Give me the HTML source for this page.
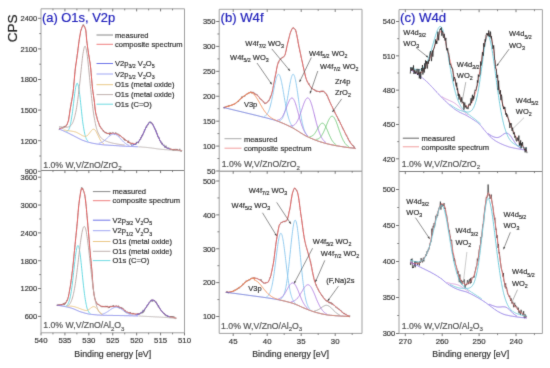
<!DOCTYPE html>
<html><head><meta charset="utf-8"><style>html,body{margin:0;padding:0;background:#fff;overflow:hidden}svg{display:block;}</style></head><body>
<svg width="550" height="368" viewBox="0 0 550 368" font-family='"Liberation Sans", sans-serif'>
<defs><filter id="bl" x="0" y="0" width="550" height="368" filterUnits="userSpaceOnUse"><feConvolveMatrix order="3" kernelMatrix="0.0113 0.0838 0.0113 0.0838 0.6193 0.0838 0.0113 0.0838 0.0113" edgeMode="duplicate"/></filter></defs>
<rect width="550" height="368" fill="#fff"/>
<g filter="url(#bl)">
<line x1="41.00" y1="8.80" x2="41.00" y2="170.50" stroke="#a0a0a0" stroke-width="1"/>
<line x1="184.50" y1="8.80" x2="184.50" y2="170.50" stroke="#a0a0a0" stroke-width="1"/>
<line x1="41.00" y1="8.80" x2="184.50" y2="8.80" stroke="#a0a0a0" stroke-width="1"/>
<line x1="41.00" y1="170.50" x2="184.50" y2="170.50" stroke="#808080" stroke-width="1"/>
<line x1="38.00" y1="18.30" x2="41.00" y2="18.30" stroke="#555" stroke-width="0.8"/>
<text x="37.20" y="21.10" font-size="7.5" fill="#3a3a3a" stroke="#3a3a3a" stroke-width="0.2" text-anchor="end" >2400</text>
<line x1="38.00" y1="48.90" x2="41.00" y2="48.90" stroke="#555" stroke-width="0.8"/>
<text x="37.20" y="51.70" font-size="7.5" fill="#3a3a3a" stroke="#3a3a3a" stroke-width="0.2" text-anchor="end" >2100</text>
<line x1="38.00" y1="79.50" x2="41.00" y2="79.50" stroke="#555" stroke-width="0.8"/>
<text x="37.20" y="82.30" font-size="7.5" fill="#3a3a3a" stroke="#3a3a3a" stroke-width="0.2" text-anchor="end" >1800</text>
<line x1="38.00" y1="110.10" x2="41.00" y2="110.10" stroke="#555" stroke-width="0.8"/>
<text x="37.20" y="112.90" font-size="7.5" fill="#3a3a3a" stroke="#3a3a3a" stroke-width="0.2" text-anchor="end" >1500</text>
<line x1="38.00" y1="140.70" x2="41.00" y2="140.70" stroke="#555" stroke-width="0.8"/>
<text x="37.20" y="143.50" font-size="7.5" fill="#3a3a3a" stroke="#3a3a3a" stroke-width="0.2" text-anchor="end" >1200</text>
<line x1="38.00" y1="171.30" x2="41.00" y2="171.30" stroke="#555" stroke-width="0.8"/>
<text x="37.20" y="174.10" font-size="7.5" fill="#3a3a3a" stroke="#3a3a3a" stroke-width="0.2" text-anchor="end" >900</text>
<line x1="39.20" y1="33.60" x2="41.00" y2="33.60" stroke="#555" stroke-width="0.7"/>
<line x1="39.20" y1="64.20" x2="41.00" y2="64.20" stroke="#555" stroke-width="0.7"/>
<line x1="39.20" y1="94.80" x2="41.00" y2="94.80" stroke="#555" stroke-width="0.7"/>
<line x1="39.20" y1="125.40" x2="41.00" y2="125.40" stroke="#555" stroke-width="0.7"/>
<line x1="39.20" y1="156.00" x2="41.00" y2="156.00" stroke="#555" stroke-width="0.7"/>
<line x1="64.92" y1="8.80" x2="64.92" y2="11.40" stroke="#555" stroke-width="0.8"/>
<line x1="88.83" y1="8.80" x2="88.83" y2="11.40" stroke="#555" stroke-width="0.8"/>
<line x1="112.75" y1="8.80" x2="112.75" y2="11.40" stroke="#555" stroke-width="0.8"/>
<line x1="136.67" y1="8.80" x2="136.67" y2="11.40" stroke="#555" stroke-width="0.8"/>
<line x1="160.58" y1="8.80" x2="160.58" y2="11.40" stroke="#555" stroke-width="0.8"/>
<line x1="52.96" y1="8.80" x2="52.96" y2="10.40" stroke="#555" stroke-width="0.7"/>
<line x1="76.88" y1="8.80" x2="76.88" y2="10.40" stroke="#555" stroke-width="0.7"/>
<line x1="100.79" y1="8.80" x2="100.79" y2="10.40" stroke="#555" stroke-width="0.7"/>
<line x1="124.71" y1="8.80" x2="124.71" y2="10.40" stroke="#555" stroke-width="0.7"/>
<line x1="148.62" y1="8.80" x2="148.62" y2="10.40" stroke="#555" stroke-width="0.7"/>
<line x1="172.54" y1="8.80" x2="172.54" y2="10.40" stroke="#555" stroke-width="0.7"/>
<path d="M59.0,130.1 59.3,129.2 59.6,128.9 59.9,127.6 60.2,128.4 60.5,128.3 60.8,128.3 61.2,127.9 61.5,128.1 61.8,127.7 62.1,127.1 62.4,128.3 62.7,128.2 63.0,128.5 63.3,127.4 63.6,127.0 63.9,126.8 64.2,126.0 64.5,127.4 64.9,126.0 65.2,125.8 65.5,126.2 65.8,127.0 66.1,126.0 66.4,125.0 66.7,124.8 67.0,125.0 67.3,123.8 67.6,122.6 67.9,122.0 68.2,121.6 68.6,120.9 68.9,117.3 69.2,115.8 69.5,113.7 69.8,110.7 70.1,109.6 70.4,107.5 70.7,107.0 71.0,104.6 71.3,102.0 71.6,101.8 71.9,99.5 72.3,96.9 72.6,95.7 72.9,93.6 73.2,91.0 73.5,88.7 73.8,84.0 74.1,81.7 74.4,78.8 74.7,75.2 75.0,72.1 75.3,69.2 75.6,67.0 76.0,63.3 76.3,62.4 76.6,58.8 76.9,57.5 77.2,54.5 77.5,53.8 77.8,51.5 78.1,48.1 78.4,47.0 78.7,43.3 79.0,41.6 79.3,39.4 79.7,36.5 80.0,35.4 80.3,34.4 80.6,31.0 80.9,30.9 81.2,29.3 81.5,29.6 81.8,28.0 82.1,27.3 82.4,26.7 82.7,25.9 83.0,24.6 83.4,26.2 83.7,24.7 84.0,25.9 84.3,26.6 84.6,26.2 84.9,27.5 85.2,28.9 85.5,29.0 85.8,30.2 86.1,31.8 86.4,36.4 86.7,40.2 87.1,43.2 87.4,45.3 87.7,48.3 88.0,49.8 88.3,52.1 88.6,54.5 88.9,55.5 89.2,57.6 89.5,60.7 89.8,61.7 90.1,62.5 90.4,65.8 90.8,69.4 91.1,73.3 91.4,76.3 91.7,79.5 92.0,83.0 92.3,87.0 92.6,89.5 92.9,91.4 93.2,93.7 93.5,95.5 93.8,98.3 94.1,99.6 94.5,102.9 94.8,106.5 95.1,109.3 95.4,110.5 95.7,113.5 96.0,113.7 96.3,115.7 96.6,116.1 96.9,116.7 97.2,118.9 97.5,120.0 97.8,120.8 98.2,121.9 98.5,122.3 98.8,123.0 99.1,124.1 99.4,126.1 99.7,126.1 100.0,125.9 100.3,127.1 100.6,127.0 100.9,127.5 101.2,128.8 101.5,128.5 101.8,128.2 102.2,129.1 102.5,130.0 102.8,130.4 103.1,131.3 103.4,130.4 103.7,131.6 104.0,131.6 104.3,131.6 104.6,132.4 104.9,132.4 105.2,131.9 105.5,133.2 105.9,132.0 106.2,133.0 106.5,133.1 106.8,133.5 107.1,132.9 107.4,133.4 107.7,133.4 108.0,134.1 108.3,133.0 108.6,133.5 108.9,133.3 109.2,132.7 109.6,135.1 109.9,133.4 110.2,132.5 110.5,134.3 110.8,132.8 111.1,133.6 111.4,133.9 111.7,133.0 112.0,133.1 112.3,133.0 112.6,133.2 112.9,132.3 113.3,132.6 113.6,133.2 113.9,133.9 114.2,133.7 114.5,134.4 114.8,133.8 115.1,133.2 115.4,133.5 115.7,132.4 116.0,133.2 116.3,133.2 116.6,134.1 117.0,134.5 117.3,133.9 117.6,134.0 117.9,133.6 118.2,134.6 118.5,134.9 118.8,135.2 119.1,134.6 119.4,136.4 119.7,136.1 120.0,135.5 120.3,135.5 120.7,135.8 121.0,136.3 121.3,136.5 121.6,137.0 121.9,137.4 122.2,138.0 122.5,138.2 122.8,137.7 123.1,138.2 123.4,138.0 123.7,138.2 124.0,139.9 124.4,138.7 124.7,140.5 125.0,139.3 125.3,139.9 125.6,140.6 125.9,140.2 126.2,140.6 126.5,140.5 126.8,140.6 127.1,141.0 127.4,140.9 127.7,142.5 128.1,141.7 128.4,143.0 128.7,140.6 129.0,142.4 129.3,142.8 129.6,142.5 129.9,143.4 130.2,143.3 130.5,142.8 130.8,143.3 131.1,144.9 131.4,143.4 131.8,143.5 132.1,143.2 132.4,143.6 132.7,142.8 133.0,143.5 133.3,145.1 133.6,144.3 133.9,144.1 134.2,144.4 134.5,144.9 134.8,144.1 135.1,144.9 135.5,144.3 135.8,143.6 136.1,144.5 136.4,141.9 136.7,142.8 137.0,143.1 137.3,142.2 137.6,142.4 137.9,141.9 138.2,141.6 138.5,143.2 138.8,141.6 139.2,140.8 139.5,141.1 139.8,139.7 140.1,139.9 140.4,139.1 140.7,139.4 141.0,137.0 141.3,137.8 141.6,136.8 141.9,135.5 142.2,136.2 142.5,134.4 142.8,135.3 143.2,134.0 143.5,133.4 143.8,132.4 144.1,132.2 144.4,129.9 144.7,130.3 145.0,129.3 145.3,129.1 145.6,128.3 145.9,128.0 146.2,126.5 146.5,127.5 146.9,127.3 147.2,125.2 147.5,124.8 147.8,124.5 148.1,124.7 148.4,124.7 148.7,122.5 149.0,122.6 149.3,122.1 149.6,121.9 149.9,121.5 150.2,122.7 150.6,121.8 150.9,123.5 151.2,123.3 151.5,122.4 151.8,122.6 152.1,123.2 152.4,124.9 152.7,124.0 153.0,124.1 153.3,125.5 153.6,126.4 153.9,126.4 154.3,128.4 154.6,128.2 154.9,129.1 155.2,129.0 155.5,130.2 155.8,130.9 156.1,130.4 156.4,132.7 156.7,132.2 157.0,134.0 157.3,133.8 157.6,136.7 158.0,136.4 158.3,137.4 158.6,138.1 158.9,137.4 159.2,137.5 159.5,139.3 159.8,140.6 160.1,140.7 160.4,141.7 160.7,142.3 161.0,141.4 161.3,142.9 161.7,144.4 162.0,143.3 162.3,142.8 162.6,144.3 162.9,144.5 163.2,145.4 163.5,145.0 163.8,145.8 164.1,144.7 164.4,146.9 164.7,147.5 165.0,147.6 165.4,146.1 165.7,147.4 166.0,145.6 166.3,147.8 166.6,147.7 166.9,147.3 167.2,148.3 167.5,148.3 167.8,148.9 168.1,148.5 168.4,148.7 168.7,147.5 169.1,148.0 169.4,148.5 169.7,149.1 170.0,149.0 170.3,149.9 170.6,148.6 170.9,149.0 171.2,149.4 171.5,149.2 171.8,149.7 172.1,149.1 172.4,150.3 172.8,149.3 173.1,150.2 173.4,149.6 173.7,150.6 174.0,148.9 174.3,150.1 174.6,149.5 174.9,150.0 175.2,150.6 175.5,149.2 175.8,149.2 176.1,149.4 176.5,150.2 176.8,148.9 177.1,150.2 177.4,149.4 177.7,149.5 178.0,150.0 178.3,150.5 178.6,149.9 178.9,150.0 179.2,150.3 179.5,150.2 179.8,148.8 180.2,150.2 180.5,150.5 180.8,151.2 181.1,151.8 181.4,151.0 181.7,150.7 182.0,150.1" fill="none" stroke="#666" stroke-width="0.6" stroke-opacity="1.0" stroke-linejoin="round" />
<path d="M59.0,129.0 59.3,128.9 59.6,128.8 59.9,128.7 60.2,128.6 60.5,128.5 60.8,128.4 61.2,128.3 61.5,128.2 61.8,128.0 62.1,127.9 62.4,127.8 62.7,127.6 63.0,127.5 63.3,127.4 63.6,127.2 63.9,127.1 64.2,127.0 64.5,126.8 64.9,126.7 65.2,126.5 65.5,126.3 65.8,126.1 66.1,125.9 66.4,125.6 66.7,125.2 67.0,124.6 67.3,123.9 67.6,123.1 67.9,122.2 68.2,121.1 68.6,119.7 68.9,118.0 69.2,116.2 69.5,114.2 69.8,112.1 70.1,110.1 70.4,108.2 70.7,106.3 71.0,104.6 71.3,103.0 71.6,101.4 71.9,99.7 72.3,97.9 72.6,96.0 72.9,93.9 73.2,91.5 73.5,88.6 73.8,85.3 74.1,81.8 74.4,78.2 74.7,74.7 75.0,71.4 75.3,68.5 75.6,66.1 76.0,63.9 76.3,61.9 76.6,59.9 76.9,57.9 77.2,55.6 77.5,53.2 77.8,50.7 78.1,48.3 78.4,45.9 78.7,43.7 79.0,41.5 79.3,39.3 79.7,37.2 80.0,35.1 80.3,33.3 80.6,31.6 80.9,30.4 81.2,29.4 81.5,28.5 81.8,27.7 82.1,26.9 82.4,26.3 82.7,25.8 83.0,25.5 83.4,25.4 83.7,25.5 84.0,25.8 84.3,26.2 84.6,26.8 84.9,27.4 85.2,28.2 85.5,29.0 85.8,30.7 86.1,33.6 86.4,37.0 86.7,40.5 87.1,43.5 87.4,45.9 87.7,48.1 88.0,50.2 88.3,52.2 88.6,54.1 88.9,56.0 89.2,57.8 89.5,59.4 89.8,61.2 90.1,63.3 90.4,65.9 90.8,69.0 91.1,72.5 91.4,76.2 91.7,79.9 92.0,83.4 92.3,86.6 92.6,89.3 92.9,91.7 93.2,93.8 93.5,95.8 93.8,97.8 94.1,100.0 94.5,102.6 94.8,106.0 95.1,109.0 95.4,111.0 95.7,112.7 96.0,114.1 96.3,115.4 96.6,116.6 96.9,117.7 97.2,118.8 97.5,119.8 97.8,120.8 98.2,121.8 98.5,122.6 98.8,123.5 99.1,124.2 99.4,124.9 99.7,125.6 100.0,126.2 100.3,126.8 100.6,127.3 100.9,127.8 101.2,128.3 101.5,128.8 101.8,129.2 102.2,129.6 102.5,130.0 102.8,130.3 103.1,130.6 103.4,130.8 103.7,131.1 104.0,131.4 104.3,131.6 104.6,131.9 104.9,132.1 105.2,132.4 105.5,132.6 105.9,132.8 106.2,133.0 106.5,133.1 106.8,133.3 107.1,133.4 107.4,133.4 107.7,133.5 108.0,133.5 108.3,133.5 108.6,133.5 108.9,133.5 109.2,133.5 109.6,133.5 109.9,133.4 110.2,133.4 110.5,133.4 110.8,133.4 111.1,133.4 111.4,133.4 111.7,133.4 112.0,133.3 112.3,133.3 112.6,133.3 112.9,133.3 113.3,133.3 113.6,133.3 113.9,133.3 114.2,133.3 114.5,133.4 114.8,133.4 115.1,133.5 115.4,133.6 115.7,133.6 116.0,133.7 116.3,133.9 116.6,134.0 117.0,134.1 117.3,134.2 117.6,134.4 117.9,134.5 118.2,134.6 118.5,134.8 118.8,134.9 119.1,135.1 119.4,135.2 119.7,135.4 120.0,135.6 120.3,135.8 120.7,136.0 121.0,136.2 121.3,136.5 121.6,136.7 121.9,137.0 122.2,137.2 122.5,137.5 122.8,137.7 123.1,138.0 123.4,138.3 123.7,138.5 124.0,138.8 124.4,139.0 124.7,139.3 125.0,139.5 125.3,139.7 125.6,139.9 125.9,140.2 126.2,140.4 126.5,140.6 126.8,140.9 127.1,141.1 127.4,141.3 127.7,141.6 128.1,141.8 128.4,142.0 128.7,142.2 129.0,142.3 129.3,142.5 129.6,142.6 129.9,142.8 130.2,142.9 130.5,143.0 130.8,143.1 131.1,143.2 131.4,143.3 131.8,143.3 132.1,143.4 132.4,143.5 132.7,143.6 133.0,143.6 133.3,143.7 133.6,143.7 133.9,143.7 134.2,143.7 134.5,143.7 134.8,143.7 135.1,143.7 135.5,143.6 135.8,143.5 136.1,143.4 136.4,143.3 136.7,143.1 137.0,143.0 137.3,142.8 137.6,142.5 137.9,142.3 138.2,142.0 138.5,141.6 138.8,141.2 139.2,140.8 139.5,140.3 139.8,139.9 140.1,139.4 140.4,138.9 140.7,138.4 141.0,137.9 141.3,137.3 141.6,136.7 141.9,136.2 142.2,135.6 142.5,134.9 142.8,134.3 143.2,133.6 143.5,133.0 143.8,132.3 144.1,131.7 144.4,131.0 144.7,130.3 145.0,129.6 145.3,129.0 145.6,128.3 145.9,127.7 146.2,127.0 146.5,126.4 146.9,125.9 147.2,125.3 147.5,124.8 147.8,124.3 148.1,123.9 148.4,123.5 148.7,123.2 149.0,122.9 149.3,122.7 149.6,122.6 149.9,122.5 150.2,122.4 150.6,122.5 150.9,122.6 151.2,122.7 151.5,123.0 151.8,123.3 152.1,123.6 152.4,124.0 152.7,124.5 153.0,125.0 153.3,125.5 153.6,126.1 153.9,126.8 154.3,127.4 154.6,128.1 154.9,128.8 155.2,129.5 155.5,130.2 155.8,131.0 156.1,131.7 156.4,132.5 156.7,133.2 157.0,134.0 157.3,134.7 157.6,135.4 158.0,136.2 158.3,136.9 158.6,137.5 158.9,138.2 159.2,138.9 159.5,139.5 159.8,140.1 160.1,140.7 160.4,141.2 160.7,141.7 161.0,142.3 161.3,142.7 161.7,143.2 162.0,143.6 162.3,144.1 162.6,144.4 162.9,144.8 163.2,145.2 163.5,145.5 163.8,145.8 164.1,146.1 164.4,146.3 164.7,146.6 165.0,146.8 165.4,147.0 165.7,147.2 166.0,147.4 166.3,147.6 166.6,147.8 166.9,147.9 167.2,148.1 167.5,148.2 167.8,148.3 168.1,148.4 168.4,148.5 168.7,148.6 169.1,148.7 169.4,148.8 169.7,148.9 170.0,149.0 170.3,149.0 170.6,149.1 170.9,149.2 171.2,149.2 171.5,149.3 171.8,149.4 172.1,149.4 172.4,149.5 172.8,149.5 173.1,149.6 173.4,149.6 173.7,149.7 174.0,149.7 174.3,149.7 174.6,149.8 174.9,149.8 175.2,149.9 175.5,149.9 175.8,150.0 176.1,150.0 176.5,150.0 176.8,150.1 177.1,150.1 177.4,150.1 177.7,150.2 178.0,150.2 178.3,150.2 178.6,150.3 178.9,150.3 179.2,150.4 179.5,150.4 179.8,150.4 180.2,150.5 180.5,150.5 180.8,150.5 181.1,150.6 181.4,150.6 181.7,150.6 182.0,150.7" fill="none" stroke="#e86262" stroke-width="1.0" stroke-opacity="1" stroke-linejoin="round" />
<path d="M59.0,129.0 59.3,129.1 59.6,129.2 59.9,129.4 60.2,129.5 60.5,129.6 60.8,129.7 61.2,129.9 61.5,130.0 61.8,130.1 62.1,130.3 62.4,130.4 62.7,130.5 63.0,130.7 63.3,130.8 63.6,130.9 63.9,131.1 64.2,131.2 64.5,131.3 64.9,131.5 65.2,131.6 65.5,131.8 65.8,131.9 66.1,132.0 66.4,132.2 66.7,132.3 67.0,132.5 67.3,132.6 67.6,132.8 67.9,132.9 68.2,133.1 68.6,133.2 68.9,133.4 69.2,133.5 69.5,133.7 69.8,133.9 70.1,134.0 70.4,134.2 70.7,134.3 71.0,134.5 71.3,134.7 71.6,134.8 71.9,135.0 72.3,135.1 72.6,135.3 72.9,135.4 73.2,135.6 73.5,135.7 73.8,135.9 74.1,136.1 74.4,136.2 74.7,136.4 75.0,136.5 75.3,136.7 75.6,136.8 76.0,137.0 76.3,137.2 76.6,137.3 76.9,137.5 77.2,137.6 77.5,137.8 77.8,138.0 78.1,138.1 78.4,138.3 78.7,138.4 79.0,138.6 79.3,138.8 79.7,138.9 80.0,139.1 80.3,139.2 80.6,139.4 80.9,139.5 81.2,139.7 81.5,139.8 81.8,139.9 82.1,140.1 82.4,140.2 82.7,140.3 83.0,140.4 83.4,140.5 83.7,140.7 84.0,140.8 84.3,140.9 84.6,141.0 84.9,141.1 85.2,141.2 85.5,141.3 85.8,141.4 86.1,141.5 86.4,141.6 86.7,141.7 87.1,141.8 87.4,141.9 87.7,142.0 88.0,142.1 88.3,142.2 88.6,142.2 88.9,142.3 89.2,142.4 89.5,142.5 89.8,142.6 90.1,142.7 90.4,142.7 90.8,142.8 91.1,142.9 91.4,143.0 91.7,143.0 92.0,143.1 92.3,143.2 92.6,143.2 92.9,143.3 93.2,143.3 93.5,143.4 93.8,143.5 94.1,143.5 94.5,143.6 94.8,143.6 95.1,143.7 95.4,143.7 95.7,143.8 96.0,143.8 96.3,143.9 96.6,143.9 96.9,144.0 97.2,144.0 97.5,144.1 97.8,144.1 98.2,144.2 98.5,144.2 98.8,144.2 99.1,144.3 99.4,144.3 99.7,144.4 100.0,144.4 100.3,144.4 100.6,144.5 100.9,144.5 101.2,144.6 101.5,144.6 101.8,144.6 102.2,144.7 102.5,144.7 102.8,144.7 103.1,144.7 103.4,144.8 103.7,144.8 104.0,144.8 104.3,144.9 104.6,144.9 104.9,144.9 105.2,144.9 105.5,145.0 105.9,145.0 106.2,145.0 106.5,145.0 106.8,145.1 107.1,145.1 107.4,145.1 107.7,145.1 108.0,145.1 108.3,145.2 108.6,145.2 108.9,145.2 109.2,145.2 109.6,145.3 109.9,145.3 110.2,145.3 110.5,145.3 110.8,145.3 111.1,145.4 111.4,145.4 111.7,145.4 112.0,145.4 112.3,145.4 112.6,145.4 112.9,145.5 113.3,145.5 113.6,145.5 113.9,145.5 114.2,145.5 114.5,145.6 114.8,145.6 115.1,145.6 115.4,145.6 115.7,145.6 116.0,145.7 116.3,145.7 116.6,145.7 117.0,145.7 117.3,145.7 117.6,145.8 117.9,145.8 118.2,145.8 118.5,145.8 118.8,145.8 119.1,145.9 119.4,145.9 119.7,145.9 120.0,145.9 120.3,145.9 120.7,146.0 121.0,146.0 121.3,146.0 121.6,146.0 121.9,146.0 122.2,146.0 122.5,146.1 122.8,146.1 123.1,146.1 123.4,146.1 123.7,146.1 124.0,146.1 124.4,146.2 124.7,146.2 125.0,146.2 125.3,146.2 125.6,146.2 125.9,146.2 126.2,146.3 126.5,146.3 126.8,146.3 127.1,146.3 127.4,146.3 127.7,146.3 128.1,146.3 128.4,146.4 128.7,146.4 129.0,146.4 129.3,146.4 129.6,146.4 129.9,146.4 130.2,146.4 130.5,146.5 130.8,146.5 131.1,146.5 131.4,146.5 131.8,146.5 132.1,146.5 132.4,146.5 132.7,146.5 133.0,146.6 133.3,146.6 133.6,146.6 133.9,146.6 134.2,146.6 134.5,146.6 134.8,146.6 135.1,146.6 135.5,146.7 135.8,146.7 136.1,146.7 136.4,146.7 136.7,146.7 137.0,146.7 137.3,146.7 137.6,146.8 137.9,146.8" fill="none" stroke="#6f74e6" stroke-width="0.85" stroke-opacity="1.0" stroke-linejoin="round" />
<path d="M138.2,146.8 138.5,146.8 138.8,146.8 139.2,146.8 139.5,146.9 139.8,146.9 140.1,146.9 140.4,146.9 140.7,146.9 141.0,147.0 141.3,147.0 141.6,147.0 141.9,147.0 142.2,147.1 142.5,147.1 142.8,147.1 143.2,147.1 143.5,147.2 143.8,147.2 144.1,147.2 144.4,147.2 144.7,147.3 145.0,147.3 145.3,147.3 145.6,147.3 145.9,147.4 146.2,147.4 146.5,147.4 146.9,147.5 147.2,147.5 147.5,147.5 147.8,147.6 148.1,147.6 148.4,147.6 148.7,147.7 149.0,147.7 149.3,147.7 149.6,147.8 149.9,147.8 150.2,147.8 150.6,147.9 150.9,147.9 151.2,147.9 151.5,148.0 151.8,148.0 152.1,148.1 152.4,148.1 152.7,148.2 153.0,148.2 153.3,148.2 153.6,148.3 153.9,148.3 154.3,148.4 154.6,148.4 154.9,148.5 155.2,148.5 155.5,148.6 155.8,148.6 156.1,148.7 156.4,148.7 156.7,148.8 157.0,148.8 157.3,148.9 157.6,148.9 158.0,149.0 158.3,149.0 158.6,149.0 158.9,149.1 159.2,149.1 159.5,149.1 159.8,149.2 160.1,149.2 160.4,149.2 160.7,149.3 161.0,149.3 161.3,149.3 161.7,149.4 162.0,149.4 162.3,149.4 162.6,149.4 162.9,149.5 163.2,149.5 163.5,149.5 163.8,149.5 164.1,149.6 164.4,149.6 164.7,149.6 165.0,149.6 165.4,149.7 165.7,149.7 166.0,149.7 166.3,149.7 166.6,149.7 166.9,149.8 167.2,149.8 167.5,149.8 167.8,149.8 168.1,149.9 168.4,149.9 168.7,149.9 169.1,149.9 169.4,149.9 169.7,150.0 170.0,150.0 170.3,150.0 170.6,150.0 170.9,150.1 171.2,150.1 171.5,150.1 171.8,150.1 172.1,150.2 172.4,150.2 172.8,150.2 173.1,150.3 173.4,150.3 173.7,150.3 174.0,150.3 174.3,150.4 174.6,150.4 174.9,150.4 175.2,150.4 175.5,150.5 175.8,150.5 176.1,150.5 176.5,150.5 176.8,150.6 177.1,150.6 177.4,150.6 177.7,150.6 178.0,150.7 178.3,150.7 178.6,150.7 178.9,150.7 179.2,150.8 179.5,150.8 179.8,150.8 180.2,150.8 180.5,150.9 180.8,150.9 181.1,150.9 181.4,150.9 181.7,151.0 182.0,151.0" fill="none" stroke="#b4aaa8" stroke-width="0.85" stroke-opacity="1.0" stroke-linejoin="round" />
<path d="M66.4,131.5 66.7,131.4 67.0,131.3 67.3,131.2 67.6,131.0 67.9,130.7 68.2,130.3 68.6,129.9 68.9,129.3 69.2,128.7 69.5,127.9 69.8,126.9 70.1,125.8 70.4,124.6 70.7,123.2 71.0,121.6 71.3,119.8 71.6,117.9 71.9,115.8 72.3,113.6 72.6,111.3 72.9,108.8 73.2,106.3 73.5,103.7 73.8,101.1 74.1,98.5 74.4,96.0 74.7,93.6 75.0,91.4 75.3,89.3 75.6,87.5 76.0,86.0 76.3,84.8 76.6,83.9 76.9,83.3 77.2,83.2 77.5,83.4 77.8,84.0 78.1,84.9 78.4,86.2 78.7,87.9 79.0,89.8 79.3,92.0 79.7,94.4 80.0,97.0 80.3,99.7 80.6,102.6 80.9,105.4 81.2,108.3 81.5,111.2 81.8,114.0 82.1,116.7 82.4,119.3 82.7,121.8 83.0,124.1 83.4,126.3 83.7,128.2 84.0,130.0 84.3,131.7 84.6,133.1 84.9,134.5 85.2,135.6 85.5,136.7 85.8,137.5 86.1,138.3 86.4,139.0 86.7,139.6 87.1,140.1 87.4,140.5 87.7,140.9 88.0,141.2 88.3,141.5" fill="none" stroke="#5fd7e0" stroke-width="0.95" stroke-opacity="1.0" stroke-linejoin="round" />
<path d="M59.0,126.4 59.3,126.5 59.6,126.6 59.9,126.6 60.2,126.7 60.5,126.7 60.8,126.8 61.2,126.8 61.5,126.9 61.8,126.9 62.1,127.0 62.4,127.0 62.7,127.1 63.0,127.1 63.3,127.2 63.6,127.2 63.9,127.2 64.2,127.3 64.5,127.3 64.9,127.3 65.2,127.3 65.5,127.3 65.8,127.3 66.1,127.3 66.4,127.3 66.7,127.3 67.0,127.3 67.3,127.2 67.6,127.2 67.9,127.1 68.2,127.0 68.6,126.9 68.9,126.8 69.2,126.7 69.5,126.5 69.8,126.3 70.1,126.1 70.4,125.9 70.7,125.6 71.0,125.3 71.3,124.9 71.6,124.5 71.9,124.0 72.3,123.5 72.6,122.9 72.9,122.3 73.2,121.5 73.5,120.7 73.8,119.9 74.1,118.9 74.4,117.8 74.7,116.7 75.0,115.5 75.3,114.1 75.6,112.7 76.0,111.1 76.3,109.4 76.6,107.7 76.9,105.8 77.2,103.8 77.5,101.6 77.8,99.4 78.1,97.0 78.4,94.6 78.7,92.0 79.0,89.4 79.3,86.7 79.7,83.9 80.0,81.0 80.3,78.1 80.6,75.1 80.9,72.2 81.2,69.2 81.5,66.3 81.8,63.5 82.1,60.8 82.4,58.2 82.7,55.7 83.0,53.5 83.4,51.5 83.7,49.8 84.0,48.3 84.3,47.2 84.6,46.5 84.9,46.2 85.2,46.2 85.5,46.6 85.8,47.5 86.1,48.6 86.4,50.2 86.7,52.0 87.1,54.1 87.4,56.5 87.7,59.1 88.0,61.9 88.3,64.8 88.6,67.8 88.9,70.9 89.2,74.1 89.5,77.2 89.8,80.4 90.1,83.6 90.4,86.7 90.8,89.7 91.1,92.7 91.4,95.6 91.7,98.4 92.0,101.2 92.3,103.8 92.6,106.3 92.9,108.6 93.2,110.9 93.5,113.1 93.8,115.1 94.1,117.0 94.5,118.8 94.8,120.5 95.1,122.1 95.4,123.6 95.7,125.0 96.0,126.3 96.3,127.5 96.6,128.6 96.9,129.6 97.2,130.6 97.5,131.4 97.8,132.2 98.2,133.0 98.5,133.7 98.8,134.3 99.1,134.9 99.4,135.4 99.7,135.9 100.0,136.4 100.3,136.8 100.6,137.2 100.9,137.6 101.2,137.9 101.5,138.2 101.8,138.5 102.2,138.8 102.5,139.0 102.8,139.3 103.1,139.5 103.4,139.7 103.7,139.9 104.0,140.1 104.3,140.2 104.6,140.4 104.9,140.6 105.2,140.7 105.5,140.9 105.9,141.0 106.2,141.1 106.5,141.3 106.8,141.4 107.1,141.5 107.4,141.6 107.7,141.7 108.0,141.9 108.3,142.0 108.6,142.1 108.9,142.2 109.2,142.2 109.6,142.3 109.9,142.4 110.2,142.5 110.5,142.6 110.8,142.7 111.1,142.8 111.4,142.8 111.7,142.9 112.0,143.0 112.3,143.1 112.6,143.1 112.9,143.2 113.3,143.3 113.6,143.3 113.9,143.4 114.2,143.4 114.5,143.5 114.8,143.6 115.1,143.6 115.4,143.7 115.7,143.7 116.0,143.8 116.3,143.9 116.6,143.9 117.0,144.0 117.3,144.0 117.6,144.1 117.9,144.1 118.2,144.2 118.5,144.2 118.8,144.3 119.1,144.3 119.4,144.4 119.7,144.4 120.0,144.4 120.3,144.5 120.7,144.5 121.0,144.6 121.3,144.6 121.6,144.7 121.9,144.7 122.2,144.7 122.5,144.8 122.8,144.8 123.1,144.8 123.4,144.9 123.7,144.9 124.0,145.0 124.4,145.0 124.7,145.0" fill="none" stroke="#b9a9a6" stroke-width="0.95" stroke-opacity="1.0" stroke-linejoin="round" />
<path d="M63.6,129.9 63.9,130.0 64.2,130.1 64.5,130.1 64.9,130.2 65.2,130.2 65.5,130.3 65.8,130.3 66.1,130.4 66.4,130.4 66.7,130.5 67.0,130.5 67.3,130.6 67.6,130.6 67.9,130.7 68.2,130.7 68.6,130.7 68.9,130.8 69.2,130.8 69.5,130.9 69.8,130.9 70.1,130.9 70.4,131.0 70.7,131.0 71.0,131.1 71.3,131.1 71.6,131.2 71.9,131.2 72.3,131.3 72.6,131.3 72.9,131.4 73.2,131.4 73.5,131.5 73.8,131.5 74.1,131.6 74.4,131.7 74.7,131.8 75.0,131.9 75.3,131.9 75.6,132.0 76.0,132.2 76.3,132.3 76.6,132.4 76.9,132.5 77.2,132.7 77.5,132.8 77.8,133.0 78.1,133.1 78.4,133.3 78.7,133.5 79.0,133.6 79.3,133.8 79.7,134.0 80.0,134.2 80.3,134.4 80.6,134.5 80.9,134.7 81.2,134.9 81.5,135.1 81.8,135.3 82.1,135.4 82.4,135.6 82.7,135.7 83.0,135.9 83.4,136.0 83.7,136.1 84.0,136.2 84.3,136.3 84.6,136.3 84.9,136.4 85.2,136.4 85.5,136.3 85.8,136.3 86.1,136.2 86.4,136.1 86.7,135.9 87.1,135.7 87.4,135.5 87.7,135.2 88.0,134.9 88.3,134.6 88.6,134.3 88.9,133.9 89.2,133.5 89.5,133.1 89.8,132.7 90.1,132.2 90.4,131.8 90.8,131.4 91.1,131.0 91.4,130.6 91.7,130.3 92.0,130.0 92.3,129.7 92.6,129.5 92.9,129.3 93.2,129.3 93.5,129.2 93.8,129.3 94.1,129.4 94.5,129.5 94.8,129.8 95.1,130.1 95.4,130.5 95.7,130.9 96.0,131.4 96.3,131.9 96.6,132.5 96.9,133.1 97.2,133.7 97.5,134.3 97.8,135.0 98.2,135.7 98.5,136.3 98.8,137.0 99.1,137.6 99.4,138.3 99.7,138.9 100.0,139.4 100.3,140.0 100.6,140.5 100.9,141.0 101.2,141.4 101.5,141.8 101.8,142.2 102.2,142.6 102.5,142.9 102.8,143.2 103.1,143.4 103.4,143.6 103.7,143.8 104.0,144.0" fill="none" stroke="#e8c27a" stroke-width="0.95" stroke-opacity="1.0" stroke-linejoin="round" />
<path d="M98.8,143.3 99.1,143.3 99.4,143.2 99.7,143.1 100.0,143.0 100.3,142.9 100.6,142.8 100.9,142.7 101.2,142.6 101.5,142.4 101.8,142.3 102.2,142.1 102.5,142.0 102.8,141.8 103.1,141.6 103.4,141.4 103.7,141.2 104.0,140.9 104.3,140.7 104.6,140.4 104.9,140.2 105.2,139.9 105.5,139.6 105.9,139.4 106.2,139.1 106.5,138.8 106.8,138.5 107.1,138.2 107.4,137.9 107.7,137.6 108.0,137.3 108.3,137.1 108.6,136.8 108.9,136.5 109.2,136.2 109.6,136.0 109.9,135.7 110.2,135.5 110.5,135.3 110.8,135.0 111.1,134.9 111.4,134.7 111.7,134.5 112.0,134.4 112.3,134.3 112.6,134.2 112.9,134.1 113.3,134.1 113.6,134.0 113.9,134.0 114.2,134.1 114.5,134.1 114.8,134.2 115.1,134.3 115.4,134.4 115.7,134.5 116.0,134.7 116.3,134.8 116.6,135.0 117.0,135.3 117.3,135.5 117.6,135.7 117.9,136.0 118.2,136.3 118.5,136.6 118.8,136.9 119.1,137.2 119.4,137.5 119.7,137.8 120.0,138.2 120.3,138.5 120.7,138.8 121.0,139.2 121.3,139.5 121.6,139.8 121.9,140.2 122.2,140.5 122.5,140.8 122.8,141.1 123.1,141.4 123.4,141.7 123.7,142.0 124.0,142.3 124.4,142.6 124.7,142.8 125.0,143.1 125.3,143.3 125.6,143.5 125.9,143.8 126.2,144.0 126.5,144.2 126.8,144.3 127.1,144.5 127.4,144.7 127.7,144.8 128.1,145.0 128.4,145.1 128.7,145.3 129.0,145.4 129.3,145.5" fill="none" stroke="#959df2" stroke-width="0.95" stroke-opacity="1.0" stroke-linejoin="round" />
<path d="M131.1,145.4 131.4,145.4 131.8,145.3 132.1,145.2 132.4,145.2 132.7,145.1 133.0,145.0 133.3,144.9 133.6,144.9 133.9,144.7 134.2,144.6 134.5,144.5 134.8,144.4 135.1,144.2 135.5,144.1 135.8,143.9 136.1,143.7 136.4,143.5 136.7,143.2 137.0,143.0 137.3,142.7 137.6,142.4 137.9,142.1 138.2,141.8 138.5,141.4 138.8,141.1 139.2,140.7 139.5,140.3 139.8,139.8 140.1,139.4 140.4,138.9 140.7,138.4 141.0,137.9 141.3,137.3 141.6,136.7 141.9,136.2 142.2,135.6 142.5,134.9 142.8,134.3 143.2,133.7 143.5,133.0 143.8,132.3 144.1,131.7 144.4,131.0 144.7,130.3 145.0,129.6 145.3,129.0 145.6,128.3 145.9,127.7 146.2,127.0 146.5,126.4 146.9,125.9 147.2,125.3 147.5,124.8 147.8,124.3 148.1,123.9 148.4,123.5 148.7,123.2 149.0,122.9 149.3,122.7 149.6,122.6 149.9,122.5 150.2,122.4 150.6,122.5 150.9,122.6 151.2,122.7 151.5,123.0 151.8,123.3 152.1,123.6 152.4,124.0 152.7,124.5 153.0,125.0 153.3,125.5 153.6,126.1 153.9,126.8 154.3,127.4 154.6,128.1 154.9,128.8 155.2,129.5 155.5,130.2 155.8,131.0 156.1,131.7 156.4,132.5 156.7,133.2 157.0,134.0 157.3,134.7 157.6,135.4 158.0,136.2 158.3,136.9 158.6,137.5 158.9,138.2 159.2,138.9 159.5,139.5 159.8,140.1 160.1,140.7 160.4,141.2 160.7,141.7 161.0,142.3 161.3,142.7 161.7,143.2 162.0,143.6 162.3,144.1 162.6,144.4 162.9,144.8 163.2,145.2 163.5,145.5 163.8,145.8 164.1,146.1 164.4,146.3 164.7,146.6 165.0,146.8 165.4,147.0 165.7,147.2 166.0,147.4 166.3,147.6 166.6,147.8 166.9,147.9 167.2,148.1 167.5,148.2 167.8,148.3 168.1,148.4 168.4,148.5 168.7,148.6 169.1,148.7 169.4,148.8 169.7,148.9" fill="none" stroke="#5d66e6" stroke-width="0.95" stroke-opacity="1.0" stroke-linejoin="round" />
<line x1="41.00" y1="170.50" x2="41.00" y2="332.80" stroke="#a0a0a0" stroke-width="1"/>
<line x1="184.50" y1="170.50" x2="184.50" y2="332.80" stroke="#a0a0a0" stroke-width="1"/>
<line x1="41.00" y1="332.80" x2="184.50" y2="332.80" stroke="#a0a0a0" stroke-width="1"/>
<line x1="38.00" y1="177.20" x2="41.00" y2="177.20" stroke="#555" stroke-width="0.8"/>
<text x="37.20" y="180.00" font-size="7.5" fill="#3a3a3a" stroke="#3a3a3a" stroke-width="0.2" text-anchor="end" >3600</text>
<line x1="38.00" y1="205.04" x2="41.00" y2="205.04" stroke="#555" stroke-width="0.8"/>
<text x="37.20" y="207.84" font-size="7.5" fill="#3a3a3a" stroke="#3a3a3a" stroke-width="0.2" text-anchor="end" >3000</text>
<line x1="38.00" y1="232.88" x2="41.00" y2="232.88" stroke="#555" stroke-width="0.8"/>
<text x="37.20" y="235.68" font-size="7.5" fill="#3a3a3a" stroke="#3a3a3a" stroke-width="0.2" text-anchor="end" >2400</text>
<line x1="38.00" y1="260.72" x2="41.00" y2="260.72" stroke="#555" stroke-width="0.8"/>
<text x="37.20" y="263.52" font-size="7.5" fill="#3a3a3a" stroke="#3a3a3a" stroke-width="0.2" text-anchor="end" >1800</text>
<line x1="38.00" y1="288.56" x2="41.00" y2="288.56" stroke="#555" stroke-width="0.8"/>
<text x="37.20" y="291.36" font-size="7.5" fill="#3a3a3a" stroke="#3a3a3a" stroke-width="0.2" text-anchor="end" >1200</text>
<line x1="38.00" y1="316.40" x2="41.00" y2="316.40" stroke="#555" stroke-width="0.8"/>
<text x="37.20" y="319.20" font-size="7.5" fill="#3a3a3a" stroke="#3a3a3a" stroke-width="0.2" text-anchor="end" >600</text>
<line x1="39.20" y1="191.12" x2="41.00" y2="191.12" stroke="#555" stroke-width="0.7"/>
<line x1="39.20" y1="218.96" x2="41.00" y2="218.96" stroke="#555" stroke-width="0.7"/>
<line x1="39.20" y1="246.80" x2="41.00" y2="246.80" stroke="#555" stroke-width="0.7"/>
<line x1="39.20" y1="274.64" x2="41.00" y2="274.64" stroke="#555" stroke-width="0.7"/>
<line x1="39.20" y1="302.48" x2="41.00" y2="302.48" stroke="#555" stroke-width="0.7"/>
<line x1="64.92" y1="170.50" x2="64.92" y2="173.10" stroke="#555" stroke-width="0.8"/>
<line x1="88.83" y1="170.50" x2="88.83" y2="173.10" stroke="#555" stroke-width="0.8"/>
<line x1="112.75" y1="170.50" x2="112.75" y2="173.10" stroke="#555" stroke-width="0.8"/>
<line x1="136.67" y1="170.50" x2="136.67" y2="173.10" stroke="#555" stroke-width="0.8"/>
<line x1="160.58" y1="170.50" x2="160.58" y2="173.10" stroke="#555" stroke-width="0.8"/>
<line x1="52.96" y1="170.50" x2="52.96" y2="172.10" stroke="#555" stroke-width="0.7"/>
<line x1="76.88" y1="170.50" x2="76.88" y2="172.10" stroke="#555" stroke-width="0.7"/>
<line x1="100.79" y1="170.50" x2="100.79" y2="172.10" stroke="#555" stroke-width="0.7"/>
<line x1="124.71" y1="170.50" x2="124.71" y2="172.10" stroke="#555" stroke-width="0.7"/>
<line x1="148.62" y1="170.50" x2="148.62" y2="172.10" stroke="#555" stroke-width="0.7"/>
<line x1="172.54" y1="170.50" x2="172.54" y2="172.10" stroke="#555" stroke-width="0.7"/>
<line x1="41.00" y1="332.80" x2="41.00" y2="335.40" stroke="#555" stroke-width="0.8"/>
<text x="41.00" y="343.00" font-size="7.8" fill="#3a3a3a" stroke="#3a3a3a" stroke-width="0.2" text-anchor="middle" >540</text>
<line x1="64.92" y1="332.80" x2="64.92" y2="335.40" stroke="#555" stroke-width="0.8"/>
<text x="64.92" y="343.00" font-size="7.8" fill="#3a3a3a" stroke="#3a3a3a" stroke-width="0.2" text-anchor="middle" >535</text>
<line x1="88.83" y1="332.80" x2="88.83" y2="335.40" stroke="#555" stroke-width="0.8"/>
<text x="88.83" y="343.00" font-size="7.8" fill="#3a3a3a" stroke="#3a3a3a" stroke-width="0.2" text-anchor="middle" >530</text>
<line x1="112.75" y1="332.80" x2="112.75" y2="335.40" stroke="#555" stroke-width="0.8"/>
<text x="112.75" y="343.00" font-size="7.8" fill="#3a3a3a" stroke="#3a3a3a" stroke-width="0.2" text-anchor="middle" >525</text>
<line x1="136.67" y1="332.80" x2="136.67" y2="335.40" stroke="#555" stroke-width="0.8"/>
<text x="136.67" y="343.00" font-size="7.8" fill="#3a3a3a" stroke="#3a3a3a" stroke-width="0.2" text-anchor="middle" >520</text>
<line x1="160.58" y1="332.80" x2="160.58" y2="335.40" stroke="#555" stroke-width="0.8"/>
<text x="160.58" y="343.00" font-size="7.8" fill="#3a3a3a" stroke="#3a3a3a" stroke-width="0.2" text-anchor="middle" >515</text>
<line x1="184.50" y1="332.80" x2="184.50" y2="335.40" stroke="#555" stroke-width="0.8"/>
<text x="184.50" y="343.00" font-size="7.8" fill="#3a3a3a" stroke="#3a3a3a" stroke-width="0.2" text-anchor="middle" >510</text>
<line x1="52.96" y1="332.80" x2="52.96" y2="334.40" stroke="#555" stroke-width="0.7"/>
<line x1="76.88" y1="332.80" x2="76.88" y2="334.40" stroke="#555" stroke-width="0.7"/>
<line x1="100.79" y1="332.80" x2="100.79" y2="334.40" stroke="#555" stroke-width="0.7"/>
<line x1="124.71" y1="332.80" x2="124.71" y2="334.40" stroke="#555" stroke-width="0.7"/>
<line x1="148.62" y1="332.80" x2="148.62" y2="334.40" stroke="#555" stroke-width="0.7"/>
<line x1="172.54" y1="332.80" x2="172.54" y2="334.40" stroke="#555" stroke-width="0.7"/>
<path d="M56.8,305.3 57.1,305.6 57.4,304.7 57.7,305.7 58.0,305.0 58.3,304.3 58.6,304.8 58.9,305.5 59.2,305.3 59.5,304.4 59.8,305.4 60.1,304.9 60.4,305.1 60.7,305.0 61.0,304.0 61.3,304.9 61.6,304.2 61.9,305.5 62.2,304.9 62.5,304.4 62.8,303.7 63.1,304.2 63.4,304.2 63.7,303.2 64.0,305.2 64.3,303.9 64.6,304.5 64.9,302.7 65.2,304.1 65.5,302.1 65.8,302.3 66.1,302.7 66.4,302.1 66.7,300.1 67.0,300.2 67.3,300.6 67.6,300.5 67.9,298.9 68.2,297.2 68.5,296.7 68.8,294.1 69.1,293.6 69.4,290.8 69.7,289.9 70.0,288.1 70.3,286.8 70.6,284.2 70.9,283.1 71.2,280.2 71.5,278.6 71.8,276.3 72.1,272.4 72.4,271.1 72.7,268.5 73.0,265.3 73.3,263.0 73.6,259.0 73.9,257.1 74.2,253.9 74.5,250.6 74.8,248.8 75.1,244.5 75.4,241.4 75.7,237.9 76.0,235.6 76.3,231.9 76.6,230.2 76.9,226.0 77.2,223.3 77.5,220.9 77.8,216.7 78.1,212.5 78.4,209.8 78.7,205.8 79.0,203.7 79.3,201.1 79.6,198.4 79.9,197.1 80.2,195.4 80.5,192.7 80.8,190.7 81.1,189.7 81.4,187.5 81.7,188.0 82.0,187.6 82.3,189.6 82.6,188.3 82.9,188.3 83.2,190.4 83.5,190.5 83.8,191.5 84.1,192.6 84.4,193.6 84.7,194.4 85.0,196.9 85.3,198.8 85.6,200.7 85.9,203.7 86.2,206.1 86.5,209.7 86.7,212.8 87.0,215.9 87.3,219.1 87.6,222.1 87.9,226.5 88.2,229.0 88.5,232.6 88.8,235.9 89.1,239.8 89.4,243.4 89.7,248.4 90.0,251.1 90.3,253.3 90.6,257.2 90.9,259.6 91.2,263.8 91.5,267.2 91.8,269.6 92.1,274.2 92.4,277.8 92.7,282.2 93.0,286.8 93.3,288.8 93.6,290.8 93.9,293.9 94.2,295.6 94.5,297.3 94.8,298.9 95.1,299.1 95.4,299.3 95.7,301.9 96.0,301.6 96.3,301.7 96.6,302.2 96.9,304.0 97.2,303.8 97.5,304.2 97.8,304.8 98.1,304.1 98.4,304.1 98.7,304.4 99.0,304.5 99.3,305.1 99.6,304.9 99.9,305.6 100.2,305.5 100.5,305.8 100.8,306.4 101.1,306.9 101.4,307.1 101.7,306.3 102.0,306.4 102.3,306.0 102.6,307.0 102.9,307.3 103.2,306.1 103.5,307.0 103.8,306.3 104.1,306.5 104.4,306.7 104.7,306.4 105.0,307.2 105.3,305.8 105.6,306.3 105.9,306.7 106.2,306.1 106.5,307.0 106.8,305.9 107.1,306.8 107.4,305.9 107.7,306.7 108.0,307.1 108.3,308.1 108.6,307.4 108.9,307.7 109.2,306.8 109.5,308.0 109.8,306.6 110.1,306.5 110.4,305.9 110.7,306.7 111.0,307.2 111.3,306.2 111.6,306.3 111.9,306.2 112.2,306.3 112.5,306.1 112.8,305.6 113.1,307.2 113.4,305.2 113.7,305.8 114.0,306.5 114.3,306.9 114.6,306.2 114.9,306.1 115.2,306.3 115.5,306.1 115.8,306.7 116.1,305.9 116.4,305.6 116.7,305.9 117.0,306.3 117.3,307.0 117.6,307.3 117.9,306.2 118.2,305.7 118.5,305.8 118.8,308.1 119.1,306.7 119.4,307.3 119.7,308.4 120.0,307.0 120.3,307.4 120.6,307.4 120.9,307.2 121.2,308.5 121.5,308.9 121.8,307.3 122.1,309.1 122.4,308.6 122.7,309.0 123.0,309.2 123.3,308.5 123.6,309.4 123.9,309.2 124.2,311.2 124.5,311.6 124.8,310.5 125.1,310.0 125.4,311.6 125.7,311.1 126.0,312.5 126.3,312.8 126.6,312.8 126.9,311.8 127.2,311.6 127.5,311.9 127.8,312.4 128.1,312.0 128.4,313.3 128.7,313.1 129.0,312.8 129.3,312.6 129.6,313.4 129.9,313.9 130.2,312.0 130.5,313.3 130.8,313.1 131.1,312.9 131.4,313.2 131.7,313.5 132.0,314.6 132.3,313.6 132.6,313.4 132.9,312.9 133.2,314.2 133.5,313.3 133.8,313.8 134.1,314.3 134.4,314.0 134.7,313.7 135.0,313.9 135.3,314.5 135.6,314.0 135.9,314.2 136.2,314.3 136.5,313.8 136.8,314.2 137.1,313.9 137.4,314.7 137.7,314.3 138.0,313.0 138.3,313.9 138.6,314.7 138.9,313.9 139.2,313.6 139.5,314.4 139.8,313.0 140.1,313.5 140.4,313.7 140.7,313.6 141.0,312.3 141.3,312.0 141.6,313.4 141.9,311.8 142.2,311.9 142.5,313.2 142.8,311.1 143.1,309.8 143.4,312.5 143.7,311.1 144.0,310.3 144.3,311.4 144.6,309.3 144.9,309.8 145.2,308.6 145.5,308.0 145.8,308.1 146.1,307.8 146.4,307.6 146.6,307.1 146.9,305.7 147.2,305.5 147.5,306.2 147.8,305.0 148.1,304.2 148.4,304.5 148.7,304.1 149.0,303.7 149.3,302.2 149.6,301.9 149.9,302.2 150.2,302.1 150.5,300.4 150.8,300.6 151.1,300.5 151.4,301.0 151.7,299.6 152.0,301.8 152.3,300.1 152.6,300.4 152.9,301.4 153.2,300.5 153.5,300.7 153.8,300.2 154.1,300.8 154.4,300.1 154.7,301.0 155.0,301.3 155.3,301.1 155.6,302.6 155.9,302.7 156.2,301.7 156.5,303.7 156.8,303.1 157.1,304.5 157.4,304.1 157.7,304.9 158.0,305.8 158.3,307.2 158.6,305.6 158.9,306.8 159.2,307.3 159.5,308.6 159.8,308.3 160.1,309.1 160.4,310.1 160.7,310.2 161.0,309.9 161.3,310.3 161.6,310.8 161.9,311.5 162.2,311.2 162.5,312.1 162.8,312.8 163.1,312.5 163.4,312.8 163.7,313.5 164.0,314.1 164.3,313.1 164.6,313.6 164.9,315.2 165.2,314.6 165.5,314.2 165.8,315.1 166.1,316.2 166.4,315.0 166.7,315.0 167.0,315.6 167.3,316.8 167.6,315.6 167.9,316.4 168.2,316.8 168.5,316.7 168.8,316.3 169.1,317.0 169.4,316.8 169.7,317.2 170.0,317.1 170.3,317.0 170.6,316.0 170.9,317.5 171.2,317.1 171.5,316.0 171.8,317.2 172.1,317.5 172.4,317.3 172.7,316.0 173.0,317.1 173.3,317.0 173.6,317.4 173.9,316.3 174.2,317.9 174.5,318.1 174.8,318.2 175.1,317.8 175.4,317.9 175.7,318.6 176.0,318.3 176.3,317.8" fill="none" stroke="#666" stroke-width="0.6" stroke-opacity="1.0" stroke-linejoin="round" />
<path d="M56.8,305.3 57.1,305.3 57.4,305.3 57.7,305.3 58.0,305.2 58.3,305.2 58.6,305.2 58.9,305.1 59.2,305.1 59.5,305.0 59.8,305.0 60.1,304.9 60.4,304.9 60.7,304.8 61.0,304.7 61.3,304.7 61.6,304.6 61.9,304.5 62.2,304.5 62.5,304.4 62.8,304.3 63.1,304.2 63.4,304.1 63.7,304.0 64.0,303.8 64.3,303.7 64.6,303.5 64.9,303.3 65.2,303.1 65.5,302.9 65.8,302.7 66.1,302.4 66.4,302.0 66.7,301.5 67.0,300.8 67.3,300.1 67.6,299.3 67.9,298.4 68.2,297.4 68.5,296.2 68.8,294.8 69.1,293.3 69.4,291.6 69.7,289.9 70.0,288.1 70.3,286.3 70.6,284.4 70.9,282.4 71.2,280.3 71.5,278.1 71.8,275.8 72.1,273.5 72.4,271.0 72.7,268.5 73.0,265.8 73.3,262.9 73.6,259.9 73.9,256.7 74.2,253.6 74.5,250.4 74.8,247.3 75.1,244.3 75.4,241.3 75.7,238.4 76.0,235.4 76.3,232.5 76.6,229.5 76.9,226.4 77.2,223.2 77.5,219.7 77.8,216.0 78.1,212.4 78.4,208.9 78.7,205.8 79.0,203.3 79.3,201.1 79.6,198.9 79.9,196.8 80.2,194.8 80.5,193.0 80.8,191.3 81.1,190.0 81.4,189.0 81.7,188.4 82.0,188.2 82.3,188.3 82.6,188.7 82.9,189.2 83.2,189.8 83.5,190.6 83.8,191.5 84.1,192.5 84.4,193.5 84.7,194.6 85.0,196.3 85.3,198.5 85.6,201.0 85.9,203.8 86.2,206.7 86.5,209.5 86.7,212.4 87.0,215.5 87.3,218.8 87.6,222.1 87.9,225.6 88.2,229.1 88.5,232.5 88.8,236.1 89.1,239.8 89.4,243.5 89.7,247.2 90.0,250.8 90.3,254.3 90.6,257.5 90.9,260.4 91.2,263.3 91.5,266.4 91.8,269.9 92.1,273.8 92.4,277.9 92.7,282.0 93.0,285.7 93.3,289.0 93.6,291.6 93.9,293.5 94.2,295.3 94.5,296.8 94.8,298.3 95.1,299.5 95.4,300.5 95.7,301.3 96.0,301.9 96.3,302.4 96.6,302.9 96.9,303.3 97.2,303.7 97.5,304.0 97.8,304.3 98.1,304.5 98.4,304.8 98.7,304.9 99.0,305.1 99.3,305.3 99.6,305.5 99.9,305.6 100.2,305.8 100.5,305.9 100.8,306.0 101.1,306.1 101.4,306.2 101.7,306.3 102.0,306.3 102.3,306.3 102.6,306.4 102.9,306.4 103.2,306.5 103.5,306.5 103.8,306.5 104.1,306.6 104.4,306.6 104.7,306.6 105.0,306.7 105.3,306.7 105.6,306.7 105.9,306.7 106.2,306.7 106.5,306.8 106.8,306.8 107.1,306.8 107.4,306.8 107.7,306.8 108.0,306.8 108.3,306.8 108.6,306.8 108.9,306.8 109.2,306.8 109.5,306.7 109.8,306.7 110.1,306.7 110.4,306.6 110.7,306.6 111.0,306.6 111.3,306.6 111.6,306.5 111.9,306.5 112.2,306.5 112.5,306.5 112.8,306.4 113.1,306.4 113.4,306.4 113.7,306.4 114.0,306.3 114.3,306.3 114.6,306.3 114.9,306.3 115.2,306.2 115.5,306.2 115.8,306.2 116.1,306.2 116.4,306.2 116.7,306.2 117.0,306.2 117.3,306.3 117.6,306.3 117.9,306.4 118.2,306.5 118.5,306.7 118.8,306.8 119.1,306.9 119.4,307.1 119.7,307.2 120.0,307.4 120.3,307.6 120.6,307.7 120.9,307.9 121.2,308.1 121.5,308.2 121.8,308.4 122.1,308.5 122.4,308.7 122.7,308.9 123.0,309.1 123.3,309.3 123.6,309.5 123.9,309.8 124.2,310.0 124.5,310.2 124.8,310.5 125.1,310.7 125.4,311.0 125.7,311.2 126.0,311.4 126.3,311.6 126.6,311.8 126.9,312.0 127.2,312.2 127.5,312.3 127.8,312.4 128.1,312.5 128.4,312.6 128.7,312.7 129.0,312.8 129.3,312.9 129.6,313.0 129.9,313.1 130.2,313.1 130.5,313.2 130.8,313.3 131.1,313.3 131.4,313.4 131.7,313.5 132.0,313.5 132.3,313.6 132.6,313.6 132.9,313.6 133.2,313.7 133.5,313.8 133.8,313.8 134.1,313.9 134.4,313.9 134.7,314.0 135.0,314.0 135.3,314.0 135.6,314.0 135.9,314.0 136.2,314.0 136.5,314.0 136.8,314.0 137.1,314.0 137.4,314.0 137.7,314.0 138.0,314.0 138.3,314.0 138.6,314.0 138.9,314.0 139.2,313.9 139.5,313.8 139.8,313.6 140.1,313.5 140.4,313.3 140.7,313.1 141.0,312.9 141.3,312.7 141.6,312.5 141.9,312.2 142.2,312.0 142.5,311.7 142.8,311.4 143.1,311.1 143.4,310.8 143.7,310.5 144.0,310.1 144.3,309.7 144.6,309.4 144.9,309.0 145.2,308.6 145.5,308.2 145.8,307.7 146.1,307.3 146.4,306.9 146.6,306.4 146.9,306.0 147.2,305.5 147.5,305.1 147.8,304.6 148.1,304.2 148.4,303.7 148.7,303.3 149.0,302.9 149.3,302.5 149.6,302.1 149.9,301.8 150.2,301.4 150.5,301.1 150.8,300.9 151.1,300.6 151.4,300.4 151.7,300.3 152.0,300.1 152.3,300.1 152.6,300.0 152.9,300.0 153.2,300.1 153.5,300.2 153.8,300.4 154.1,300.5 154.4,300.8 154.7,301.0 155.0,301.3 155.3,301.7 155.6,302.0 155.9,302.4 156.2,302.8 156.5,303.2 156.8,303.7 157.1,304.1 157.4,304.6 157.7,305.1 158.0,305.5 158.3,306.0 158.6,306.5 158.9,307.0 159.2,307.5 159.5,307.9 159.8,308.4 160.1,308.9 160.4,309.3 160.7,309.7 161.0,310.2 161.3,310.6 161.6,311.0 161.9,311.4 162.2,311.7 162.5,312.1 162.8,312.4 163.1,312.8 163.4,313.1 163.7,313.4 164.0,313.6 164.3,313.9 164.6,314.2 164.9,314.4 165.2,314.6 165.5,314.8 165.8,315.0 166.1,315.2 166.4,315.4 166.7,315.6 167.0,315.7 167.3,315.9 167.6,316.0 167.9,316.1 168.2,316.2 168.5,316.4 168.8,316.5 169.1,316.6 169.4,316.7 169.7,316.7 170.0,316.8 170.3,316.9 170.6,317.0 170.9,317.1 171.2,317.1 171.5,317.2 171.8,317.3 172.1,317.3 172.4,317.4 172.7,317.4 173.0,317.5 173.3,317.6 173.6,317.6 173.9,317.7 174.2,317.7 174.5,317.8 174.8,317.8 175.1,317.9 175.4,317.9 175.7,318.0 176.0,318.0 176.3,318.1" fill="none" stroke="#e86262" stroke-width="1.0" stroke-opacity="1" stroke-linejoin="round" />
<path d="M56.8,305.2 57.1,305.2 57.4,305.3 57.7,305.3 58.0,305.4 58.3,305.4 58.6,305.5 58.9,305.5 59.2,305.5 59.5,305.6 59.8,305.6 60.1,305.7 60.4,305.7 60.7,305.8 61.0,305.8 61.3,305.9 61.6,305.9 61.9,306.0 62.2,306.1 62.5,306.1 62.8,306.2 63.1,306.2 63.4,306.3 63.7,306.3 64.0,306.4 64.3,306.4 64.6,306.5 64.9,306.6 65.2,306.6 65.5,306.7 65.8,306.7 66.1,306.8 66.4,306.9 66.7,306.9 67.0,307.0 67.3,307.1 67.6,307.1 67.9,307.2 68.2,307.3 68.5,307.3 68.8,307.4 69.1,307.5 69.4,307.6 69.7,307.6 70.0,307.7 70.3,307.8 70.6,307.9 70.9,308.0 71.2,308.1 71.5,308.1 71.8,308.2 72.1,308.3 72.4,308.5 72.7,308.6 73.0,308.7 73.3,308.8 73.6,308.9 73.9,309.0 74.2,309.2 74.5,309.3 74.8,309.4 75.1,309.6 75.4,309.7 75.7,309.8 76.0,310.0 76.3,310.1 76.6,310.2 76.9,310.4 77.2,310.5 77.5,310.6 77.8,310.8 78.1,310.9 78.4,311.0 78.7,311.1 79.0,311.3 79.3,311.4 79.6,311.5 79.9,311.6 80.2,311.7 80.5,311.8 80.8,311.9 81.1,312.0 81.4,312.1 81.7,312.2 82.0,312.3 82.3,312.3 82.6,312.4 82.9,312.5 83.2,312.6 83.5,312.7 83.8,312.8 84.1,312.9 84.4,313.0 84.7,313.0 85.0,313.1 85.3,313.2 85.6,313.3 85.9,313.4 86.2,313.4 86.5,313.5 86.7,313.6 87.0,313.7 87.3,313.7 87.6,313.8 87.9,313.9 88.2,313.9 88.5,314.0 88.8,314.0 89.1,314.1 89.4,314.1 89.7,314.2 90.0,314.2 90.3,314.2 90.6,314.3 90.9,314.3 91.2,314.4 91.5,314.4 91.8,314.4 92.1,314.5 92.4,314.5 92.7,314.5 93.0,314.6 93.3,314.6 93.6,314.6 93.9,314.7 94.2,314.7 94.5,314.7 94.8,314.8 95.1,314.8 95.4,314.8 95.7,314.8 96.0,314.9 96.3,314.9 96.6,314.9 96.9,314.9 97.2,315.0 97.5,315.0 97.8,315.0 98.1,315.0 98.4,315.0 98.7,315.1 99.0,315.1 99.3,315.1 99.6,315.1 99.9,315.1 100.2,315.1 100.5,315.2 100.8,315.2 101.1,315.2 101.4,315.2 101.7,315.2 102.0,315.2 102.3,315.2 102.6,315.2 102.9,315.2 103.2,315.3 103.5,315.3 103.8,315.3 104.1,315.3 104.4,315.3 104.7,315.3 105.0,315.3 105.3,315.3 105.6,315.3 105.9,315.3 106.2,315.3 106.5,315.3 106.8,315.3 107.1,315.4 107.4,315.4 107.7,315.4 108.0,315.4 108.3,315.4 108.6,315.4 108.9,315.4 109.2,315.4 109.5,315.4 109.8,315.4 110.1,315.4 110.4,315.4 110.7,315.4 111.0,315.4 111.3,315.4 111.6,315.4 111.9,315.4 112.2,315.4 112.5,315.4 112.8,315.4 113.1,315.5 113.4,315.5 113.7,315.5 114.0,315.5 114.3,315.5 114.6,315.5 114.9,315.5 115.2,315.5 115.5,315.5 115.8,315.5 116.1,315.5 116.4,315.5 116.7,315.5 117.0,315.5 117.3,315.5 117.6,315.5 117.9,315.5 118.2,315.5 118.5,315.5 118.8,315.5 119.1,315.5 119.4,315.5 119.7,315.6 120.0,315.6 120.3,315.6 120.6,315.6 120.9,315.6 121.2,315.6 121.5,315.6 121.8,315.6 122.1,315.6 122.4,315.6 122.7,315.6 123.0,315.6 123.3,315.6 123.6,315.6 123.9,315.6 124.2,315.6 124.5,315.7 124.8,315.7 125.1,315.7 125.4,315.7 125.7,315.7 126.0,315.7 126.3,315.7 126.6,315.7 126.9,315.7 127.2,315.7 127.5,315.7 127.8,315.7 128.1,315.7 128.4,315.7 128.7,315.7 129.0,315.7 129.3,315.8 129.6,315.8 129.9,315.8 130.2,315.8 130.5,315.8 130.8,315.8 131.1,315.8 131.4,315.8 131.7,315.8 132.0,315.8 132.3,315.8 132.6,315.8 132.9,315.8 133.2,315.8 133.5,315.9 133.8,315.9 134.1,315.9 134.4,315.9 134.7,315.9 135.0,315.9 135.3,315.9 135.6,315.9 135.9,315.9 136.2,315.9 136.5,315.9 136.8,316.0 137.1,316.0 137.4,316.0 137.7,316.0 138.0,316.0" fill="none" stroke="#6f74e6" stroke-width="0.85" stroke-opacity="1.0" stroke-linejoin="round" />
<path d="M138.3,316.0 138.6,316.0 138.9,316.0 139.2,316.1 139.5,316.1 139.8,316.1 140.1,316.1 140.4,316.1 140.7,316.1 141.0,316.1 141.3,316.2 141.6,316.2 141.9,316.2 142.2,316.2 142.5,316.2 142.8,316.2 143.1,316.2 143.4,316.3 143.7,316.3 144.0,316.3 144.3,316.3 144.6,316.3 144.9,316.3 145.2,316.3 145.5,316.4 145.8,316.4 146.1,316.4 146.4,316.4 146.6,316.4 146.9,316.4 147.2,316.5 147.5,316.5 147.8,316.5 148.1,316.5 148.4,316.5 148.7,316.5 149.0,316.6 149.3,316.6 149.6,316.6 149.9,316.6 150.2,316.6 150.5,316.6 150.8,316.6 151.1,316.7 151.4,316.7 151.7,316.7 152.0,316.7 152.3,316.7 152.6,316.7 152.9,316.7 153.2,316.8 153.5,316.8 153.8,316.8 154.1,316.8 154.4,316.8 154.7,316.8 155.0,316.8 155.3,316.9 155.6,316.9 155.9,316.9 156.2,316.9 156.5,316.9 156.8,316.9 157.1,316.9 157.4,317.0 157.7,317.0 158.0,317.0 158.3,317.0 158.6,317.0 158.9,317.0 159.2,317.1 159.5,317.1 159.8,317.1 160.1,317.1 160.4,317.1 160.7,317.1 161.0,317.1 161.3,317.2 161.6,317.2 161.9,317.2 162.2,317.2 162.5,317.2 162.8,317.3 163.1,317.3 163.4,317.3 163.7,317.3 164.0,317.3 164.3,317.4 164.6,317.4 164.9,317.4 165.2,317.4 165.5,317.4 165.8,317.5 166.1,317.5 166.4,317.5 166.7,317.5 167.0,317.6 167.3,317.6 167.6,317.6 167.9,317.6 168.2,317.7 168.5,317.7 168.8,317.7 169.1,317.7 169.4,317.8 169.7,317.8 170.0,317.8 170.3,317.9 170.6,317.9 170.9,317.9 171.2,317.9 171.5,318.0 171.8,318.0 172.1,318.0 172.4,318.1 172.7,318.1 173.0,318.1 173.3,318.2 173.6,318.2 173.9,318.2 174.2,318.3 174.5,318.3 174.8,318.3 175.1,318.4 175.4,318.4 175.7,318.4 176.0,318.5 176.3,318.5" fill="none" stroke="#b4aaa8" stroke-width="0.85" stroke-opacity="1.0" stroke-linejoin="round" />
<path d="M65.8,306.0 66.1,305.8 66.4,305.7 66.7,305.5 67.0,305.2 67.3,304.9 67.6,304.5 67.9,304.1 68.2,303.6 68.5,302.9 68.8,302.2 69.1,301.4 69.4,300.4 69.7,299.3 70.0,298.1 70.3,296.7 70.6,295.2 70.9,293.5 71.2,291.7 71.5,289.7 71.8,287.6 72.1,285.4 72.4,283.0 72.7,280.5 73.0,277.9 73.3,275.2 73.6,272.5 73.9,269.7 74.2,267.0 74.5,264.2 74.8,261.6 75.1,259.0 75.4,256.6 75.7,254.3 76.0,252.2 76.3,250.4 76.6,248.8 76.9,247.5 77.2,246.5 77.5,245.9 77.8,245.6 78.1,245.6 78.4,246.0 78.7,246.7 79.0,247.7 79.3,249.1 79.6,250.8 79.9,252.7 80.2,254.9 80.5,257.2 80.8,259.8 81.1,262.5 81.4,265.4 81.7,268.3 82.0,271.3 82.3,274.3 82.6,277.2 82.9,280.1 83.2,283.0 83.5,285.8 83.8,288.4 84.1,290.9 84.4,293.3 84.7,295.5 85.0,297.6 85.3,299.6 85.6,301.3 85.9,302.9 86.2,304.4 86.5,305.7 86.7,306.9 87.0,307.9 87.3,308.9 87.6,309.7 87.9,310.4 88.2,311.0 88.5,311.6 88.8,312.1 89.1,312.5 89.4,312.8 89.7,313.1 90.0,313.3 90.3,313.5" fill="none" stroke="#5fd7e0" stroke-width="0.95" stroke-opacity="1.0" stroke-linejoin="round" />
<path d="M66.7,306.1 67.0,306.0 67.3,305.9 67.6,305.8 67.9,305.6 68.2,305.5 68.5,305.2 68.8,305.0 69.1,304.7 69.4,304.4 69.7,304.0 70.0,303.6 70.3,303.1 70.6,302.6 70.9,302.0 71.2,301.4 71.5,300.6 71.8,299.8 72.1,299.0 72.4,298.0 72.7,297.0 73.0,295.8 73.3,294.6 73.6,293.3 73.9,291.9 74.2,290.3 74.5,288.7 74.8,287.0 75.1,285.2 75.4,283.3 75.7,281.3 76.0,279.1 76.3,277.0 76.6,274.7 76.9,272.3 77.2,269.9 77.5,267.4 77.8,264.9 78.1,262.4 78.4,259.8 78.7,257.2 79.0,254.6 79.3,252.1 79.6,249.5 79.9,247.0 80.2,244.6 80.5,242.3 80.8,240.1 81.1,238.0 81.4,236.0 81.7,234.2 82.0,232.5 82.3,231.0 82.6,229.8 82.9,228.7 83.2,227.8 83.5,227.1 83.8,226.7 84.1,226.5 84.4,226.5 84.7,226.7 85.0,227.2 85.3,227.9 85.6,228.8 85.9,229.9 86.2,231.2 86.5,232.8 86.7,234.5 87.0,236.4 87.3,238.4 87.6,240.6 87.9,242.9 88.2,245.3 88.5,247.8 88.8,250.4 89.1,253.1 89.4,255.8 89.7,258.5 90.0,261.2 90.3,264.0 90.6,266.7 90.9,269.4 91.2,272.1 91.5,274.7 91.8,277.3 92.1,279.8 92.4,282.2 92.7,284.5 93.0,286.8 93.3,288.9 93.6,291.0 93.9,292.9 94.2,294.8 94.5,296.5 94.8,298.1 95.1,299.7 95.4,301.1 95.7,302.5 96.0,303.7 96.3,304.8 96.6,305.9 96.9,306.9 97.2,307.8 97.5,308.6 97.8,309.3 98.1,310.0 98.4,310.6 98.7,311.1 99.0,311.6 99.3,312.1 99.6,312.5 99.9,312.8 100.2,313.2 100.5,313.4 100.8,313.7 101.1,313.9 101.4,314.1 101.7,314.3 102.0,314.4" fill="none" stroke="#b9a9a6" stroke-width="0.95" stroke-opacity="1.0" stroke-linejoin="round" />
<path d="M67.3,306.0 67.6,306.0 67.9,306.1 68.2,306.1 68.5,306.1 68.8,306.1 69.1,306.1 69.4,306.1 69.7,306.1 70.0,306.1 70.3,306.1 70.6,306.2 70.9,306.2 71.2,306.2 71.5,306.2 71.8,306.2 72.1,306.3 72.4,306.3 72.7,306.4 73.0,306.4 73.3,306.5 73.6,306.5 73.9,306.6 74.2,306.7 74.5,306.7 74.8,306.8 75.1,306.9 75.4,307.0 75.7,307.1 76.0,307.2 76.3,307.3 76.6,307.4 76.9,307.5 77.2,307.6 77.5,307.7 77.8,307.8 78.1,307.9 78.4,308.0 78.7,308.1 79.0,308.3 79.3,308.4 79.6,308.5 79.9,308.6 80.2,308.7 80.5,308.8 80.8,308.9 81.1,309.0 81.4,309.2 81.7,309.3 82.0,309.4 82.3,309.5 82.6,309.6 82.9,309.7 83.2,309.8 83.5,309.9 83.8,310.0 84.1,310.1 84.4,310.2 84.7,310.3 85.0,310.3 85.3,310.4 85.6,310.4 85.9,310.4 86.2,310.4 86.5,310.4 86.7,310.4 87.0,310.3 87.3,310.3 87.6,310.2 87.9,310.0 88.2,309.9 88.5,309.7 88.8,309.6 89.1,309.4 89.4,309.1 89.7,308.9 90.0,308.7 90.3,308.4 90.6,308.2 90.9,308.0 91.2,307.7 91.5,307.5 91.8,307.3 92.1,307.1 92.4,307.0 92.7,306.8 93.0,306.7 93.3,306.7 93.6,306.6 93.9,306.7 94.2,306.7 94.5,306.8 94.8,306.9 95.1,307.1 95.4,307.3 95.7,307.5 96.0,307.8 96.3,308.1 96.6,308.4 96.9,308.8 97.2,309.1 97.5,309.5 97.8,309.9 98.1,310.2 98.4,310.6 98.7,311.0 99.0,311.3 99.3,311.7 99.6,312.0 99.9,312.3 100.2,312.6 100.5,312.9 100.8,313.2 101.1,313.4 101.4,313.7 101.7,313.9 102.0,314.1 102.3,314.2 102.6,314.4" fill="none" stroke="#e8c27a" stroke-width="0.95" stroke-opacity="1.0" stroke-linejoin="round" />
<path d="M102.0,314.2 102.3,314.2 102.6,314.1 102.9,314.0 103.2,313.9 103.5,313.8 103.8,313.7 104.1,313.5 104.4,313.4 104.7,313.3 105.0,313.1 105.3,313.0 105.6,312.8 105.9,312.7 106.2,312.5 106.5,312.3 106.8,312.2 107.1,312.0 107.4,311.8 107.7,311.6 108.0,311.4 108.3,311.2 108.6,311.0 108.9,310.8 109.2,310.6 109.5,310.4 109.8,310.1 110.1,309.9 110.4,309.7 110.7,309.5 111.0,309.3 111.3,309.1 111.6,308.9 111.9,308.7 112.2,308.6 112.5,308.4 112.8,308.2 113.1,308.1 113.4,307.9 113.7,307.8 114.0,307.7 114.3,307.6 114.6,307.5 114.9,307.4 115.2,307.3 115.5,307.3 115.8,307.2 116.1,307.2 116.4,307.2 116.7,307.2 117.0,307.2 117.3,307.3 117.6,307.3 117.9,307.4 118.2,307.5 118.5,307.6 118.8,307.7 119.1,307.8 119.4,307.9 119.7,308.1 120.0,308.2 120.3,308.4 120.6,308.6 120.9,308.8 121.2,309.0 121.5,309.2 121.8,309.4 122.1,309.6 122.4,309.8 122.7,310.0 123.0,310.2 123.3,310.4 123.6,310.7 123.9,310.9 124.2,311.1 124.5,311.3 124.8,311.5 125.1,311.8 125.4,312.0 125.7,312.2 126.0,312.4 126.3,312.6 126.6,312.8 126.9,312.9 127.2,313.1 127.5,313.3 127.8,313.5 128.1,313.6 128.4,313.8 128.7,313.9 129.0,314.1 129.3,314.2 129.6,314.3 129.9,314.4 130.2,314.5 130.5,314.6 130.8,314.7 131.1,314.8" fill="none" stroke="#959df2" stroke-width="0.95" stroke-opacity="1.0" stroke-linejoin="round" />
<path d="M135.9,314.9 136.2,314.8 136.5,314.8 136.8,314.7 137.1,314.6 137.4,314.6 137.7,314.5 138.0,314.4 138.3,314.3 138.6,314.2 138.9,314.1 139.2,313.9 139.5,313.8 139.8,313.7 140.1,313.5 140.4,313.3 140.7,313.1 141.0,312.9 141.3,312.7 141.6,312.5 141.9,312.2 142.2,312.0 142.5,311.7 142.8,311.4 143.1,311.1 143.4,310.8 143.7,310.5 144.0,310.1 144.3,309.7 144.6,309.4 144.9,309.0 145.2,308.6 145.5,308.2 145.8,307.7 146.1,307.3 146.4,306.9 146.6,306.4 146.9,306.0 147.2,305.5 147.5,305.1 147.8,304.6 148.1,304.2 148.4,303.7 148.7,303.3 149.0,302.9 149.3,302.5 149.6,302.1 149.9,301.8 150.2,301.4 150.5,301.1 150.8,300.9 151.1,300.6 151.4,300.4 151.7,300.3 152.0,300.1 152.3,300.1 152.6,300.0 152.9,300.0 153.2,300.1 153.5,300.2 153.8,300.4 154.1,300.5 154.4,300.8 154.7,301.0 155.0,301.3 155.3,301.7 155.6,302.0 155.9,302.4 156.2,302.8 156.5,303.2 156.8,303.7 157.1,304.1 157.4,304.6 157.7,305.1 158.0,305.5 158.3,306.0 158.6,306.5 158.9,307.0 159.2,307.5 159.5,307.9 159.8,308.4 160.1,308.9 160.4,309.3 160.7,309.7 161.0,310.2 161.3,310.6 161.6,311.0 161.9,311.4 162.2,311.7 162.5,312.1 162.8,312.4 163.1,312.8 163.4,313.1 163.7,313.4 164.0,313.6 164.3,313.9 164.6,314.2 164.9,314.4 165.2,314.6 165.5,314.8 165.8,315.0 166.1,315.2 166.4,315.4 166.7,315.6 167.0,315.7 167.3,315.9 167.6,316.0 167.9,316.1 168.2,316.2 168.5,316.4 168.8,316.5 169.1,316.6 169.4,316.7 169.7,316.7" fill="none" stroke="#5d66e6" stroke-width="0.95" stroke-opacity="1.0" stroke-linejoin="round" />
<line x1="96.50" y1="35.00" x2="113.00" y2="35.00" stroke="#7c7c7c" stroke-width="0.9"/>
<text x="115.00" y="37.70" font-size="7.55" fill="#333" stroke="#333" stroke-width="0.2" text-anchor="start"><tspan>measured</tspan></text>
<line x1="96.50" y1="44.30" x2="113.00" y2="44.30" stroke="#ee7070" stroke-width="0.9"/>
<text x="115.00" y="47.00" font-size="7.55" fill="#333" stroke="#333" stroke-width="0.2" text-anchor="start"><tspan>composite spectrum</tspan></text>
<line x1="96.50" y1="63.50" x2="113.00" y2="63.50" stroke="#5d66e6" stroke-width="0.9"/>
<text x="115.00" y="66.20" font-size="7.55" fill="#333" stroke="#333" stroke-width="0.2" text-anchor="start"><tspan>V2p</tspan><tspan font-size="5.28" dy="2.2">3/2</tspan><tspan dy="-2.2"> V</tspan><tspan font-size="5.28" dy="2.2">2</tspan><tspan dy="-2.2">O</tspan><tspan font-size="5.28" dy="2.2">5</tspan></text>
<line x1="96.50" y1="74.00" x2="113.00" y2="74.00" stroke="#959df2" stroke-width="0.9"/>
<text x="115.00" y="76.70" font-size="7.55" fill="#333" stroke="#333" stroke-width="0.2" text-anchor="start"><tspan>V2p</tspan><tspan font-size="5.28" dy="2.2">1/2</tspan><tspan dy="-2.2"> V</tspan><tspan font-size="5.28" dy="2.2">2</tspan><tspan dy="-2.2">O</tspan><tspan font-size="5.28" dy="2.2">3</tspan></text>
<line x1="96.50" y1="84.70" x2="113.00" y2="84.70" stroke="#e8c27a" stroke-width="0.9"/>
<text x="115.00" y="87.40" font-size="7.55" fill="#333" stroke="#333" stroke-width="0.2" text-anchor="start"><tspan>O1s (metal oxide)</tspan></text>
<line x1="96.50" y1="94.60" x2="113.00" y2="94.60" stroke="#b9a9a6" stroke-width="0.9"/>
<text x="115.00" y="97.30" font-size="7.55" fill="#333" stroke="#333" stroke-width="0.2" text-anchor="start"><tspan>O1s (metal oxide)</tspan></text>
<line x1="96.50" y1="104.20" x2="113.00" y2="104.20" stroke="#5fd7e0" stroke-width="0.9"/>
<text x="115.00" y="106.90" font-size="7.55" fill="#333" stroke="#333" stroke-width="0.2" text-anchor="start"><tspan>O1s (C=O)</tspan></text>
<line x1="92.90" y1="191.60" x2="110.40" y2="191.60" stroke="#7c7c7c" stroke-width="0.9"/>
<text x="112.50" y="194.30" font-size="7.55" fill="#333" stroke="#333" stroke-width="0.2" text-anchor="start"><tspan>measured</tspan></text>
<line x1="92.90" y1="200.70" x2="110.40" y2="200.70" stroke="#ee7070" stroke-width="0.9"/>
<text x="112.50" y="203.40" font-size="7.55" fill="#333" stroke="#333" stroke-width="0.2" text-anchor="start"><tspan>composite spectrum</tspan></text>
<line x1="92.90" y1="220.20" x2="110.40" y2="220.20" stroke="#5d66e6" stroke-width="0.9"/>
<text x="112.50" y="222.90" font-size="7.55" fill="#333" stroke="#333" stroke-width="0.2" text-anchor="start"><tspan>V2p</tspan><tspan font-size="5.28" dy="2.2">3/2</tspan><tspan dy="-2.2"> V</tspan><tspan font-size="5.28" dy="2.2">2</tspan><tspan dy="-2.2">O</tspan><tspan font-size="5.28" dy="2.2">5</tspan></text>
<line x1="92.90" y1="230.70" x2="110.40" y2="230.70" stroke="#959df2" stroke-width="0.9"/>
<text x="112.50" y="233.40" font-size="7.55" fill="#333" stroke="#333" stroke-width="0.2" text-anchor="start"><tspan>V2p</tspan><tspan font-size="5.28" dy="2.2">1/2</tspan><tspan dy="-2.2"> V</tspan><tspan font-size="5.28" dy="2.2">2</tspan><tspan dy="-2.2">O</tspan><tspan font-size="5.28" dy="2.2">3</tspan></text>
<line x1="92.90" y1="241.50" x2="110.40" y2="241.50" stroke="#e8c27a" stroke-width="0.9"/>
<text x="112.50" y="244.20" font-size="7.55" fill="#333" stroke="#333" stroke-width="0.2" text-anchor="start"><tspan>O1s (metal oxide)</tspan></text>
<line x1="92.90" y1="251.30" x2="110.40" y2="251.30" stroke="#b9a9a6" stroke-width="0.9"/>
<text x="112.50" y="254.00" font-size="7.55" fill="#333" stroke="#333" stroke-width="0.2" text-anchor="start"><tspan>O1s (metal oxide)</tspan></text>
<line x1="92.90" y1="260.60" x2="110.40" y2="260.60" stroke="#5fd7e0" stroke-width="0.9"/>
<text x="112.50" y="263.30" font-size="7.55" fill="#333" stroke="#333" stroke-width="0.2" text-anchor="start"><tspan>O1s (C=O)</tspan></text>
<text x="43.30" y="168.20" font-size="8.7" fill="#555" stroke="#555" stroke-width="0.2" text-anchor="start"><tspan>1.0% W,V/ZnO/ZrO</tspan><tspan font-size="6.09" dy="2.2">2</tspan></text>
<text x="43.30" y="328.30" font-size="8.7" fill="#555" stroke="#555" stroke-width="0.2" text-anchor="start"><tspan>1.0% W,V/ZnO/Al</tspan><tspan font-size="6.09" dy="2.2">2</tspan><tspan dy="-2.2">O</tspan><tspan font-size="6.09" dy="2.2">3</tspan></text>
<line x1="219.20" y1="9.30" x2="219.20" y2="171.20" stroke="#a0a0a0" stroke-width="1"/>
<line x1="362.00" y1="9.30" x2="362.00" y2="171.20" stroke="#a0a0a0" stroke-width="1"/>
<line x1="219.20" y1="9.30" x2="362.00" y2="9.30" stroke="#a0a0a0" stroke-width="1"/>
<line x1="219.20" y1="171.20" x2="362.00" y2="171.20" stroke="#808080" stroke-width="1"/>
<line x1="219.20" y1="171.20" x2="219.20" y2="333.40" stroke="#a0a0a0" stroke-width="1"/>
<line x1="362.00" y1="171.20" x2="362.00" y2="333.40" stroke="#a0a0a0" stroke-width="1"/>
<line x1="219.20" y1="333.40" x2="362.00" y2="333.40" stroke="#a0a0a0" stroke-width="1"/>
<line x1="216.20" y1="21.50" x2="219.20" y2="21.50" stroke="#555" stroke-width="0.8"/>
<text x="215.40" y="24.30" font-size="7.5" fill="#3a3a3a" stroke="#3a3a3a" stroke-width="0.2" text-anchor="end" >350</text>
<line x1="216.20" y1="46.42" x2="219.20" y2="46.42" stroke="#555" stroke-width="0.8"/>
<text x="215.40" y="49.22" font-size="7.5" fill="#3a3a3a" stroke="#3a3a3a" stroke-width="0.2" text-anchor="end" >300</text>
<line x1="216.20" y1="71.33" x2="219.20" y2="71.33" stroke="#555" stroke-width="0.8"/>
<text x="215.40" y="74.13" font-size="7.5" fill="#3a3a3a" stroke="#3a3a3a" stroke-width="0.2" text-anchor="end" >250</text>
<line x1="216.20" y1="96.25" x2="219.20" y2="96.25" stroke="#555" stroke-width="0.8"/>
<text x="215.40" y="99.05" font-size="7.5" fill="#3a3a3a" stroke="#3a3a3a" stroke-width="0.2" text-anchor="end" >200</text>
<line x1="216.20" y1="121.17" x2="219.20" y2="121.17" stroke="#555" stroke-width="0.8"/>
<text x="215.40" y="123.97" font-size="7.5" fill="#3a3a3a" stroke="#3a3a3a" stroke-width="0.2" text-anchor="end" >150</text>
<line x1="216.20" y1="146.08" x2="219.20" y2="146.08" stroke="#555" stroke-width="0.8"/>
<text x="215.40" y="148.88" font-size="7.5" fill="#3a3a3a" stroke="#3a3a3a" stroke-width="0.2" text-anchor="end" >100</text>
<line x1="216.20" y1="171.00" x2="219.20" y2="171.00" stroke="#555" stroke-width="0.8"/>
<text x="215.40" y="173.80" font-size="7.5" fill="#3a3a3a" stroke="#3a3a3a" stroke-width="0.2" text-anchor="end" >50</text>
<line x1="217.40" y1="33.96" x2="219.20" y2="33.96" stroke="#555" stroke-width="0.7"/>
<line x1="217.40" y1="58.88" x2="219.20" y2="58.88" stroke="#555" stroke-width="0.7"/>
<line x1="217.40" y1="83.79" x2="219.20" y2="83.79" stroke="#555" stroke-width="0.7"/>
<line x1="217.40" y1="108.71" x2="219.20" y2="108.71" stroke="#555" stroke-width="0.7"/>
<line x1="217.40" y1="133.62" x2="219.20" y2="133.62" stroke="#555" stroke-width="0.7"/>
<line x1="217.40" y1="158.54" x2="219.20" y2="158.54" stroke="#555" stroke-width="0.7"/>
<line x1="216.20" y1="181.00" x2="219.20" y2="181.00" stroke="#555" stroke-width="0.8"/>
<text x="215.40" y="183.80" font-size="7.5" fill="#3a3a3a" stroke="#3a3a3a" stroke-width="0.2" text-anchor="end" >500</text>
<line x1="216.20" y1="214.88" x2="219.20" y2="214.88" stroke="#555" stroke-width="0.8"/>
<text x="215.40" y="217.68" font-size="7.5" fill="#3a3a3a" stroke="#3a3a3a" stroke-width="0.2" text-anchor="end" >400</text>
<line x1="216.20" y1="248.75" x2="219.20" y2="248.75" stroke="#555" stroke-width="0.8"/>
<text x="215.40" y="251.55" font-size="7.5" fill="#3a3a3a" stroke="#3a3a3a" stroke-width="0.2" text-anchor="end" >300</text>
<line x1="216.20" y1="282.62" x2="219.20" y2="282.62" stroke="#555" stroke-width="0.8"/>
<text x="215.40" y="285.43" font-size="7.5" fill="#3a3a3a" stroke="#3a3a3a" stroke-width="0.2" text-anchor="end" >200</text>
<line x1="216.20" y1="316.50" x2="219.20" y2="316.50" stroke="#555" stroke-width="0.8"/>
<text x="215.40" y="319.30" font-size="7.5" fill="#3a3a3a" stroke="#3a3a3a" stroke-width="0.2" text-anchor="end" >100</text>
<line x1="217.40" y1="197.94" x2="219.20" y2="197.94" stroke="#555" stroke-width="0.7"/>
<line x1="217.40" y1="231.81" x2="219.20" y2="231.81" stroke="#555" stroke-width="0.7"/>
<line x1="217.40" y1="265.69" x2="219.20" y2="265.69" stroke="#555" stroke-width="0.7"/>
<line x1="217.40" y1="299.56" x2="219.20" y2="299.56" stroke="#555" stroke-width="0.7"/>
<line x1="233.20" y1="9.30" x2="233.20" y2="11.90" stroke="#555" stroke-width="0.8"/>
<line x1="267.20" y1="9.30" x2="267.20" y2="11.90" stroke="#555" stroke-width="0.8"/>
<line x1="301.20" y1="9.30" x2="301.20" y2="11.90" stroke="#555" stroke-width="0.8"/>
<line x1="335.20" y1="9.30" x2="335.20" y2="11.90" stroke="#555" stroke-width="0.8"/>
<line x1="250.20" y1="9.30" x2="250.20" y2="10.90" stroke="#555" stroke-width="0.7"/>
<line x1="284.20" y1="9.30" x2="284.20" y2="10.90" stroke="#555" stroke-width="0.7"/>
<line x1="318.20" y1="9.30" x2="318.20" y2="10.90" stroke="#555" stroke-width="0.7"/>
<line x1="352.20" y1="9.30" x2="352.20" y2="10.90" stroke="#555" stroke-width="0.7"/>
<line x1="233.20" y1="171.20" x2="233.20" y2="173.80" stroke="#555" stroke-width="0.8"/>
<line x1="267.20" y1="171.20" x2="267.20" y2="173.80" stroke="#555" stroke-width="0.8"/>
<line x1="301.20" y1="171.20" x2="301.20" y2="173.80" stroke="#555" stroke-width="0.8"/>
<line x1="335.20" y1="171.20" x2="335.20" y2="173.80" stroke="#555" stroke-width="0.8"/>
<line x1="250.20" y1="171.20" x2="250.20" y2="172.80" stroke="#555" stroke-width="0.7"/>
<line x1="284.20" y1="171.20" x2="284.20" y2="172.80" stroke="#555" stroke-width="0.7"/>
<line x1="318.20" y1="171.20" x2="318.20" y2="172.80" stroke="#555" stroke-width="0.7"/>
<line x1="352.20" y1="171.20" x2="352.20" y2="172.80" stroke="#555" stroke-width="0.7"/>
<line x1="233.20" y1="333.40" x2="233.20" y2="336.00" stroke="#555" stroke-width="0.8"/>
<text x="233.20" y="343.60" font-size="7.8" fill="#3a3a3a" stroke="#3a3a3a" stroke-width="0.2" text-anchor="middle" >45</text>
<line x1="267.20" y1="333.40" x2="267.20" y2="336.00" stroke="#555" stroke-width="0.8"/>
<text x="267.20" y="343.60" font-size="7.8" fill="#3a3a3a" stroke="#3a3a3a" stroke-width="0.2" text-anchor="middle" >40</text>
<line x1="301.20" y1="333.40" x2="301.20" y2="336.00" stroke="#555" stroke-width="0.8"/>
<text x="301.20" y="343.60" font-size="7.8" fill="#3a3a3a" stroke="#3a3a3a" stroke-width="0.2" text-anchor="middle" >35</text>
<line x1="335.20" y1="333.40" x2="335.20" y2="336.00" stroke="#555" stroke-width="0.8"/>
<text x="335.20" y="343.60" font-size="7.8" fill="#3a3a3a" stroke="#3a3a3a" stroke-width="0.2" text-anchor="middle" >30</text>
<line x1="250.20" y1="333.40" x2="250.20" y2="335.00" stroke="#555" stroke-width="0.7"/>
<line x1="284.20" y1="333.40" x2="284.20" y2="335.00" stroke="#555" stroke-width="0.7"/>
<line x1="318.20" y1="333.40" x2="318.20" y2="335.00" stroke="#555" stroke-width="0.7"/>
<line x1="352.20" y1="333.40" x2="352.20" y2="335.00" stroke="#555" stroke-width="0.7"/>
<path d="M223.6,107.7 223.9,107.3 224.1,108.5 224.4,107.2 224.7,107.3 224.9,107.9 225.2,106.7 225.4,106.8 225.7,107.1 226.0,106.8 226.2,106.3 226.5,106.7 226.8,106.5 227.0,106.9 227.3,105.8 227.6,106.1 227.8,106.9 228.1,107.1 228.4,105.5 228.6,106.4 228.9,105.6 229.1,105.6 229.4,105.5 229.7,105.6 229.9,106.1 230.2,105.9 230.5,105.6 230.7,105.3 231.0,105.3 231.3,105.2 231.5,105.5 231.8,104.8 232.0,105.0 232.3,104.8 232.6,104.7 232.8,104.8 233.1,104.6 233.4,105.0 233.6,104.3 233.9,104.9 234.2,103.9 234.4,103.7 234.7,103.8 234.9,103.8 235.2,103.6 235.5,103.9 235.7,103.7 236.0,103.2 236.3,102.6 236.5,102.5 236.8,103.0 237.1,102.2 237.3,101.3 237.6,101.3 237.9,101.1 238.1,101.7 238.4,100.9 238.6,101.7 238.9,100.7 239.2,100.2 239.4,99.7 239.7,100.1 240.0,99.3 240.2,98.8 240.5,99.1 240.8,98.7 241.0,98.9 241.3,98.1 241.5,96.7 241.8,98.1 242.1,96.7 242.3,98.0 242.6,97.9 242.9,96.7 243.1,96.2 243.4,95.9 243.7,96.8 243.9,96.1 244.2,95.7 244.5,95.7 244.7,96.6 245.0,95.6 245.2,95.6 245.5,95.4 245.8,95.3 246.0,95.1 246.3,94.2 246.6,94.2 246.8,93.8 247.1,93.6 247.4,94.3 247.6,93.4 247.9,93.4 248.1,93.0 248.4,92.9 248.7,93.4 248.9,92.7 249.2,92.6 249.5,92.9 249.7,92.8 250.0,92.8 250.3,92.5 250.5,91.6 250.8,92.6 251.0,92.5 251.3,92.8 251.6,91.9 251.8,93.5 252.1,91.8 252.4,92.8 252.6,92.6 252.9,92.4 253.2,93.1 253.4,92.7 253.7,91.9 254.0,92.6 254.2,93.5 254.5,94.5 254.7,93.0 255.0,93.8 255.3,94.6 255.5,94.5 255.8,94.2 256.1,93.9 256.3,94.0 256.6,94.6 256.9,95.0 257.1,94.4 257.4,94.8 257.6,95.9 257.9,95.8 258.2,95.9 258.4,96.2 258.7,96.3 259.0,97.4 259.2,98.0 259.5,98.5 259.8,98.1 260.0,98.5 260.3,99.1 260.5,99.5 260.8,99.7 261.1,99.9 261.3,99.3 261.6,99.2 261.9,100.6 262.1,100.4 262.4,100.7 262.7,100.6 262.9,100.7 263.2,102.2 263.5,102.1 263.7,101.7 264.0,102.6 264.2,102.8 264.5,103.1 264.8,104.1 265.0,103.2 265.3,102.7 265.6,103.3 265.8,103.0 266.1,103.4 266.4,103.1 266.6,103.0 266.9,102.4 267.1,102.6 267.4,101.9 267.7,102.1 267.9,101.4 268.2,100.8 268.5,101.2 268.7,100.3 269.0,100.8 269.3,99.9 269.5,99.4 269.8,98.8 270.1,98.1 270.3,96.5 270.6,97.5 270.8,95.9 271.1,96.0 271.4,94.6 271.6,94.0 271.9,93.1 272.2,91.7 272.4,91.0 272.7,90.0 273.0,88.3 273.2,86.5 273.5,85.4 273.7,84.3 274.0,83.2 274.3,81.6 274.5,80.0 274.8,78.0 275.1,77.5 275.3,75.9 275.6,74.5 275.9,73.7 276.1,72.2 276.4,70.8 276.6,68.7 276.9,67.6 277.2,65.8 277.4,65.5 277.7,64.3 278.0,63.8 278.2,62.7 278.5,61.8 278.8,62.5 279.0,60.6 279.3,60.1 279.6,60.0 279.8,60.2 280.1,59.5 280.3,59.2 280.6,58.6 280.9,59.5 281.1,58.3 281.4,57.9 281.7,58.1 281.9,57.5 282.2,57.6 282.5,58.1 282.7,57.1 283.0,57.2 283.2,56.9 283.5,56.8 283.8,57.1 284.0,56.7 284.3,56.0 284.6,55.4 284.8,55.1 285.1,54.8 285.4,53.6 285.6,52.5 285.9,50.7 286.2,50.7 286.4,48.4 286.7,47.3 286.9,46.4 287.2,45.4 287.5,44.2 287.7,42.7 288.0,41.9 288.3,40.7 288.5,39.1 288.8,38.7 289.1,37.4 289.3,36.8 289.6,35.5 289.8,34.9 290.1,33.8 290.4,33.1 290.6,32.4 290.9,31.5 291.2,30.6 291.4,30.7 291.7,29.2 292.0,29.1 292.2,29.0 292.5,28.1 292.7,28.3 293.0,27.5 293.3,27.6 293.5,28.1 293.8,28.3 294.1,28.8 294.3,28.5 294.6,28.9 294.9,29.4 295.1,29.8 295.4,29.4 295.7,30.3 295.9,32.0 296.2,31.7 296.4,33.7 296.7,34.4 297.0,36.4 297.2,37.0 297.5,38.9 297.8,39.4 298.0,41.8 298.3,43.8 298.6,44.0 298.8,46.6 299.1,47.0 299.3,48.5 299.6,48.5 299.9,51.5 300.1,51.8 300.4,53.2 300.7,54.1 300.9,55.5 301.2,57.7 301.5,58.2 301.7,60.0 302.0,60.7 302.3,62.2 302.5,63.0 302.8,64.5 303.0,66.7 303.3,67.0 303.6,68.2 303.8,69.0 304.1,70.9 304.4,72.2 304.6,72.0 304.9,73.3 305.2,76.0 305.4,76.3 305.7,77.1 305.9,78.2 306.2,79.2 306.5,79.8 306.7,80.0 307.0,81.7 307.3,81.4 307.5,81.6 307.8,82.3 308.1,83.0 308.3,83.4 308.6,83.9 308.8,84.6 309.1,83.3 309.4,84.8 309.6,86.0 309.9,86.1 310.2,85.9 310.4,86.3 310.7,87.4 311.0,87.1 311.2,87.2 311.5,88.6 311.8,87.9 312.0,88.6 312.3,88.5 312.5,88.8 312.8,88.6 313.1,88.9 313.3,90.0 313.6,89.1 313.9,89.9 314.1,89.4 314.4,90.0 314.7,90.2 314.9,89.6 315.2,91.0 315.4,90.5 315.7,91.2 316.0,90.4 316.2,91.3 316.5,92.0 316.8,91.2 317.0,90.9 317.3,91.5 317.6,91.4 317.8,91.3 318.1,91.4 318.4,91.2 318.6,91.7 318.9,91.3 319.1,91.1 319.4,91.9 319.7,91.4 319.9,92.7 320.2,91.3 320.5,91.1 320.7,91.2 321.0,91.6 321.3,91.1 321.5,90.8 321.8,92.1 322.0,90.8 322.3,92.0 322.6,91.4 322.8,90.8 323.1,92.1 323.4,91.2 323.6,90.9 323.9,91.5 324.2,92.2 324.4,92.2 324.7,92.5 324.9,93.2 325.2,92.9 325.5,93.3 325.7,93.4 326.0,93.2 326.3,94.2 326.5,95.4 326.8,94.3 327.1,96.1 327.3,96.1 327.6,96.1 327.9,97.1 328.1,98.5 328.4,98.0 328.6,99.3 328.9,100.1 329.2,99.8 329.4,101.1 329.7,101.8 330.0,101.9 330.2,103.1 330.5,103.2 330.8,103.7 331.0,104.0 331.3,105.3 331.5,105.5 331.8,105.9 332.1,106.2 332.3,106.7 332.6,107.5 332.9,108.7 333.1,108.5 333.4,110.0 333.7,110.1 333.9,110.5 334.2,110.4 334.4,112.4 334.7,111.4 335.0,112.8 335.2,113.8 335.5,113.5 335.8,113.8 336.0,114.7 336.3,115.6 336.6,116.3 336.8,116.5 337.1,116.3 337.4,117.0 337.6,117.9 337.9,117.7 338.1,118.7 338.4,120.4 338.7,119.4 338.9,120.9 339.2,120.5 339.5,121.3 339.7,121.9 340.0,121.8 340.3,123.0 340.5,124.1 340.8,124.4 341.0,124.9 341.3,124.8 341.6,125.6 341.8,126.3 342.1,127.1 342.4,127.9 342.6,127.4 342.9,129.2 343.2,128.8 343.4,129.4 343.7,129.5 344.0,130.6 344.2,131.0 344.5,131.1 344.7,132.1 345.0,132.8 345.3,133.1 345.5,134.2 345.8,133.9 346.1,135.2 346.3,135.3 346.6,136.0 346.9,135.5 347.1,136.9 347.4,137.3 347.6,138.2 347.9,137.8 348.2,139.4 348.4,138.8 348.7,140.4 349.0,140.5 349.2,140.4 349.5,142.1 349.8,141.1 350.0,142.0 350.3,142.6 350.5,143.1 350.8,143.3 351.1,144.0 351.3,144.2 351.6,144.3 351.9,144.2 352.1,144.8 352.4,145.7 352.7,145.1 352.9,146.0 353.2,145.3 353.5,146.2 353.7,146.1 354.0,147.7 354.2,146.5 354.5,147.5 354.8,148.2 355.0,148.4 355.3,148.6" fill="none" stroke="#777" stroke-width="0.6" stroke-opacity="1.0" stroke-linejoin="round" />
<path d="M223.6,107.5 223.9,107.4 224.1,107.4 224.4,107.3 224.7,107.2 224.9,107.2 225.2,107.1 225.4,107.0 225.7,107.0 226.0,106.9 226.2,106.8 226.5,106.8 226.8,106.7 227.0,106.6 227.3,106.5 227.6,106.4 227.8,106.4 228.1,106.3 228.4,106.2 228.6,106.1 228.9,106.0 229.1,106.0 229.4,105.9 229.7,105.8 229.9,105.7 230.2,105.6 230.5,105.5 230.7,105.4 231.0,105.3 231.3,105.3 231.5,105.2 231.8,105.1 232.0,105.0 232.3,104.9 232.6,104.8 232.8,104.7 233.1,104.5 233.4,104.4 233.6,104.3 233.9,104.2 234.2,104.1 234.4,103.9 234.7,103.8 234.9,103.7 235.2,103.5 235.5,103.3 235.7,103.1 236.0,102.9 236.3,102.7 236.5,102.5 236.8,102.3 237.1,102.1 237.3,101.9 237.6,101.6 237.9,101.4 238.1,101.1 238.4,100.9 238.6,100.6 238.9,100.4 239.2,100.1 239.4,99.9 239.7,99.6 240.0,99.4 240.2,99.1 240.5,98.9 240.8,98.6 241.0,98.4 241.3,98.2 241.5,97.9 241.8,97.7 242.1,97.5 242.3,97.3 242.6,97.1 242.9,96.9 243.1,96.7 243.4,96.5 243.7,96.4 243.9,96.2 244.2,96.0 244.5,95.8 244.7,95.6 245.0,95.4 245.2,95.2 245.5,95.0 245.8,94.9 246.0,94.7 246.3,94.5 246.6,94.3 246.8,94.1 247.1,93.9 247.4,93.8 247.6,93.6 247.9,93.4 248.1,93.3 248.4,93.1 248.7,93.0 248.9,92.9 249.2,92.8 249.5,92.7 249.7,92.6 250.0,92.5 250.3,92.4 250.5,92.4 250.8,92.3 251.0,92.3 251.3,92.3 251.6,92.3 251.8,92.3 252.1,92.4 252.4,92.5 252.6,92.5 252.9,92.6 253.2,92.7 253.4,92.9 253.7,93.0 254.0,93.1 254.2,93.3 254.5,93.5 254.7,93.6 255.0,93.8 255.3,94.0 255.5,94.2 255.8,94.4 256.1,94.6 256.3,94.8 256.6,95.0 256.9,95.2 257.1,95.4 257.4,95.6 257.6,95.8 257.9,96.0 258.2,96.2 258.4,96.4 258.7,96.7 259.0,97.0 259.2,97.2 259.5,97.5 259.8,97.8 260.0,98.1 260.3,98.4 260.5,98.7 260.8,99.0 261.1,99.3 261.3,99.6 261.6,99.9 261.9,100.2 262.1,100.4 262.4,100.7 262.7,101.0 262.9,101.3 263.2,101.6 263.5,101.9 263.7,102.1 264.0,102.4 264.2,102.7 264.5,102.9 264.8,103.1 265.0,103.2 265.3,103.3 265.6,103.3 265.8,103.3 266.1,103.2 266.4,103.0 266.6,102.8 266.9,102.6 267.1,102.4 267.4,102.1 267.7,101.8 267.9,101.6 268.2,101.3 268.5,100.9 268.7,100.6 269.0,100.2 269.3,99.7 269.5,99.2 269.8,98.7 270.1,98.1 270.3,97.6 270.6,96.9 270.8,96.3 271.1,95.6 271.4,94.9 271.6,94.1 271.9,93.2 272.2,92.2 272.4,91.0 272.7,89.8 273.0,88.5 273.2,87.1 273.5,85.6 273.7,84.2 274.0,82.7 274.3,81.3 274.5,79.8 274.8,78.4 275.1,77.1 275.3,75.9 275.6,74.6 275.9,73.3 276.1,71.9 276.4,70.5 276.6,69.2 276.9,67.9 277.2,66.6 277.4,65.4 277.7,64.3 278.0,63.4 278.2,62.6 278.5,62.0 278.8,61.5 279.0,61.1 279.3,60.7 279.6,60.3 279.8,60.0 280.1,59.7 280.3,59.4 280.6,59.1 280.9,58.8 281.1,58.6 281.4,58.3 281.7,58.1 281.9,57.9 282.2,57.7 282.5,57.5 282.7,57.3 283.0,57.2 283.2,57.0 283.5,56.9 283.8,56.7 284.0,56.5 284.3,56.2 284.6,55.8 284.8,55.2 285.1,54.5 285.4,53.6 285.6,52.6 285.9,51.5 286.2,50.3 286.4,49.1 286.7,47.8 286.9,46.6 287.2,45.4 287.5,44.2 287.7,43.0 288.0,42.0 288.3,41.0 288.5,39.9 288.8,38.8 289.1,37.7 289.3,36.6 289.6,35.5 289.8,34.5 290.1,33.5 290.4,32.6 290.6,31.9 290.9,31.2 291.2,30.7 291.4,30.1 291.7,29.6 292.0,29.1 292.2,28.6 292.5,28.3 292.7,28.0 293.0,27.8 293.3,27.8 293.5,27.9 293.8,28.0 294.1,28.2 294.3,28.5 294.6,28.8 294.9,29.2 295.1,29.5 295.4,29.9 295.7,30.5 295.9,31.3 296.2,32.3 296.4,33.4 296.7,34.6 297.0,36.0 297.2,37.4 297.5,38.8 297.8,40.3 298.0,41.8 298.3,43.3 298.6,44.7 298.8,46.0 299.1,47.3 299.3,48.5 299.6,49.7 299.9,51.0 300.1,52.2 300.4,53.5 300.7,54.7 300.9,55.9 301.2,57.2 301.5,58.4 301.7,59.6 302.0,60.8 302.3,62.0 302.5,63.2 302.8,64.3 303.0,65.5 303.3,66.7 303.6,68.0 303.8,69.2 304.1,70.4 304.4,71.6 304.6,72.8 304.9,73.9 305.2,75.0 305.4,76.1 305.7,77.1 305.9,77.9 306.2,78.7 306.5,79.5 306.7,80.2 307.0,80.8 307.3,81.4 307.5,82.0 307.8,82.6 308.1,83.1 308.3,83.6 308.6,84.0 308.8,84.4 309.1,84.8 309.4,85.2 309.6,85.5 309.9,85.9 310.2,86.2 310.4,86.5 310.7,86.9 311.0,87.2 311.2,87.5 311.5,87.8 311.8,88.0 312.0,88.3 312.3,88.6 312.5,88.8 312.8,89.0 313.1,89.3 313.3,89.5 313.6,89.6 313.9,89.8 314.1,90.0 314.4,90.1 314.7,90.2 314.9,90.3 315.2,90.5 315.4,90.6 315.7,90.7 316.0,90.8 316.2,90.9 316.5,91.0 316.8,91.1 317.0,91.2 317.3,91.2 317.6,91.3 317.8,91.4 318.1,91.4 318.4,91.5 318.6,91.5 318.9,91.5 319.1,91.5 319.4,91.5 319.7,91.5 319.9,91.5 320.2,91.5 320.5,91.4 320.7,91.4 321.0,91.4 321.3,91.4 321.5,91.4 321.8,91.4 322.0,91.3 322.3,91.3 322.6,91.3 322.8,91.3 323.1,91.3 323.4,91.3 323.6,91.4 323.9,91.5 324.2,91.7 324.4,91.9 324.7,92.1 324.9,92.5 325.2,92.8 325.5,93.1 325.7,93.5 326.0,93.9 326.3,94.3 326.5,94.6 326.8,95.0 327.1,95.5 327.3,96.0 327.6,96.5 327.9,97.1 328.1,97.7 328.4,98.3 328.6,98.9 328.9,99.6 329.2,100.2 329.4,100.9 329.7,101.5 330.0,102.2 330.2,102.8 330.5,103.4 330.8,104.0 331.0,104.5 331.3,105.1 331.5,105.7 331.8,106.2 332.1,106.7 332.3,107.3 332.6,107.8 332.9,108.3 333.1,108.9 333.4,109.4 333.7,109.9 333.9,110.4 334.2,111.0 334.4,111.5 334.7,112.0 335.0,112.6 335.2,113.1 335.5,113.6 335.8,114.1 336.0,114.7 336.3,115.2 336.6,115.7 336.8,116.2 337.1,116.8 337.4,117.3 337.6,117.8 337.9,118.3 338.1,118.8 338.4,119.4 338.7,119.9 338.9,120.4 339.2,120.9 339.5,121.4 339.7,122.0 340.0,122.5 340.3,123.0 340.5,123.5 340.8,124.1 341.0,124.6 341.3,125.1 341.6,125.7 341.8,126.2 342.1,126.8 342.4,127.3 342.6,127.8 342.9,128.4 343.2,128.9 343.4,129.5 343.7,130.0 344.0,130.6 344.2,131.1 344.5,131.7 344.7,132.2 345.0,132.7 345.3,133.3 345.5,133.8 345.8,134.3 346.1,134.8 346.3,135.4 346.6,135.9 346.9,136.4 347.1,136.8 347.4,137.3 347.6,137.8 347.9,138.3 348.2,138.8 348.4,139.3 348.7,139.8 349.0,140.2 349.2,140.7 349.5,141.2 349.8,141.6 350.0,142.0 350.3,142.5 350.5,142.9 350.8,143.2 351.1,143.6 351.3,144.0 351.6,144.3 351.9,144.6 352.1,145.0 352.4,145.3 352.7,145.6 352.9,145.9 353.2,146.2 353.5,146.5 353.7,146.8 354.0,147.1 354.2,147.4 354.5,147.6 354.8,147.9 355.0,148.1 355.3,148.3" fill="none" stroke="#e86262" stroke-width="1.0" stroke-opacity="1" stroke-linejoin="round" />
<path d="M223.6,107.5 223.9,107.6 224.1,107.6 224.4,107.7 224.7,107.8 224.9,107.8 225.2,107.9 225.4,107.9 225.7,108.0 226.0,108.1 226.2,108.1 226.5,108.2 226.8,108.3 227.0,108.3 227.3,108.4 227.6,108.5 227.8,108.5 228.1,108.6 228.4,108.6 228.6,108.7 228.9,108.8 229.1,108.8 229.4,108.9 229.7,109.0 229.9,109.0 230.2,109.1 230.5,109.2 230.7,109.2 231.0,109.3 231.3,109.3 231.5,109.4 231.8,109.5 232.0,109.5 232.3,109.6 232.6,109.7 232.8,109.7 233.1,109.8 233.4,109.9 233.6,109.9 233.9,110.0 234.2,110.0 234.4,110.1 234.7,110.2 234.9,110.2 235.2,110.3 235.5,110.4 235.7,110.4 236.0,110.5 236.3,110.6 236.5,110.6 236.8,110.7 237.1,110.8 237.3,110.8 237.6,110.9 237.9,110.9 238.1,111.0 238.4,111.1 238.6,111.1 238.9,111.2 239.2,111.3 239.4,111.3 239.7,111.4 240.0,111.5 240.2,111.5 240.5,111.6 240.8,111.6 241.0,111.7 241.3,111.8 241.5,111.8 241.8,111.9 242.1,112.0 242.3,112.0 242.6,112.1 242.9,112.2 243.1,112.2 243.4,112.3 243.7,112.3 243.9,112.4 244.2,112.5 244.5,112.5 244.7,112.6 245.0,112.7 245.2,112.7 245.5,112.8 245.8,112.9 246.0,112.9 246.3,113.0 246.6,113.0 246.8,113.1 247.1,113.2 247.4,113.2 247.6,113.3 247.9,113.4 248.1,113.4 248.4,113.5 248.7,113.6 248.9,113.6 249.2,113.7 249.5,113.7 249.7,113.8 250.0,113.9 250.3,113.9 250.5,114.0 250.8,114.1 251.0,114.1 251.3,114.2 251.6,114.2 251.8,114.3 252.1,114.4 252.4,114.4 252.6,114.5 252.9,114.6 253.2,114.6 253.4,114.7 253.7,114.8 254.0,114.8 254.2,114.9 254.5,115.0 254.7,115.0 255.0,115.1 255.3,115.1 255.5,115.2 255.8,115.3 256.1,115.3 256.3,115.4 256.6,115.5 256.9,115.5 257.1,115.6 257.4,115.7 257.6,115.7 257.9,115.8 258.2,115.9 258.4,115.9 258.7,116.0 259.0,116.1 259.2,116.1 259.5,116.2 259.8,116.3 260.0,116.3 260.3,116.4 260.5,116.5 260.8,116.5 261.1,116.6 261.3,116.7 261.6,116.7 261.9,116.8 262.1,116.9 262.4,116.9 262.7,117.0 262.9,117.1 263.2,117.1 263.5,117.2 263.7,117.3 264.0,117.3 264.2,117.4 264.5,117.5 264.8,117.5 265.0,117.6 265.3,117.6 265.6,117.7 265.8,117.8 266.1,117.8 266.4,117.9 266.6,118.0 266.9,118.0 267.1,118.1 267.4,118.2 267.7,118.2 267.9,118.3 268.2,118.4 268.5,118.4 268.7,118.5 269.0,118.6 269.3,118.7 269.5,118.7 269.8,118.8 270.1,118.9 270.3,118.9 270.6,119.0 270.8,119.1 271.1,119.1 271.4,119.2 271.6,119.3 271.9,119.4 272.2,119.4 272.4,119.5 272.7,119.6 273.0,119.7 273.2,119.8 273.5,119.8 273.7,119.9 274.0,120.0 274.3,120.1 274.5,120.2 274.8,120.2 275.1,120.3 275.3,120.4 275.6,120.5 275.9,120.6 276.1,120.7 276.4,120.8 276.6,120.9 276.9,120.9 277.2,121.0 277.4,121.1 277.7,121.2 278.0,121.3 278.2,121.4 278.5,121.5 278.8,121.6 279.0,121.7 279.3,121.8 279.6,121.9 279.8,122.0 280.1,122.1 280.3,122.2 280.6,122.3 280.9,122.4 281.1,122.5 281.4,122.7 281.7,122.8 281.9,122.9 282.2,123.0 282.5,123.1 282.7,123.2 283.0,123.3 283.2,123.4 283.5,123.6 283.8,123.7 284.0,123.8 284.3,123.9 284.6,124.0 284.8,124.1 285.1,124.3 285.4,124.4 285.6,124.5 285.9,124.6 286.2,124.7 286.4,124.9 286.7,125.0 286.9,125.1 287.2,125.2 287.5,125.3 287.7,125.5 288.0,125.6 288.3,125.7 288.5,125.8 288.8,126.0 289.1,126.1 289.3,126.2 289.6,126.4 289.8,126.5 290.1,126.6 290.4,126.7 290.6,126.9 290.9,127.0 291.2,127.1 291.4,127.3 291.7,127.4 292.0,127.5 292.2,127.7 292.5,127.8 292.7,128.0 293.0,128.1 293.3,128.2 293.5,128.4 293.8,128.6 294.1,128.7 294.3,128.9 294.6,129.0 294.9,129.2 295.1,129.3 295.4,129.5 295.7,129.7 295.9,129.8 296.2,130.0 296.4,130.2 296.7,130.3 297.0,130.5 297.2,130.7 297.5,130.8 297.8,131.0 298.0,131.2 298.3,131.3 298.6,131.5 298.8,131.7 299.1,131.8 299.3,132.0 299.6,132.2 299.9,132.3 300.1,132.5 300.4,132.7 300.7,132.9 300.9,133.0 301.2,133.2 301.5,133.3 301.7,133.5 302.0,133.7 302.3,133.8 302.5,134.0 302.8,134.2 303.0,134.3 303.3,134.5 303.6,134.6 303.8,134.8 304.1,134.9 304.4,135.1 304.6,135.2 304.9,135.4 305.2,135.5 305.4,135.7 305.7,135.8 305.9,135.9 306.2,136.1 306.5,136.2 306.7,136.3 307.0,136.4 307.3,136.6 307.5,136.7 307.8,136.8 308.1,136.9 308.3,137.1 308.6,137.2 308.8,137.3 309.1,137.4 309.4,137.5 309.6,137.7 309.9,137.8 310.2,137.9 310.4,138.0 310.7,138.1 311.0,138.2 311.2,138.4 311.5,138.5 311.8,138.6 312.0,138.7 312.3,138.8 312.5,138.9 312.8,139.0 313.1,139.1 313.3,139.3 313.6,139.4 313.9,139.5 314.1,139.6 314.4,139.7 314.7,139.8 314.9,139.9 315.2,140.0 315.4,140.1 315.7,140.2 316.0,140.3 316.2,140.4 316.5,140.5 316.8,140.6 317.0,140.7 317.3,140.8 317.6,140.9 317.8,141.0 318.1,141.1 318.4,141.2 318.6,141.3 318.9,141.4 319.1,141.4 319.4,141.5 319.7,141.6 319.9,141.7 320.2,141.8 320.5,141.9 320.7,142.0 321.0,142.0 321.3,142.1 321.5,142.2 321.8,142.3 322.0,142.4 322.3,142.4 322.6,142.5 322.8,142.6 323.1,142.7 323.4,142.7 323.6,142.8 323.9,142.9 324.2,143.0 324.4,143.0 324.7,143.1 324.9,143.2 325.2,143.2 325.5,143.3 325.7,143.4 326.0,143.5 326.3,143.5 326.5,143.6 326.8,143.7 327.1,143.7 327.3,143.8 327.6,143.9 327.9,143.9 328.1,144.0 328.4,144.0 328.6,144.1 328.9,144.2 329.2,144.2 329.4,144.3 329.7,144.4 330.0,144.4 330.2,144.5 330.5,144.5 330.8,144.6 331.0,144.6 331.3,144.7 331.5,144.8 331.8,144.8 332.1,144.9 332.3,144.9 332.6,145.0 332.9,145.0 333.1,145.1 333.4,145.1 333.7,145.2 333.9,145.3 334.2,145.3 334.4,145.4 334.7,145.4 335.0,145.5 335.2,145.5 335.5,145.6 335.8,145.6 336.0,145.7 336.3,145.7 336.6,145.8 336.8,145.8 337.1,145.8 337.4,145.9 337.6,145.9 337.9,146.0 338.1,146.0 338.4,146.1 338.7,146.1 338.9,146.2 339.2,146.2 339.5,146.2 339.7,146.3 340.0,146.3 340.3,146.4 340.5,146.4 340.8,146.5 341.0,146.5 341.3,146.5 341.6,146.6 341.8,146.6 342.1,146.7 342.4,146.7 342.6,146.7 342.9,146.8 343.2,146.8 343.4,146.9 343.7,146.9 344.0,146.9 344.2,147.0 344.5,147.0 344.7,147.1 345.0,147.1 345.3,147.1 345.5,147.2 345.8,147.2 346.1,147.3 346.3,147.3 346.6,147.3 346.9,147.4 347.1,147.4 347.4,147.4 347.6,147.5 347.9,147.5 348.2,147.5 348.4,147.6 348.7,147.6 349.0,147.6 349.2,147.7 349.5,147.7 349.8,147.7 350.0,147.8 350.3,147.8 350.5,147.8 350.8,147.9 351.1,147.9 351.3,147.9 351.6,147.9 351.9,148.0 352.1,148.0 352.4,148.0 352.7,148.1 352.9,148.1 353.2,148.1 353.5,148.1 353.7,148.2 354.0,148.2 354.2,148.2 354.5,148.2 354.8,148.3 355.0,148.3 355.3,148.3" fill="none" stroke="#5060d0" stroke-width="0.85" stroke-opacity="1.0" stroke-linejoin="round" />
<path d="M264.0,116.5 264.2,116.4 264.5,116.3 264.8,116.2 265.0,116.1 265.3,115.9 265.6,115.8 265.8,115.6 266.1,115.3 266.4,115.1 266.6,114.8 266.9,114.5 267.1,114.1 267.4,113.7 267.7,113.2 267.9,112.7 268.2,112.2 268.5,111.6 268.7,111.0 269.0,110.3 269.3,109.5 269.5,108.8 269.8,107.9 270.1,107.0 270.3,106.0 270.6,105.0 270.8,104.0 271.1,102.9 271.4,101.7 271.6,100.5 271.9,99.3 272.2,98.0 272.4,96.7 272.7,95.3 273.0,94.0 273.2,92.6 273.5,91.2 273.7,89.9 274.0,88.5 274.3,87.1 274.5,85.8 274.8,84.5 275.1,83.3 275.3,82.1 275.6,80.9 275.9,79.8 276.1,78.8 276.4,77.9 276.6,77.1 276.9,76.4 277.2,75.7 277.4,75.2 277.7,74.8 278.0,74.5 278.2,74.3 278.5,74.3 278.8,74.3 279.0,74.5 279.3,74.8 279.6,75.3 279.8,75.8 280.1,76.5 280.3,77.2 280.6,78.1 280.9,79.1 281.1,80.2 281.4,81.3 281.7,82.6 281.9,83.9 282.2,85.2 282.5,86.7 282.7,88.1 283.0,89.6 283.2,91.2 283.5,92.7 283.8,94.3 284.0,95.9 284.3,97.4 284.6,99.0 284.8,100.5 285.1,102.0 285.4,103.5 285.6,105.0 285.9,106.4 286.2,107.8 286.4,109.1 286.7,110.4 286.9,111.6 287.2,112.8 287.5,113.9 287.7,115.0 288.0,116.0 288.3,117.0 288.5,117.9 288.8,118.8 289.1,119.6 289.3,120.3 289.6,121.1 289.8,121.7 290.1,122.4 290.4,122.9 290.6,123.5 290.9,124.0 291.2,124.5 291.4,124.9 291.7,125.3 292.0,125.7 292.2,126.1 292.5,126.4 292.7,126.7 293.0,127.0 293.3,127.3 293.5,127.6" fill="none" stroke="#8cc8ee" stroke-width="0.95" stroke-opacity="1.0" stroke-linejoin="round" />
<path d="M279.0,120.9 279.3,120.8 279.6,120.8 279.8,120.7 280.1,120.6 280.3,120.4 280.6,120.3 280.9,120.1 281.1,119.9 281.4,119.6 281.7,119.3 281.9,119.0 282.2,118.6 282.5,118.2 282.7,117.7 283.0,117.2 283.2,116.6 283.5,115.9 283.8,115.2 284.0,114.4 284.3,113.6 284.6,112.7 284.8,111.7 285.1,110.7 285.4,109.6 285.6,108.4 285.9,107.1 286.2,105.9 286.4,104.5 286.7,103.1 286.9,101.6 287.2,100.1 287.5,98.6 287.7,97.1 288.0,95.5 288.3,93.9 288.5,92.3 288.8,90.7 289.1,89.1 289.3,87.5 289.6,86.0 289.8,84.5 290.1,83.1 290.4,81.8 290.6,80.5 290.9,79.3 291.2,78.3 291.4,77.3 291.7,76.5 292.0,75.7 292.2,75.2 292.5,74.7 292.7,74.4 293.0,74.3 293.3,74.3 293.5,74.4 293.8,74.7 294.1,75.2 294.3,75.8 294.6,76.5 294.9,77.4 295.1,78.5 295.4,79.6 295.7,80.9 295.9,82.2 296.2,83.7 296.4,85.3 296.7,86.9 297.0,88.6 297.2,90.4 297.5,92.2 297.8,94.1 298.0,96.0 298.3,97.9 298.6,99.8 298.8,101.7 299.1,103.5 299.3,105.4 299.6,107.2 299.9,109.0 300.1,110.7 300.4,112.4 300.7,114.1 300.9,115.6 301.2,117.2 301.5,118.6 301.7,120.0 302.0,121.3 302.3,122.6 302.5,123.7 302.8,124.9 303.0,125.9 303.3,126.9 303.6,127.8 303.8,128.7 304.1,129.5 304.4,130.2 304.6,130.9 304.9,131.5 305.2,132.1 305.4,132.7 305.7,133.2 305.9,133.6 306.2,134.0 306.5,134.4 306.7,134.8 307.0,135.1 307.3,135.4 307.5,135.7 307.8,136.0" fill="none" stroke="#8cc8ee" stroke-width="0.95" stroke-opacity="1.0" stroke-linejoin="round" />
<path d="M277.2,120.1 277.4,120.1 277.7,120.1 278.0,120.0 278.2,120.0 278.5,119.9 278.8,119.8 279.0,119.7 279.3,119.6 279.6,119.5 279.8,119.3 280.1,119.1 280.3,118.9 280.6,118.7 280.9,118.5 281.1,118.2 281.4,117.9 281.7,117.6 281.9,117.2 282.2,116.9 282.5,116.5 282.7,116.0 283.0,115.6 283.2,115.1 283.5,114.6 283.8,114.1 284.0,113.5 284.3,113.0 284.6,112.4 284.8,111.7 285.1,111.1 285.4,110.5 285.6,109.8 285.9,109.1 286.2,108.4 286.4,107.7 286.7,107.0 286.9,106.3 287.2,105.6 287.5,105.0 287.7,104.3 288.0,103.6 288.3,103.0 288.5,102.4 288.8,101.8 289.1,101.2 289.3,100.7 289.6,100.2 289.8,99.7 290.1,99.3 290.4,99.0 290.6,98.7 290.9,98.4 291.2,98.2 291.4,98.1 291.7,98.0 292.0,98.0 292.2,98.0 292.5,98.1 292.7,98.3 293.0,98.5 293.3,98.8 293.5,99.2 293.8,99.6 294.1,100.1 294.3,100.6 294.6,101.2 294.9,101.8 295.1,102.5 295.4,103.3 295.7,104.0 295.9,104.9 296.2,105.7 296.4,106.6 296.7,107.5 297.0,108.4 297.2,109.4 297.5,110.3 297.8,111.3 298.0,112.3 298.3,113.3 298.6,114.3 298.8,115.3 299.1,116.2 299.3,117.2 299.6,118.2 299.9,119.1 300.1,120.0 300.4,120.9 300.7,121.8 300.9,122.7 301.2,123.5 301.5,124.3 301.7,125.1 302.0,125.9 302.3,126.6 302.5,127.3 302.8,128.0 303.0,128.6 303.3,129.2 303.6,129.8 303.8,130.4 304.1,130.9 304.4,131.4 304.6,131.9 304.9,132.3 305.2,132.8 305.4,133.2 305.7,133.6 305.9,133.9 306.2,134.2 306.5,134.6 306.7,134.9 307.0,135.1 307.3,135.4 307.5,135.7 307.8,135.9" fill="none" stroke="#b07de0" stroke-width="0.95" stroke-opacity="1.0" stroke-linejoin="round" />
<path d="M290.4,125.8 290.6,125.9 290.9,125.9 291.2,125.9 291.4,125.9 291.7,125.8 292.0,125.8 292.2,125.8 292.5,125.7 292.7,125.6 293.0,125.6 293.3,125.5 293.5,125.3 293.8,125.2 294.1,125.0 294.3,124.9 294.6,124.7 294.9,124.4 295.1,124.2 295.4,123.9 295.7,123.6 295.9,123.3 296.2,122.9 296.4,122.6 296.7,122.1 297.0,121.7 297.2,121.3 297.5,120.8 297.8,120.2 298.0,119.7 298.3,119.1 298.6,118.5 298.8,117.9 299.1,117.3 299.3,116.6 299.6,115.9 299.9,115.2 300.1,114.4 300.4,113.7 300.7,112.9 300.9,112.2 301.2,111.4 301.5,110.6 301.7,109.8 302.0,109.0 302.3,108.2 302.5,107.4 302.8,106.6 303.0,105.9 303.3,105.1 303.6,104.4 303.8,103.7 304.1,103.0 304.4,102.3 304.6,101.7 304.9,101.1 305.2,100.6 305.4,100.1 305.7,99.6 305.9,99.2 306.2,98.9 306.5,98.5 306.7,98.3 307.0,98.1 307.3,98.0 307.5,97.9 307.8,97.9 308.1,97.9 308.3,98.1 308.6,98.3 308.8,98.5 309.1,98.8 309.4,99.2 309.6,99.6 309.9,100.1 310.2,100.6 310.4,101.2 310.7,101.9 311.0,102.6 311.2,103.4 311.5,104.2 311.8,105.0 312.0,105.9 312.3,106.8 312.5,107.7 312.8,108.7 313.1,109.7 313.3,110.7 313.6,111.7 313.9,112.8 314.1,113.8 314.4,114.9 314.7,116.0 314.9,117.0 315.2,118.1 315.4,119.2 315.7,120.2 316.0,121.2 316.2,122.3 316.5,123.3 316.8,124.2 317.0,125.2 317.3,126.1 317.6,127.1 317.8,128.0 318.1,128.8 318.4,129.7 318.6,130.5 318.9,131.2 319.1,132.0 319.4,132.7 319.7,133.4 319.9,134.1 320.2,134.7 320.5,135.3 320.7,135.9 321.0,136.4 321.3,136.9 321.5,137.4 321.8,137.9 322.0,138.3 322.3,138.7 322.6,139.1 322.8,139.5 323.1,139.9 323.4,140.2 323.6,140.5 323.9,140.8 324.2,141.0 324.4,141.3 324.7,141.5 324.9,141.8 325.2,142.0 325.5,142.2 325.7,142.4 326.0,142.5" fill="none" stroke="#b07de0" stroke-width="0.95" stroke-opacity="1.0" stroke-linejoin="round" />
<path d="M309.4,136.7 309.6,136.7 309.9,136.7 310.2,136.6 310.4,136.6 310.7,136.6 311.0,136.5 311.2,136.4 311.5,136.3 311.8,136.2 312.0,136.1 312.3,135.9 312.5,135.7 312.8,135.6 313.1,135.3 313.3,135.1 313.6,134.8 313.9,134.6 314.1,134.3 314.4,133.9 314.7,133.6 314.9,133.2 315.2,132.9 315.4,132.5 315.7,132.1 316.0,131.6 316.2,131.2 316.5,130.7 316.8,130.3 317.0,129.8 317.3,129.3 317.6,128.8 317.8,128.4 318.1,127.9 318.4,127.4 318.6,127.0 318.9,126.5 319.1,126.1 319.4,125.7 319.7,125.3 319.9,124.9 320.2,124.6 320.5,124.3 320.7,124.0 321.0,123.8 321.3,123.6 321.5,123.4 321.8,123.3 322.0,123.3 322.3,123.2 322.6,123.2 322.8,123.3 323.1,123.4 323.4,123.5 323.6,123.7 323.9,124.0 324.2,124.3 324.4,124.6 324.7,124.9 324.9,125.3 325.2,125.8 325.5,126.2 325.7,126.7 326.0,127.3 326.3,127.8 326.5,128.4 326.8,129.0 327.1,129.6 327.3,130.2 327.6,130.8 327.9,131.5 328.1,132.1 328.4,132.7 328.6,133.4 328.9,134.0 329.2,134.6 329.4,135.2 329.7,135.8 330.0,136.4 330.2,137.0 330.5,137.5 330.8,138.1 331.0,138.6 331.3,139.1 331.5,139.6 331.8,140.0 332.1,140.5 332.3,140.9 332.6,141.3 332.9,141.6 333.1,142.0 333.4,142.3 333.7,142.6 333.9,142.9 334.2,143.2 334.4,143.5 334.7,143.7 335.0,143.9 335.2,144.2 335.5,144.3 335.8,144.5 336.0,144.7 336.3,144.9" fill="none" stroke="#74c97a" stroke-width="0.95" stroke-opacity="1.0" stroke-linejoin="round" />
<path d="M316.0,139.3 316.2,139.3 316.5,139.3 316.8,139.3 317.0,139.2 317.3,139.2 317.6,139.1 317.8,139.0 318.1,138.9 318.4,138.8 318.6,138.6 318.9,138.5 319.1,138.3 319.4,138.1 319.7,137.9 319.9,137.7 320.2,137.4 320.5,137.1 320.7,136.8 321.0,136.5 321.3,136.1 321.5,135.8 321.8,135.4 322.0,134.9 322.3,134.5 322.6,134.0 322.8,133.5 323.1,133.0 323.4,132.5 323.6,131.9 323.9,131.4 324.2,130.8 324.4,130.2 324.7,129.5 324.9,128.9 325.2,128.3 325.5,127.6 325.7,127.0 326.0,126.3 326.3,125.6 326.5,125.0 326.8,124.3 327.1,123.7 327.3,123.0 327.6,122.4 327.9,121.8 328.1,121.2 328.4,120.6 328.6,120.1 328.9,119.6 329.2,119.1 329.4,118.6 329.7,118.2 330.0,117.8 330.2,117.4 330.5,117.1 330.8,116.9 331.0,116.6 331.3,116.5 331.5,116.3 331.8,116.2 332.1,116.2 332.3,116.2 332.6,116.3 332.9,116.4 333.1,116.6 333.4,116.8 333.7,117.1 333.9,117.4 334.2,117.7 334.4,118.1 334.7,118.6 335.0,119.1 335.2,119.6 335.5,120.1 335.8,120.7 336.0,121.4 336.3,122.0 336.6,122.7 336.8,123.4 337.1,124.1 337.4,124.8 337.6,125.6 337.9,126.3 338.1,127.1 338.4,127.9 338.7,128.6 338.9,129.4 339.2,130.2 339.5,130.9 339.7,131.7 340.0,132.4 340.3,133.2 340.5,133.9 340.8,134.6 341.0,135.3 341.3,136.0 341.6,136.6 341.8,137.3 342.1,137.9 342.4,138.5 342.6,139.1 342.9,139.6 343.2,140.2 343.4,140.7 343.7,141.1 344.0,141.6 344.2,142.0 344.5,142.5 344.7,142.9 345.0,143.2 345.3,143.6 345.5,143.9 345.8,144.2 346.1,144.5 346.3,144.8 346.6,145.1 346.9,145.3 347.1,145.5 347.4,145.7 347.6,145.9 347.9,146.1 348.2,146.3 348.4,146.4 348.7,146.6 349.0,146.7" fill="none" stroke="#74c97a" stroke-width="0.95" stroke-opacity="1.0" stroke-linejoin="round" />
<path d="M225.4,107.0 225.7,107.0 226.0,106.9 226.2,106.8 226.5,106.8 226.8,106.7 227.0,106.6 227.3,106.5 227.6,106.4 227.8,106.4 228.1,106.3 228.4,106.2 228.6,106.1 228.9,106.0 229.1,106.0 229.4,105.9 229.7,105.8 229.9,105.7 230.2,105.6 230.5,105.5 230.7,105.4 231.0,105.3 231.3,105.3 231.5,105.2 231.8,105.1 232.0,105.0 232.3,104.9 232.6,104.8 232.8,104.7 233.1,104.5 233.4,104.4 233.6,104.3 233.9,104.2 234.2,104.1 234.4,103.9 234.7,103.8 234.9,103.7 235.2,103.5 235.5,103.3 235.7,103.1 236.0,102.9 236.3,102.7 236.5,102.5 236.8,102.3 237.1,102.1 237.3,101.9 237.6,101.6 237.9,101.4 238.1,101.1 238.4,100.9 238.6,100.6 238.9,100.4 239.2,100.1 239.4,99.9 239.7,99.6 240.0,99.4 240.2,99.1 240.5,98.9 240.8,98.6 241.0,98.4 241.3,98.2 241.5,97.9 241.8,97.7 242.1,97.5 242.3,97.3 242.6,97.1 242.9,96.9 243.1,96.7 243.4,96.5 243.7,96.4 243.9,96.2 244.2,96.0 244.5,95.8 244.7,95.6 245.0,95.4 245.2,95.2 245.5,95.0 245.8,94.9 246.0,94.7 246.3,94.5 246.6,94.3 246.8,94.1 247.1,93.9 247.4,93.8 247.6,93.6 247.9,93.4 248.1,93.3 248.4,93.1 248.7,93.0 248.9,92.9 249.2,92.8 249.5,92.7 249.7,92.6 250.0,92.5 250.3,92.4 250.5,92.4 250.8,92.3 251.0,92.3 251.3,92.7 251.6,92.8 251.8,92.9 252.1,93.0 252.4,93.1 252.6,93.3 252.9,93.4 253.2,93.6 253.4,93.9 253.7,94.1 254.0,94.3 254.2,94.6 254.5,94.9 254.7,95.2 255.0,95.5 255.3,95.9 255.5,96.2 255.8,96.6 256.1,97.0 256.3,97.4 256.6,97.8 256.9,98.2 257.1,98.6 257.4,99.0 257.6,99.5 257.9,99.9 258.2,100.4 258.4,100.8 258.7,101.3 259.0,101.7 259.2,102.2 259.5,102.7 259.8,103.2 260.0,103.6 260.3,104.1 260.5,104.6 260.8,105.0 261.1,105.5 261.3,106.0 261.6,106.4 261.9,106.9 262.1,107.3 262.4,107.8 262.7,108.2 262.9,108.6 263.2,109.0 263.5,109.5 263.7,109.9 264.0,110.3 264.2,110.6 264.5,111.0 264.8,111.4 265.0,111.8 265.3,112.1 265.6,112.5 265.8,112.8 266.1,113.1 266.4,113.4 266.6,113.7 266.9,114.0 267.1,114.3 267.4,114.6 267.7,114.9 267.9,115.1 268.2,115.4 268.5,115.6 268.7,115.9 269.0,116.1 269.3,116.3 269.5,116.6 269.8,116.8 270.1,117.0 270.3,117.2 270.6,117.4 270.8,117.5 271.1,117.7 271.4,117.9 271.6,118.1 271.9,118.2 272.2,118.4 272.4,118.5 272.7,118.7 273.0,118.8 273.2,119.0 273.5,119.1 273.7,119.3 274.0,119.4 274.3,119.5 274.5,119.6 274.8,119.8 275.1,119.9 275.3,120.0 275.6,120.1 275.9,120.3 276.1,120.4 276.4,120.5 276.6,120.6 276.9,120.7 277.2,120.8 277.4,120.9 277.7,121.1 278.0,121.2 278.2,121.3 278.5,121.4 278.8,121.5 279.0,121.6 279.3,121.7 279.6,121.8 279.8,121.9 280.1,122.1 280.3,122.2 280.6,122.3 280.9,122.4 281.1,122.5 281.4,122.6 281.7,122.7 281.9,122.8 282.2,123.0 282.5,123.1 282.7,123.2 283.0,123.3 283.2,123.4 283.5,123.5 283.8,123.7 284.0,123.8 284.3,123.9 284.6,124.0 284.8,124.1 285.1,124.2 285.4,124.4 285.6,124.5 285.9,124.6 286.2,124.7 286.4,124.8 286.7,125.0 286.9,125.1 287.2,125.2 287.5,125.3 287.7,125.5 288.0,125.6 288.3,125.7 288.5,125.8 288.8,126.0 289.1,126.1 289.3,126.2 289.6,126.4 289.8,126.5 290.1,126.6 290.4,126.7 290.6,126.9 290.9,127.0 291.2,127.1 291.4,127.3 291.7,127.4 292.0,127.5 292.2,127.7 292.5,127.8 292.7,128.0 293.0,128.1 293.3,128.2 293.5,128.4 293.8,128.6 294.1,128.7 294.3,128.9 294.6,129.0 294.9,129.2 295.1,129.3 295.4,129.5 295.7,129.7 295.9,129.8 296.2,130.0 296.4,130.2 296.7,130.3 297.0,130.5 297.2,130.7 297.5,130.8 297.8,131.0 298.0,131.2 298.3,131.3 298.6,131.5 298.8,131.7 299.1,131.8 299.3,132.0 299.6,132.2 299.9,132.3 300.1,132.5 300.4,132.7 300.7,132.9 300.9,133.0 301.2,133.2 301.5,133.3 301.7,133.5 302.0,133.7 302.3,133.8 302.5,134.0 302.8,134.2 303.0,134.3 303.3,134.5 303.6,134.6 303.8,134.8 304.1,134.9 304.4,135.1 304.6,135.2 304.9,135.4 305.2,135.5 305.4,135.7 305.7,135.8 305.9,135.9 306.2,136.1 306.5,136.2 306.7,136.3 307.0,136.4 307.3,136.6 307.5,136.7 307.8,136.8 308.1,136.9 308.3,137.1 308.6,137.2 308.8,137.3 309.1,137.4 309.4,137.5 309.6,137.7 309.9,137.8 310.2,137.9 310.4,138.0 310.7,138.1 311.0,138.2 311.2,138.4 311.5,138.5 311.8,138.6 312.0,138.7 312.3,138.8 312.5,138.9 312.8,139.0 313.1,139.1 313.3,139.3 313.6,139.4 313.9,139.5 314.1,139.6 314.4,139.7 314.7,139.8 314.9,139.9 315.2,140.0 315.4,140.1 315.7,140.2 316.0,140.3 316.2,140.4 316.5,140.5 316.8,140.6 317.0,140.7 317.3,140.8 317.6,140.9 317.8,141.0 318.1,141.1 318.4,141.2 318.6,141.3 318.9,141.4 319.1,141.4 319.4,141.5 319.7,141.6 319.9,141.7 320.2,141.8 320.5,141.9 320.7,142.0 321.0,142.0 321.3,142.1 321.5,142.2 321.8,142.3 322.0,142.4 322.3,142.4 322.6,142.5 322.8,142.6 323.1,142.7 323.4,142.7 323.6,142.8 323.9,142.9 324.2,143.0 324.4,143.0 324.7,143.1 324.9,143.2 325.2,143.2 325.5,143.3 325.7,143.4 326.0,143.5 326.3,143.5 326.5,143.6 326.8,143.7 327.1,143.7 327.3,143.8 327.6,143.9 327.9,143.9 328.1,144.0 328.4,144.0 328.6,144.1 328.9,144.2 329.2,144.2 329.4,144.3 329.7,144.4 330.0,144.4 330.2,144.5 330.5,144.5 330.8,144.6 331.0,144.6 331.3,144.7 331.5,144.8 331.8,144.8 332.1,144.9 332.3,144.9 332.6,145.0 332.9,145.0 333.1,145.1 333.4,145.1 333.7,145.2 333.9,145.3 334.2,145.3 334.4,145.4 334.7,145.4 335.0,145.5 335.2,145.5 335.5,145.6 335.8,145.6 336.0,145.7 336.3,145.7 336.6,145.8 336.8,145.8 337.1,145.8 337.4,145.9 337.6,145.9 337.9,146.0 338.1,146.0 338.4,146.1 338.7,146.1 338.9,146.2 339.2,146.2 339.5,146.2 339.7,146.3 340.0,146.3 340.3,146.4 340.5,146.4 340.8,146.5 341.0,146.5 341.3,146.5 341.6,146.6 341.8,146.6 342.1,146.7 342.4,146.7 342.6,146.7 342.9,146.8 343.2,146.8 343.4,146.9 343.7,146.9 344.0,146.9 344.2,147.0 344.5,147.0 344.7,147.1 345.0,147.1 345.3,147.1 345.5,147.2 345.8,147.2 346.1,147.3 346.3,147.3 346.6,147.3 346.9,147.4 347.1,147.4 347.4,147.4 347.6,147.5 347.9,147.5 348.2,147.5 348.4,147.6 348.7,147.6 349.0,147.6 349.2,147.7 349.5,147.7 349.8,147.7 350.0,147.8 350.3,147.8 350.5,147.8 350.8,147.9 351.1,147.9 351.3,147.9 351.6,147.9 351.9,148.0 352.1,148.0 352.4,148.0 352.7,148.1 352.9,148.1 353.2,148.1 353.5,148.1 353.7,148.2 354.0,148.2 354.2,148.2 354.5,148.2 354.8,148.3 355.0,148.3 355.3,148.3" fill="none" stroke="#f08a50" stroke-width="0.95" stroke-opacity="1.0" stroke-linejoin="round" />
<path d="M225.8,292.2 226.0,292.6 226.3,292.4 226.5,291.9 226.8,291.2 227.0,292.7 227.3,292.7 227.5,291.5 227.8,292.9 228.0,292.0 228.3,293.3 228.5,292.4 228.8,291.9 229.0,292.6 229.3,292.1 229.5,292.0 229.8,292.0 230.0,291.8 230.3,292.1 230.5,292.2 230.8,291.9 231.0,292.5 231.3,291.0 231.5,291.4 231.8,291.9 232.0,291.0 232.3,292.1 232.5,291.7 232.8,291.2 233.0,291.5 233.3,290.9 233.5,290.4 233.8,291.3 234.0,291.2 234.3,290.8 234.5,290.6 234.8,289.5 235.0,289.9 235.3,290.0 235.5,290.1 235.8,290.5 236.0,289.5 236.3,289.2 236.5,289.8 236.8,289.2 237.0,288.5 237.2,289.5 237.5,288.4 237.7,288.3 238.0,287.9 238.2,288.4 238.5,288.5 238.7,287.7 239.0,287.9 239.2,287.3 239.5,288.4 239.7,287.9 240.0,286.7 240.2,287.1 240.5,287.1 240.7,286.6 241.0,285.9 241.2,286.0 241.5,286.1 241.7,285.8 242.0,285.0 242.2,285.3 242.5,284.4 242.7,283.7 243.0,284.5 243.2,284.6 243.5,284.1 243.7,284.3 244.0,284.2 244.2,283.4 244.5,282.7 244.7,282.7 245.0,281.9 245.2,282.3 245.5,282.0 245.7,282.0 246.0,282.2 246.2,280.6 246.5,281.7 246.7,280.9 247.0,281.4 247.2,281.0 247.5,280.3 247.7,281.0 248.0,280.1 248.2,280.5 248.4,279.9 248.7,279.8 248.9,279.9 249.2,280.6 249.4,279.9 249.7,279.5 249.9,280.1 250.2,279.2 250.4,278.9 250.7,278.5 250.9,278.9 251.2,278.8 251.4,278.3 251.7,277.7 251.9,278.4 252.2,278.4 252.4,278.1 252.7,277.8 252.9,277.7 253.2,277.9 253.4,278.7 253.7,278.1 253.9,277.3 254.2,278.3 254.4,277.8 254.7,279.1 254.9,277.9 255.2,278.1 255.4,278.2 255.7,278.3 255.9,278.3 256.2,278.4 256.4,278.3 256.7,278.2 256.9,278.4 257.2,278.2 257.4,278.6 257.7,278.6 257.9,278.8 258.2,278.9 258.4,279.2 258.7,279.6 258.9,279.3 259.2,279.6 259.4,279.8 259.7,279.7 259.9,279.9 260.1,280.2 260.4,279.5 260.6,280.7 260.9,280.4 261.1,279.1 261.4,281.2 261.6,280.7 261.9,281.8 262.1,281.2 262.4,281.8 262.6,282.4 262.9,281.9 263.1,282.0 263.4,282.6 263.6,283.4 263.9,283.4 264.1,283.6 264.4,283.2 264.6,283.2 264.9,283.5 265.1,283.2 265.4,282.6 265.6,283.3 265.9,282.7 266.1,282.5 266.4,282.8 266.6,282.7 266.9,283.0 267.1,282.7 267.4,282.3 267.6,282.4 267.9,282.0 268.1,281.8 268.4,282.2 268.6,281.4 268.9,280.6 269.1,280.0 269.4,279.3 269.6,278.9 269.9,277.7 270.1,278.0 270.4,276.9 270.6,276.5 270.9,275.8 271.1,274.5 271.3,272.9 271.6,271.7 271.8,271.5 272.1,270.3 272.3,268.1 272.6,267.0 272.8,266.6 273.1,264.8 273.3,264.3 273.6,262.2 273.8,260.8 274.1,258.6 274.3,256.6 274.6,254.1 274.8,251.5 275.1,251.2 275.3,249.0 275.6,246.4 275.8,245.1 276.1,242.1 276.3,241.7 276.6,239.6 276.8,238.7 277.1,235.8 277.3,235.7 277.6,234.0 277.8,232.3 278.1,230.4 278.3,229.6 278.6,228.4 278.8,226.8 279.1,225.5 279.3,224.8 279.6,224.4 279.8,224.6 280.1,224.3 280.3,224.3 280.6,223.5 280.8,222.4 281.1,222.5 281.3,222.2 281.6,222.4 281.8,223.0 282.1,222.1 282.3,221.9 282.5,222.2 282.8,222.2 283.0,222.2 283.3,221.2 283.5,221.2 283.8,221.3 284.0,221.8 284.3,221.5 284.5,220.9 284.8,222.2 285.0,221.0 285.3,221.2 285.5,221.1 285.8,220.7 286.0,221.0 286.3,220.9 286.5,220.9 286.8,220.7 287.0,219.9 287.3,219.1 287.5,219.3 287.8,217.8 288.0,217.4 288.3,216.1 288.5,216.0 288.8,213.6 289.0,211.7 289.3,211.1 289.5,210.7 289.8,209.8 290.0,208.5 290.3,206.6 290.5,205.4 290.8,202.6 291.0,201.1 291.3,199.2 291.5,198.3 291.8,197.1 292.0,195.1 292.3,194.1 292.5,192.8 292.8,192.0 293.0,191.4 293.3,191.3 293.5,190.1 293.7,189.5 294.0,189.3 294.2,188.7 294.5,187.9 294.7,189.0 295.0,188.3 295.2,188.5 295.5,188.7 295.7,189.3 296.0,189.2 296.2,189.9 296.5,190.9 296.7,190.3 297.0,190.3 297.2,192.2 297.5,192.4 297.7,193.4 298.0,194.6 298.2,195.4 298.5,197.1 298.7,197.8 299.0,200.2 299.2,202.1 299.5,203.4 299.7,205.5 300.0,207.6 300.2,209.7 300.5,211.4 300.7,213.9 301.0,215.3 301.2,217.0 301.5,217.6 301.7,220.0 302.0,222.1 302.2,223.7 302.5,225.9 302.7,227.4 303.0,229.1 303.2,231.3 303.5,233.1 303.7,234.5 304.0,236.2 304.2,238.1 304.5,239.2 304.7,240.5 304.9,241.6 305.2,242.5 305.4,243.4 305.7,245.4 305.9,245.6 306.2,246.8 306.4,247.1 306.7,247.7 306.9,248.6 307.2,249.9 307.4,250.3 307.7,252.1 307.9,252.4 308.2,253.2 308.4,255.0 308.7,254.9 308.9,255.7 309.2,258.0 309.4,257.9 309.7,258.7 309.9,259.4 310.2,261.2 310.4,262.2 310.7,261.6 310.9,263.9 311.2,265.2 311.4,266.5 311.7,267.0 311.9,268.8 312.2,270.9 312.4,271.9 312.7,272.2 312.9,274.1 313.2,274.8 313.4,276.7 313.7,276.2 313.9,278.9 314.2,279.6 314.4,280.9 314.7,280.7 314.9,281.8 315.2,282.2 315.4,283.6 315.7,284.1 315.9,285.4 316.1,285.5 316.4,284.7 316.6,286.4 316.9,286.8 317.1,287.8 317.4,288.1 317.6,288.0 317.9,288.7 318.1,289.9 318.4,289.5 318.6,290.4 318.9,290.3 319.1,291.8 319.4,292.2 319.6,292.2 319.9,292.1 320.1,292.7 320.4,293.3 320.6,293.6 320.9,294.2 321.1,293.8 321.4,294.3 321.6,294.8 321.9,296.0 322.1,295.4 322.4,296.4 322.6,297.1 322.9,296.4 323.1,296.5 323.4,296.9 323.6,298.2 323.9,298.5 324.1,298.5 324.4,298.5 324.6,299.2 324.9,298.8 325.1,299.9 325.4,300.0 325.6,300.2 325.9,301.0 326.1,300.1 326.4,300.2 326.6,301.1 326.9,301.6 327.1,300.8 327.4,300.9 327.6,301.4 327.8,301.9 328.1,301.4 328.3,302.3 328.6,302.9 328.8,302.0 329.1,302.0 329.3,303.3 329.6,301.8 329.8,303.0 330.1,303.1 330.3,302.1 330.6,303.2 330.8,303.7 331.1,303.0 331.3,302.3 331.6,303.1 331.8,304.5 332.1,303.3 332.3,304.4 332.6,303.6 332.8,304.1 333.1,304.1 333.3,304.6 333.6,305.1 333.8,305.1 334.1,304.9 334.3,305.4 334.6,305.6 334.8,305.7 335.1,305.8 335.3,306.0 335.6,306.6 335.8,307.6 336.1,306.9 336.3,307.2 336.6,306.9 336.8,307.2 337.1,308.4 337.3,307.8 337.6,308.3 337.8,308.7 338.1,308.3 338.3,309.2 338.6,309.3 338.8,309.4 339.0,309.0 339.3,309.6 339.5,308.9 339.8,310.1 340.0,310.3 340.3,310.3 340.5,310.9 340.8,310.3 341.0,310.8 341.3,310.7 341.5,311.6 341.8,311.6 342.0,312.4 342.3,311.8 342.5,312.6 342.8,312.6 343.0,312.9 343.3,313.3 343.5,313.8 343.8,313.9 344.0,312.9 344.3,313.8 344.5,313.3 344.8,314.1 345.0,313.7 345.3,314.6 345.5,314.7 345.8,314.5 346.0,314.2 346.3,314.1 346.5,314.3 346.8,314.9 347.0,315.4 347.3,315.7 347.5,315.9 347.8,315.1 348.0,315.6 348.3,316.1 348.5,316.1 348.8,315.9 349.0,315.5 349.3,316.9 349.5,316.2 349.8,315.6 350.0,316.5" fill="none" stroke="#777" stroke-width="0.6" stroke-opacity="1.0" stroke-linejoin="round" />
<path d="M225.8,292.3 226.0,292.3 226.3,292.3 226.5,292.3 226.8,292.3 227.0,292.3 227.3,292.2 227.5,292.2 227.8,292.2 228.0,292.2 228.3,292.1 228.5,292.1 228.8,292.1 229.0,292.0 229.3,292.0 229.5,292.0 229.8,291.9 230.0,291.9 230.3,291.8 230.5,291.8 230.8,291.7 231.0,291.7 231.3,291.6 231.5,291.6 231.8,291.5 232.0,291.5 232.3,291.4 232.5,291.4 232.8,291.3 233.0,291.2 233.3,291.1 233.5,291.0 233.8,290.9 234.0,290.8 234.3,290.7 234.5,290.6 234.8,290.4 235.0,290.3 235.3,290.2 235.5,290.0 235.8,289.9 236.0,289.7 236.3,289.6 236.5,289.4 236.8,289.2 237.0,289.1 237.2,288.9 237.5,288.7 237.7,288.6 238.0,288.4 238.2,288.2 238.5,288.0 238.7,287.9 239.0,287.7 239.2,287.5 239.5,287.4 239.7,287.2 240.0,287.0 240.2,286.8 240.5,286.6 240.7,286.5 241.0,286.2 241.2,286.0 241.5,285.8 241.7,285.6 242.0,285.4 242.2,285.1 242.5,284.9 242.7,284.7 243.0,284.4 243.2,284.2 243.5,283.9 243.7,283.7 244.0,283.4 244.2,283.2 244.5,283.0 244.7,282.7 245.0,282.5 245.2,282.3 245.5,282.1 245.7,281.9 246.0,281.7 246.2,281.5 246.5,281.3 246.7,281.2 247.0,281.0 247.2,280.9 247.5,280.7 247.7,280.6 248.0,280.5 248.2,280.3 248.4,280.2 248.7,280.0 248.9,279.9 249.2,279.7 249.4,279.6 249.7,279.5 249.9,279.3 250.2,279.2 250.4,279.1 250.7,279.0 250.9,278.8 251.2,278.7 251.4,278.6 251.7,278.5 251.9,278.4 252.2,278.3 252.4,278.3 252.7,278.2 252.9,278.1 253.2,278.1 253.4,278.1 253.7,278.0 253.9,278.0 254.2,278.0 254.4,278.0 254.7,278.0 254.9,278.0 255.2,278.1 255.4,278.1 255.7,278.2 255.9,278.3 256.2,278.3 256.4,278.4 256.7,278.5 256.9,278.6 257.2,278.7 257.4,278.8 257.7,278.9 257.9,279.0 258.2,279.1 258.4,279.2 258.7,279.4 258.9,279.5 259.2,279.6 259.4,279.7 259.7,279.8 259.9,280.0 260.1,280.1 260.4,280.2 260.6,280.4 260.9,280.6 261.1,280.8 261.4,281.0 261.6,281.2 261.9,281.4 262.1,281.7 262.4,281.9 262.6,282.1 262.9,282.3 263.1,282.5 263.4,282.6 263.6,282.8 263.9,282.9 264.1,283.0 264.4,283.0 264.6,283.0 264.9,283.0 265.1,283.0 265.4,282.9 265.6,282.9 265.9,282.9 266.1,282.8 266.4,282.8 266.6,282.7 266.9,282.6 267.1,282.6 267.4,282.5 267.6,282.4 267.9,282.2 268.1,282.0 268.4,281.6 268.6,281.2 268.9,280.7 269.1,280.2 269.4,279.6 269.6,279.0 269.9,278.4 270.1,277.7 270.4,277.0 270.6,276.2 270.9,275.3 271.1,274.4 271.3,273.4 271.6,272.3 271.8,271.1 272.1,270.0 272.3,268.7 272.6,267.4 272.8,266.1 273.1,264.8 273.3,263.4 273.6,262.0 273.8,260.4 274.1,258.6 274.3,256.8 274.6,254.8 274.8,252.8 275.1,250.7 275.3,248.6 275.6,246.6 275.8,244.6 276.1,242.8 276.3,241.0 276.6,239.4 276.8,238.0 277.1,236.5 277.3,235.1 277.6,233.6 277.8,232.2 278.1,230.8 278.3,229.5 278.6,228.2 278.8,227.1 279.1,226.1 279.3,225.3 279.6,224.6 279.8,224.1 280.1,223.8 280.3,223.5 280.6,223.3 280.8,223.1 281.1,222.9 281.3,222.7 281.6,222.5 281.8,222.4 282.1,222.2 282.3,222.1 282.5,222.0 282.8,221.9 283.0,221.8 283.3,221.7 283.5,221.6 283.8,221.5 284.0,221.5 284.3,221.4 284.5,221.4 284.8,221.3 285.0,221.3 285.3,221.2 285.5,221.2 285.8,221.1 286.0,221.0 286.3,220.9 286.5,220.8 286.8,220.5 287.0,220.1 287.3,219.5 287.5,218.8 287.8,217.9 288.0,216.9 288.3,215.9 288.5,214.8 288.8,213.6 289.0,212.5 289.3,211.3 289.5,210.1 289.8,209.0 290.0,207.7 290.3,206.3 290.5,204.7 290.8,203.0 291.0,201.3 291.3,199.6 291.5,198.0 291.8,196.5 292.0,195.1 292.3,193.9 292.5,193.0 292.8,192.2 293.0,191.4 293.3,190.6 293.5,189.9 293.7,189.3 294.0,188.8 294.2,188.4 294.5,188.2 294.7,188.2 295.0,188.3 295.2,188.5 295.5,188.7 295.7,189.0 296.0,189.3 296.2,189.7 296.5,190.1 296.7,190.6 297.0,191.1 297.2,191.6 297.5,192.2 297.7,193.1 298.0,194.2 298.2,195.5 298.5,197.0 298.7,198.5 299.0,200.2 299.2,202.0 299.5,203.9 299.7,205.8 300.0,207.7 300.2,209.6 300.5,211.5 300.7,213.3 301.0,215.0 301.2,216.7 301.5,218.4 301.7,220.2 302.0,222.0 302.2,223.9 302.5,225.8 302.7,227.6 303.0,229.5 303.2,231.3 303.5,233.0 303.7,234.7 304.0,236.2 304.2,237.7 304.5,239.0 304.7,240.2 304.9,241.3 305.2,242.4 305.4,243.5 305.7,244.5 305.9,245.5 306.2,246.5 306.4,247.4 306.7,248.3 306.9,249.2 307.2,250.0 307.4,250.9 307.7,251.7 307.9,252.5 308.2,253.4 308.4,254.2 308.7,255.1 308.9,255.9 309.2,256.8 309.4,257.7 309.7,258.6 309.9,259.6 310.2,260.6 310.4,261.6 310.7,262.7 310.9,263.8 311.2,265.0 311.4,266.3 311.7,267.5 311.9,268.8 312.2,270.1 312.4,271.4 312.7,272.7 312.9,273.9 313.2,275.1 313.4,276.3 313.7,277.4 313.9,278.5 314.2,279.5 314.4,280.4 314.7,281.2 314.9,281.9 315.2,282.6 315.4,283.3 315.7,283.9 315.9,284.5 316.1,285.1 316.4,285.7 316.6,286.2 316.9,286.7 317.1,287.3 317.4,287.8 317.6,288.3 317.9,288.8 318.1,289.3 318.4,289.8 318.6,290.3 318.9,290.8 319.1,291.2 319.4,291.7 319.6,292.1 319.9,292.5 320.1,292.9 320.4,293.3 320.6,293.7 320.9,294.1 321.1,294.5 321.4,294.8 321.6,295.2 321.9,295.6 322.1,295.9 322.4,296.3 322.6,296.7 322.9,297.0 323.1,297.4 323.4,297.7 323.6,298.0 323.9,298.3 324.1,298.6 324.4,298.9 324.6,299.2 324.9,299.5 325.1,299.7 325.4,300.0 325.6,300.2 325.9,300.4 326.1,300.6 326.4,300.8 326.6,300.9 326.9,301.1 327.1,301.2 327.4,301.4 327.6,301.5 327.8,301.6 328.1,301.8 328.3,301.9 328.6,302.0 328.8,302.1 329.1,302.2 329.3,302.3 329.6,302.4 329.8,302.6 330.1,302.7 330.3,302.8 330.6,302.9 330.8,303.1 331.1,303.2 331.3,303.3 331.6,303.5 331.8,303.6 332.1,303.8 332.3,304.0 332.6,304.2 332.8,304.3 333.1,304.5 333.3,304.7 333.6,304.9 333.8,305.1 334.1,305.3 334.3,305.5 334.6,305.7 334.8,305.9 335.1,306.1 335.3,306.3 335.6,306.5 335.8,306.7 336.1,306.9 336.3,307.1 336.6,307.3 336.8,307.5 337.1,307.7 337.3,307.9 337.6,308.1 337.8,308.3 338.1,308.5 338.3,308.7 338.6,309.0 338.8,309.2 339.0,309.4 339.3,309.6 339.5,309.8 339.8,310.0 340.0,310.3 340.3,310.5 340.5,310.7 340.8,310.9 341.0,311.2 341.3,311.4 341.5,311.6 341.8,311.8 342.0,312.0 342.3,312.2 342.5,312.4 342.8,312.6 343.0,312.8 343.3,313.0 343.5,313.2 343.8,313.4 344.0,313.5 344.3,313.7 344.5,313.8 344.8,314.0 345.0,314.1 345.3,314.3 345.5,314.4 345.8,314.6 346.0,314.7 346.3,314.8 346.5,315.0 346.8,315.1 347.0,315.2 347.3,315.3 347.5,315.5 347.8,315.6 348.0,315.7 348.3,315.8 348.5,315.9 348.8,316.0 349.0,316.1 349.3,316.2 349.5,316.3 349.8,316.4 350.0,316.5" fill="none" stroke="#e86262" stroke-width="1.0" stroke-opacity="1" stroke-linejoin="round" />
<path d="M225.8,292.3 226.0,292.3 226.3,292.4 226.5,292.4 226.8,292.4 227.0,292.5 227.3,292.5 227.5,292.5 227.8,292.6 228.0,292.6 228.3,292.6 228.5,292.6 228.8,292.7 229.0,292.7 229.3,292.7 229.5,292.8 229.8,292.8 230.0,292.8 230.3,292.9 230.5,292.9 230.8,292.9 231.0,293.0 231.3,293.0 231.5,293.0 231.8,293.1 232.0,293.1 232.3,293.1 232.5,293.2 232.8,293.2 233.0,293.2 233.3,293.3 233.5,293.3 233.8,293.3 234.0,293.4 234.3,293.4 234.5,293.4 234.8,293.4 235.0,293.5 235.3,293.5 235.5,293.5 235.8,293.6 236.0,293.6 236.3,293.6 236.5,293.7 236.8,293.7 237.0,293.7 237.2,293.8 237.5,293.8 237.7,293.8 238.0,293.9 238.2,293.9 238.5,293.9 238.7,294.0 239.0,294.0 239.2,294.0 239.5,294.1 239.7,294.1 240.0,294.1 240.2,294.2 240.5,294.2 240.7,294.2 241.0,294.3 241.2,294.3 241.5,294.3 241.7,294.4 242.0,294.4 242.2,294.4 242.5,294.5 242.7,294.5 243.0,294.5 243.2,294.6 243.5,294.6 243.7,294.6 244.0,294.7 244.2,294.7 244.5,294.7 244.7,294.8 245.0,294.8 245.2,294.8 245.5,294.9 245.7,294.9 246.0,294.9 246.2,295.0 246.5,295.0 246.7,295.0 247.0,295.1 247.2,295.1 247.5,295.1 247.7,295.2 248.0,295.2 248.2,295.3 248.4,295.3 248.7,295.3 248.9,295.4 249.2,295.4 249.4,295.4 249.7,295.5 249.9,295.5 250.2,295.5 250.4,295.6 250.7,295.6 250.9,295.6 251.2,295.7 251.4,295.7 251.7,295.7 251.9,295.8 252.2,295.8 252.4,295.8 252.7,295.9 252.9,295.9 253.2,295.9 253.4,296.0 253.7,296.0 253.9,296.0 254.2,296.1 254.4,296.1 254.7,296.1 254.9,296.2 255.2,296.2 255.4,296.2 255.7,296.3 255.9,296.3 256.2,296.3 256.4,296.4 256.7,296.4 256.9,296.4 257.2,296.5 257.4,296.5 257.7,296.5 257.9,296.6 258.2,296.6 258.4,296.6 258.7,296.7 258.9,296.7 259.2,296.7 259.4,296.8 259.7,296.8 259.9,296.8 260.1,296.9 260.4,296.9 260.6,296.9 260.9,297.0 261.1,297.0 261.4,297.0 261.6,297.1 261.9,297.1 262.1,297.1 262.4,297.2 262.6,297.2 262.9,297.2 263.1,297.3 263.4,297.3 263.6,297.3 263.9,297.4 264.1,297.4 264.4,297.4 264.6,297.5 264.9,297.5 265.1,297.5 265.4,297.6 265.6,297.6 265.9,297.7 266.1,297.7 266.4,297.7 266.6,297.8 266.9,297.8 267.1,297.8 267.4,297.9 267.6,297.9 267.9,297.9 268.1,298.0 268.4,298.0 268.6,298.1 268.9,298.1 269.1,298.1 269.4,298.2 269.6,298.2 269.9,298.3 270.1,298.3 270.4,298.3 270.6,298.4 270.9,298.4 271.1,298.5 271.3,298.5 271.6,298.5 271.8,298.6 272.1,298.6 272.3,298.7 272.6,298.7 272.8,298.7 273.1,298.8 273.3,298.8 273.6,298.9 273.8,298.9 274.1,299.0 274.3,299.0 274.6,299.1 274.8,299.1 275.1,299.1 275.3,299.2 275.6,299.2 275.8,299.3 276.1,299.3 276.3,299.4 276.6,299.4 276.8,299.5 277.1,299.5 277.3,299.6 277.6,299.6 277.8,299.7 278.1,299.7 278.3,299.8 278.6,299.8 278.8,299.9 279.1,299.9 279.3,300.0 279.6,300.0 279.8,300.1 280.1,300.1 280.3,300.2 280.6,300.2 280.8,300.3 281.1,300.3 281.3,300.4 281.6,300.4 281.8,300.5 282.1,300.5 282.3,300.6 282.5,300.6 282.8,300.7 283.0,300.7 283.3,300.8 283.5,300.9 283.8,300.9 284.0,301.0 284.3,301.0 284.5,301.1 284.8,301.1 285.0,301.2 285.3,301.3 285.5,301.3 285.8,301.4 286.0,301.4 286.3,301.5 286.5,301.6 286.8,301.6 287.0,301.7 287.3,301.8 287.5,301.8 287.8,301.9 288.0,302.0 288.3,302.0 288.5,302.1 288.8,302.2 289.0,302.2 289.3,302.3 289.5,302.4 289.8,302.4 290.0,302.5 290.3,302.6 290.5,302.6 290.8,302.7 291.0,302.8 291.3,302.9 291.5,302.9 291.8,303.0 292.0,303.1 292.3,303.1 292.5,303.2 292.8,303.3 293.0,303.4 293.3,303.5 293.5,303.5 293.7,303.6 294.0,303.7 294.2,303.8 294.5,303.9 294.7,304.0 295.0,304.1 295.2,304.2 295.5,304.2 295.7,304.3 296.0,304.5 296.2,304.6 296.5,304.7 296.7,304.8 297.0,304.9 297.2,305.0 297.5,305.1 297.7,305.2 298.0,305.3 298.2,305.4 298.5,305.5 298.7,305.7 299.0,305.8 299.2,305.9 299.5,306.0 299.7,306.1 300.0,306.2 300.2,306.4 300.5,306.5 300.7,306.6 301.0,306.7 301.2,306.8 301.5,306.9 301.7,307.1 302.0,307.2 302.2,307.3 302.5,307.4 302.7,307.5 303.0,307.6 303.2,307.7 303.5,307.8 303.7,307.9 304.0,308.0 304.2,308.1 304.5,308.2 304.7,308.3 304.9,308.4 305.2,308.5 305.4,308.6 305.7,308.7 305.9,308.8 306.2,308.9 306.4,309.0 306.7,309.1 306.9,309.2 307.2,309.3 307.4,309.4 307.7,309.5 307.9,309.6 308.2,309.7 308.4,309.8 308.7,309.9 308.9,310.0 309.2,310.1 309.4,310.2 309.7,310.3 309.9,310.4 310.2,310.5 310.4,310.6 310.7,310.6 310.9,310.7 311.2,310.8 311.4,310.9 311.7,311.0 311.9,311.1 312.2,311.2 312.4,311.3 312.7,311.4 312.9,311.4 313.2,311.5 313.4,311.6 313.7,311.7 313.9,311.8 314.2,311.9 314.4,311.9 314.7,312.0 314.9,312.1 315.2,312.2 315.4,312.2 315.7,312.3 315.9,312.4 316.1,312.5 316.4,312.5 316.6,312.6 316.9,312.7 317.1,312.7 317.4,312.8 317.6,312.8 317.9,312.9 318.1,313.0 318.4,313.0 318.6,313.1 318.9,313.2 319.1,313.2 319.4,313.3 319.6,313.3 319.9,313.4 320.1,313.5 320.4,313.5 320.6,313.6 320.9,313.6 321.1,313.7 321.4,313.8 321.6,313.8 321.9,313.9 322.1,313.9 322.4,314.0 322.6,314.0 322.9,314.1 323.1,314.1 323.4,314.2 323.6,314.2 323.9,314.3 324.1,314.3 324.4,314.4 324.6,314.4 324.9,314.5 325.1,314.5 325.4,314.6 325.6,314.6 325.9,314.7 326.1,314.7 326.4,314.8 326.6,314.8 326.9,314.8 327.1,314.9 327.4,314.9 327.6,314.9 327.8,315.0 328.1,315.0 328.3,315.0 328.6,315.1 328.8,315.1 329.1,315.1 329.3,315.1 329.6,315.2 329.8,315.2 330.1,315.2 330.3,315.3 330.6,315.3 330.8,315.3 331.1,315.3 331.3,315.3 331.6,315.4 331.8,315.4 332.1,315.4 332.3,315.4 332.6,315.5 332.8,315.5 333.1,315.5 333.3,315.5 333.6,315.5 333.8,315.6 334.1,315.6 334.3,315.6 334.6,315.6 334.8,315.6 335.1,315.6 335.3,315.7 335.6,315.7 335.8,315.7 336.1,315.7 336.3,315.7 336.6,315.8 336.8,315.8 337.1,315.8 337.3,315.8 337.6,315.8 337.8,315.8 338.1,315.8 338.3,315.9 338.6,315.9 338.8,315.9 339.0,315.9 339.3,315.9 339.5,315.9 339.8,316.0 340.0,316.0 340.3,316.0 340.5,316.0 340.8,316.0 341.0,316.0 341.3,316.1 341.5,316.1 341.8,316.1 342.0,316.1 342.3,316.1 342.5,316.1 342.8,316.1 343.0,316.2 343.3,316.2 343.5,316.2 343.8,316.2 344.0,316.2 344.3,316.2 344.5,316.3 344.8,316.3 345.0,316.3 345.3,316.3 345.5,316.3 345.8,316.3 346.0,316.4 346.3,316.4 346.5,316.4 346.8,316.4 347.0,316.4 347.3,316.4 347.5,316.5 347.8,316.5 348.0,316.5 348.3,316.5 348.5,316.5 348.8,316.5 349.0,316.5 349.3,316.6 349.5,316.6 349.8,316.6 350.0,316.6" fill="none" stroke="#5060d0" stroke-width="0.85" stroke-opacity="1.0" stroke-linejoin="round" />
<path d="M266.4,296.9 266.6,296.8 266.9,296.7 267.1,296.6 267.4,296.4 267.6,296.2 267.9,296.0 268.1,295.8 268.4,295.5 268.6,295.2 268.9,294.8 269.1,294.4 269.4,294.0 269.6,293.5 269.9,293.0 270.1,292.4 270.4,291.7 270.6,291.0 270.9,290.2 271.1,289.4 271.3,288.5 271.6,287.5 271.8,286.4 272.1,285.3 272.3,284.1 272.6,282.8 272.8,281.4 273.1,280.0 273.3,278.5 273.6,276.9 273.8,275.2 274.1,273.5 274.3,271.7 274.6,269.9 274.8,268.0 275.1,266.0 275.3,264.1 275.6,262.1 275.8,260.1 276.1,258.0 276.3,256.0 276.6,254.0 276.8,252.1 277.1,250.1 277.3,248.2 277.6,246.4 277.8,244.7 278.1,243.0 278.3,241.4 278.6,240.0 278.8,238.7 279.1,237.4 279.3,236.4 279.6,235.5 279.8,234.7 280.1,234.1 280.3,233.6 280.6,233.4 280.8,233.3 281.1,233.3 281.3,233.6 281.6,234.0 281.8,234.6 282.1,235.3 282.3,236.3 282.5,237.3 282.8,238.5 283.0,239.9 283.3,241.3 283.5,242.9 283.8,244.6 284.0,246.4 284.3,248.3 284.5,250.2 284.8,252.2 285.0,254.3 285.3,256.4 285.5,258.5 285.8,260.6 286.0,262.7 286.3,264.9 286.5,267.0 286.8,269.0 287.0,271.1 287.3,273.0 287.5,275.0 287.8,276.9 288.0,278.7 288.3,280.4 288.5,282.1 288.8,283.7 289.0,285.2 289.3,286.7 289.5,288.1 289.8,289.4 290.0,290.6 290.3,291.8 290.5,292.9 290.8,293.9 291.0,294.8 291.3,295.7 291.5,296.5 291.8,297.2 292.0,297.9 292.3,298.6 292.5,299.2 292.8,299.7 293.0,300.2 293.3,300.7 293.5,301.1 293.7,301.5 294.0,301.8 294.2,302.1 294.5,302.4 294.7,302.7 295.0,303.0 295.2,303.2 295.5,303.5" fill="none" stroke="#8cc8ee" stroke-width="0.95" stroke-opacity="1.0" stroke-linejoin="round" />
<path d="M280.1,299.3 280.3,299.2 280.6,299.1 280.8,299.0 281.1,298.9 281.3,298.7 281.6,298.5 281.8,298.3 282.1,298.0 282.3,297.7 282.5,297.4 282.8,297.0 283.0,296.6 283.3,296.1 283.5,295.6 283.8,295.0 284.0,294.3 284.3,293.6 284.5,292.8 284.8,291.9 285.0,291.0 285.3,290.0 285.5,288.9 285.8,287.7 286.0,286.4 286.3,285.0 286.5,283.5 286.8,282.0 287.0,280.3 287.3,278.6 287.5,276.7 287.8,274.8 288.0,272.8 288.3,270.7 288.5,268.6 288.8,266.3 289.0,264.1 289.3,261.7 289.5,259.3 289.8,256.9 290.0,254.4 290.3,252.0 290.5,249.5 290.8,247.1 291.0,244.6 291.3,242.2 291.5,239.9 291.8,237.6 292.0,235.5 292.3,233.4 292.5,231.4 292.8,229.5 293.0,227.8 293.3,226.2 293.5,224.8 293.7,223.6 294.0,222.5 294.2,221.6 294.5,221.0 294.7,220.5 295.0,220.2 295.2,220.2 295.5,220.3 295.7,220.7 296.0,221.2 296.2,222.0 296.5,223.0 296.7,224.2 297.0,225.5 297.2,227.0 297.5,228.7 297.7,230.6 298.0,232.6 298.2,234.7 298.5,236.9 298.7,239.2 299.0,241.7 299.2,244.2 299.5,246.7 299.7,249.3 300.0,252.0 300.2,254.6 300.5,257.3 300.7,259.9 301.0,262.5 301.2,265.1 301.5,267.7 301.7,270.2 302.0,272.6 302.2,275.0 302.5,277.3 302.7,279.5 303.0,281.6 303.2,283.7 303.5,285.6 303.7,287.5 304.0,289.2 304.2,290.9 304.5,292.5 304.7,294.0 304.9,295.4 305.2,296.7 305.4,297.9 305.7,299.0 305.9,300.1 306.2,301.1 306.4,302.0 306.7,302.8 306.9,303.6 307.2,304.3 307.4,305.0 307.7,305.6 307.9,306.1 308.2,306.7 308.4,307.1 308.7,307.5 308.9,307.9 309.2,308.3 309.4,308.6 309.7,308.9 309.9,309.2 310.2,309.5 310.4,309.7" fill="none" stroke="#8cc8ee" stroke-width="0.95" stroke-opacity="1.0" stroke-linejoin="round" />
<path d="M278.3,298.8 278.6,298.8 278.8,298.7 279.1,298.6 279.3,298.5 279.6,298.5 279.8,298.4 280.1,298.2 280.3,298.1 280.6,298.0 280.8,297.8 281.1,297.7 281.3,297.5 281.6,297.3 281.8,297.1 282.1,296.9 282.3,296.6 282.5,296.4 282.8,296.1 283.0,295.9 283.3,295.6 283.5,295.2 283.8,294.9 284.0,294.6 284.3,294.2 284.5,293.9 284.8,293.5 285.0,293.1 285.3,292.7 285.5,292.3 285.8,291.8 286.0,291.4 286.3,291.0 286.5,290.5 286.8,290.1 287.0,289.6 287.3,289.2 287.5,288.7 287.8,288.3 288.0,287.8 288.3,287.4 288.5,287.0 288.8,286.5 289.0,286.1 289.3,285.7 289.5,285.4 289.8,285.0 290.0,284.7 290.3,284.4 290.5,284.1 290.8,283.8 291.0,283.6 291.3,283.4 291.5,283.2 291.8,283.1 292.0,283.0 292.3,282.9 292.5,282.9 292.8,282.9 293.0,282.9 293.3,283.0 293.5,283.1 293.7,283.2 294.0,283.4 294.2,283.6 294.5,283.8 294.7,284.1 295.0,284.5 295.2,284.8 295.5,285.2 295.7,285.6 296.0,286.1 296.2,286.5 296.5,287.0 296.7,287.5 297.0,288.1 297.2,288.6 297.5,289.2 297.7,289.8 298.0,290.4 298.2,291.0 298.5,291.6 298.7,292.3 299.0,292.9 299.2,293.5 299.5,294.1 299.7,294.8 300.0,295.4 300.2,296.0 300.5,296.6 300.7,297.2 301.0,297.8 301.2,298.4 301.5,299.0 301.7,299.6 302.0,300.1 302.2,300.6 302.5,301.2 302.7,301.7 303.0,302.1 303.2,302.6 303.5,303.1 303.7,303.5 304.0,303.9 304.2,304.3 304.5,304.7 304.7,305.1 304.9,305.4 305.2,305.7 305.4,306.1 305.7,306.4 305.9,306.7 306.2,306.9 306.4,307.2 306.7,307.5 306.9,307.7 307.2,307.9 307.4,308.2 307.7,308.4 307.9,308.6 308.2,308.8" fill="none" stroke="#b07de0" stroke-width="0.95" stroke-opacity="1.0" stroke-linejoin="round" />
<path d="M290.8,301.8 291.0,301.8 291.3,301.7 291.5,301.7 291.8,301.7 292.0,301.6 292.3,301.6 292.5,301.5 292.8,301.4 293.0,301.4 293.3,301.3 293.5,301.2 293.7,301.1 294.0,300.9 294.2,300.8 294.5,300.7 294.7,300.5 295.0,300.4 295.2,300.2 295.5,300.0 295.7,299.8 296.0,299.6 296.2,299.4 296.5,299.2 296.7,299.0 297.0,298.7 297.2,298.4 297.5,298.2 297.7,297.9 298.0,297.6 298.2,297.3 298.5,296.9 298.7,296.6 299.0,296.3 299.2,295.9 299.5,295.5 299.7,295.1 300.0,294.8 300.2,294.4 300.5,294.0 300.7,293.5 301.0,293.1 301.2,292.7 301.5,292.3 301.7,291.9 302.0,291.4 302.2,291.0 302.5,290.6 302.7,290.2 303.0,289.7 303.2,289.3 303.5,288.9 303.7,288.5 304.0,288.2 304.2,287.8 304.5,287.4 304.7,287.1 304.9,286.8 305.2,286.5 305.4,286.2 305.7,285.9 305.9,285.7 306.2,285.5 306.4,285.3 306.7,285.1 306.9,285.0 307.2,284.9 307.4,284.8 307.7,284.8 307.9,284.7 308.2,284.8 308.4,284.8 308.7,284.9 308.9,285.0 309.2,285.1 309.4,285.3 309.7,285.5 309.9,285.7 310.2,286.0 310.4,286.3 310.7,286.6 310.9,287.0 311.2,287.3 311.4,287.7 311.7,288.2 311.9,288.6 312.2,289.1 312.4,289.6 312.7,290.1 312.9,290.6 313.2,291.1 313.4,291.7 313.7,292.3 313.9,292.8 314.2,293.4 314.4,294.0 314.7,294.6 314.9,295.2 315.2,295.8 315.4,296.4 315.7,297.0 315.9,297.7 316.1,298.3 316.4,298.9 316.6,299.5 316.9,300.1 317.1,300.6 317.4,301.2 317.6,301.8 317.9,302.4 318.1,302.9 318.4,303.4 318.6,304.0 318.9,304.5 319.1,305.0 319.4,305.5 319.6,306.0 319.9,306.4 320.1,306.9 320.4,307.3 320.6,307.7 320.9,308.1 321.1,308.5 321.4,308.9 321.6,309.3 321.9,309.6 322.1,310.0 322.4,310.3 322.6,310.6 322.9,310.9 323.1,311.1 323.4,311.4 323.6,311.7 323.9,311.9 324.1,312.1 324.4,312.4 324.6,312.6 324.9,312.8 325.1,312.9 325.4,313.1 325.6,313.3 325.9,313.4 326.1,313.6 326.4,313.7 326.6,313.8" fill="none" stroke="#b07de0" stroke-width="0.95" stroke-opacity="1.0" stroke-linejoin="round" />
<path d="M314.2,310.9 314.4,310.9 314.7,310.9 314.9,310.8 315.2,310.8 315.4,310.8 315.7,310.7 315.9,310.7 316.1,310.6 316.4,310.5 316.6,310.4 316.9,310.3 317.1,310.2 317.4,310.1 317.6,310.0 317.9,309.9 318.1,309.8 318.4,309.6 318.6,309.5 318.9,309.4 319.1,309.2 319.4,309.0 319.6,308.9 319.9,308.7 320.1,308.5 320.4,308.4 320.6,308.2 320.9,308.0 321.1,307.8 321.4,307.6 321.6,307.5 321.9,307.3 322.1,307.1 322.4,306.9 322.6,306.8 322.9,306.6 323.1,306.4 323.4,306.3 323.6,306.1 323.9,306.0 324.1,305.9 324.4,305.8 324.6,305.7 324.9,305.6 325.1,305.5 325.4,305.4 325.6,305.4 325.9,305.3 326.1,305.3 326.4,305.3 326.6,305.3 326.9,305.3 327.1,305.4 327.4,305.4 327.6,305.5 327.8,305.6 328.1,305.7 328.3,305.8 328.6,305.9 328.8,306.0 329.1,306.2 329.3,306.3 329.6,306.5 329.8,306.7 330.1,306.9 330.3,307.1 330.6,307.3 330.8,307.6 331.1,307.8 331.3,308.0 331.6,308.3 331.8,308.5 332.1,308.8 332.3,309.0 332.6,309.3 332.8,309.5 333.1,309.8 333.3,310.1 333.6,310.3 333.8,310.6 334.1,310.8 334.3,311.1 334.6,311.3 334.8,311.6 335.1,311.8 335.3,312.0 335.6,312.3 335.8,312.5 336.1,312.7 336.3,312.9 336.6,313.1 336.8,313.3 337.1,313.5 337.3,313.6 337.6,313.8 337.8,314.0 338.1,314.1 338.3,314.3 338.6,314.4 338.8,314.5 339.0,314.6 339.3,314.8 339.5,314.9 339.8,315.0" fill="none" stroke="#a0a0a0" stroke-width="0.95" stroke-opacity="1.0" stroke-linejoin="round" />
<path d="M230.3,291.8 230.5,291.8 230.8,291.7 231.0,291.7 231.3,291.6 231.5,291.6 231.8,291.5 232.0,291.5 232.3,291.4 232.5,291.4 232.8,291.3 233.0,291.2 233.3,291.1 233.5,291.0 233.8,290.9 234.0,290.8 234.3,290.7 234.5,290.6 234.8,290.4 235.0,290.3 235.3,290.2 235.5,290.0 235.8,289.9 236.0,289.7 236.3,289.6 236.5,289.4 236.8,289.2 237.0,289.1 237.2,288.9 237.5,288.7 237.7,288.6 238.0,288.4 238.2,288.2 238.5,288.0 238.7,287.9 239.0,287.7 239.2,287.5 239.5,287.4 239.7,287.2 240.0,287.0 240.2,286.8 240.5,286.6 240.7,286.5 241.0,286.2 241.2,286.0 241.5,285.8 241.7,285.6 242.0,285.4 242.2,285.1 242.5,284.9 242.7,284.7 243.0,284.4 243.2,284.2 243.5,283.9 243.7,283.7 244.0,283.4 244.2,283.2 244.5,283.0 244.7,282.7 245.0,282.5 245.2,282.3 245.5,282.1 245.7,281.9 246.0,281.7 246.2,281.5 246.5,281.3 246.7,281.2 247.0,281.0 247.2,280.9 247.5,280.7 247.7,280.6 248.0,280.5 248.2,280.3 248.4,280.2 248.7,280.0 248.9,279.9 249.2,279.7 249.4,279.6 249.7,279.5 249.9,279.3 250.2,279.2 250.4,279.1 250.7,279.0 250.9,278.8 251.2,278.7 251.4,278.6 251.7,278.5 251.9,278.4 252.2,278.3 252.4,278.3 252.7,278.2 252.9,278.1 253.2,278.1 253.4,278.1 253.7,278.0 253.9,278.0 254.2,278.0 254.4,280.1 254.7,280.2 254.9,280.2 255.2,280.3 255.4,280.4 255.7,280.5 255.9,280.6 256.2,280.8 256.4,280.9 256.7,281.1 256.9,281.2 257.2,281.4 257.4,281.6 257.7,281.8 257.9,282.0 258.2,282.2 258.4,282.5 258.7,282.7 258.9,283.0 259.2,283.2 259.4,283.5 259.7,283.8 259.9,284.0 260.1,284.3 260.4,284.6 260.6,284.9 260.9,285.2 261.1,285.5 261.4,285.8 261.6,286.2 261.9,286.5 262.1,286.8 262.4,287.1 262.6,287.4 262.9,287.7 263.1,288.1 263.4,288.4 263.6,288.7 263.9,289.0 264.1,289.3 264.4,289.6 264.6,289.9 264.9,290.2 265.1,290.5 265.4,290.8 265.6,291.1 265.9,291.4 266.1,291.7 266.4,292.0 266.6,292.3 266.9,292.5 267.1,292.8 267.4,293.1 267.6,293.3 267.9,293.6 268.1,293.8 268.4,294.0 268.6,294.3 268.9,294.5 269.1,294.7 269.4,294.9 269.6,295.1 269.9,295.3 270.1,295.5 270.4,295.7 270.6,295.9 270.9,296.1 271.1,296.2 271.3,296.4 271.6,296.6 271.8,296.7 272.1,296.9 272.3,297.0 272.6,297.2 272.8,297.3 273.1,297.4 273.3,297.6 273.6,297.7 273.8,297.8 274.1,297.9 274.3,298.0 274.6,298.1 274.8,298.3 275.1,298.4 275.3,298.5 275.6,298.6 275.8,298.7 276.1,298.7 276.3,298.8 276.6,298.9 276.8,299.0 277.1,299.1 277.3,299.2 277.6,299.2 277.8,299.3 278.1,299.4 278.3,299.5 278.6,299.5 278.8,299.6 279.1,299.7 279.3,299.7 279.6,299.8 279.8,299.9 280.1,299.9 280.3,300.0 280.6,300.1 280.8,300.1 281.1,300.2 281.3,300.3 281.6,300.3 281.8,300.4 282.1,300.5 282.3,300.5 282.5,300.6 282.8,300.6 283.0,300.7 283.3,300.8 283.5,300.8 283.8,300.9 284.0,300.9 284.3,301.0 284.5,301.1 284.8,301.1 285.0,301.2 285.3,301.2 285.5,301.3 285.8,301.4 286.0,301.4 286.3,301.5 286.5,301.6 286.8,301.6 287.0,301.7 287.3,301.8 287.5,301.8 287.8,301.9 288.0,302.0 288.3,302.0 288.5,302.1 288.8,302.2 289.0,302.2 289.3,302.3 289.5,302.4 289.8,302.4 290.0,302.5 290.3,302.6 290.5,302.6 290.8,302.7 291.0,302.8 291.3,302.9 291.5,302.9 291.8,303.0 292.0,303.1 292.3,303.1 292.5,303.2 292.8,303.3 293.0,303.4 293.3,303.5 293.5,303.5 293.7,303.6 294.0,303.7 294.2,303.8 294.5,303.9 294.7,304.0 295.0,304.1 295.2,304.2 295.5,304.2 295.7,304.3 296.0,304.5 296.2,304.6 296.5,304.7 296.7,304.8 297.0,304.9 297.2,305.0 297.5,305.1 297.7,305.2 298.0,305.3 298.2,305.4 298.5,305.5 298.7,305.7 299.0,305.8 299.2,305.9 299.5,306.0 299.7,306.1 300.0,306.2 300.2,306.4 300.5,306.5 300.7,306.6 301.0,306.7 301.2,306.8 301.5,306.9 301.7,307.1 302.0,307.2 302.2,307.3 302.5,307.4 302.7,307.5 303.0,307.6 303.2,307.7 303.5,307.8 303.7,307.9 304.0,308.0 304.2,308.1 304.5,308.2 304.7,308.3 304.9,308.4 305.2,308.5 305.4,308.6 305.7,308.7 305.9,308.8 306.2,308.9 306.4,309.0 306.7,309.1 306.9,309.2 307.2,309.3 307.4,309.4 307.7,309.5 307.9,309.6 308.2,309.7 308.4,309.8 308.7,309.9 308.9,310.0 309.2,310.1 309.4,310.2 309.7,310.3 309.9,310.4 310.2,310.5 310.4,310.6 310.7,310.6 310.9,310.7 311.2,310.8 311.4,310.9 311.7,311.0 311.9,311.1 312.2,311.2 312.4,311.3 312.7,311.4 312.9,311.4 313.2,311.5 313.4,311.6 313.7,311.7 313.9,311.8 314.2,311.9 314.4,311.9 314.7,312.0 314.9,312.1 315.2,312.2 315.4,312.2 315.7,312.3 315.9,312.4 316.1,312.5 316.4,312.5 316.6,312.6 316.9,312.7 317.1,312.7 317.4,312.8 317.6,312.8 317.9,312.9 318.1,313.0 318.4,313.0 318.6,313.1 318.9,313.2 319.1,313.2 319.4,313.3 319.6,313.3 319.9,313.4 320.1,313.5 320.4,313.5 320.6,313.6 320.9,313.6 321.1,313.7 321.4,313.8 321.6,313.8 321.9,313.9 322.1,313.9 322.4,314.0 322.6,314.0 322.9,314.1 323.1,314.1 323.4,314.2 323.6,314.2 323.9,314.3 324.1,314.3 324.4,314.4 324.6,314.4 324.9,314.5 325.1,314.5 325.4,314.6 325.6,314.6 325.9,314.7 326.1,314.7 326.4,314.8 326.6,314.8 326.9,314.8 327.1,314.9 327.4,314.9 327.6,314.9 327.8,315.0 328.1,315.0 328.3,315.0 328.6,315.1 328.8,315.1 329.1,315.1 329.3,315.1 329.6,315.2 329.8,315.2 330.1,315.2 330.3,315.3 330.6,315.3 330.8,315.3 331.1,315.3 331.3,315.3 331.6,315.4 331.8,315.4 332.1,315.4 332.3,315.4 332.6,315.5 332.8,315.5 333.1,315.5 333.3,315.5 333.6,315.5 333.8,315.6 334.1,315.6 334.3,315.6 334.6,315.6 334.8,315.6 335.1,315.6 335.3,315.7 335.6,315.7 335.8,315.7 336.1,315.7 336.3,315.7 336.6,315.8 336.8,315.8 337.1,315.8 337.3,315.8 337.6,315.8 337.8,315.8 338.1,315.8 338.3,315.9 338.6,315.9 338.8,315.9 339.0,315.9 339.3,315.9 339.5,315.9 339.8,316.0 340.0,316.0 340.3,316.0 340.5,316.0 340.8,316.0 341.0,316.0 341.3,316.1 341.5,316.1 341.8,316.1 342.0,316.1 342.3,316.1 342.5,316.1 342.8,316.1 343.0,316.2 343.3,316.2 343.5,316.2 343.8,316.2 344.0,316.2 344.3,316.2 344.5,316.3 344.8,316.3 345.0,316.3 345.3,316.3 345.5,316.3 345.8,316.3 346.0,316.4 346.3,316.4 346.5,316.4 346.8,316.4 347.0,316.4 347.3,316.4 347.5,316.5 347.8,316.5 348.0,316.5 348.3,316.5 348.5,316.5 348.8,316.5 349.0,316.5 349.3,316.6 349.5,316.6 349.8,316.6 350.0,316.6" fill="none" stroke="#f08a50" stroke-width="0.95" stroke-opacity="1.0" stroke-linejoin="round" />
<text x="245.30" y="45.50" font-size="7.5" fill="#333" stroke="#333" stroke-width="0.2" text-anchor="start"><tspan>W4f</tspan><tspan font-size="5.25" dy="2.2">7/2</tspan><tspan dy="-2.2"> WO</tspan><tspan font-size="5.25" dy="2.2">3</tspan></text>
<text x="230.10" y="59.70" font-size="7.5" fill="#333" stroke="#333" stroke-width="0.2" text-anchor="start"><tspan>W4f</tspan><tspan font-size="5.25" dy="2.2">5/2</tspan><tspan dy="-2.2"> WO</tspan><tspan font-size="5.25" dy="2.2">3</tspan></text>
<text x="308.90" y="56.00" font-size="7.5" fill="#333" stroke="#333" stroke-width="0.2" text-anchor="start"><tspan>W4f</tspan><tspan font-size="5.25" dy="2.2">5/2</tspan><tspan dy="-2.2"> WO</tspan><tspan font-size="5.25" dy="2.2">2</tspan></text>
<text x="319.90" y="68.70" font-size="7.5" fill="#333" stroke="#333" stroke-width="0.2" text-anchor="start"><tspan>W4f</tspan><tspan font-size="5.25" dy="2.2">7/2</tspan><tspan dy="-2.2"> WO</tspan><tspan font-size="5.25" dy="2.2">2</tspan></text>
<text x="335.00" y="84.20" font-size="7.5" fill="#333" stroke="#333" stroke-width="0.2" text-anchor="start" >Zr4p</text>
<text x="335.00" y="95.10" font-size="7.5" fill="#333" stroke="#333" stroke-width="0.2" text-anchor="start"><tspan>ZrO</tspan><tspan font-size="5.25" dy="2.2">2</tspan></text>
<text x="243.90" y="107.20" font-size="7.5" fill="#333" stroke="#333" stroke-width="0.2" text-anchor="start" >V3p</text>
<line x1="271.80" y1="48.90" x2="290.00" y2="70.90" stroke="#444" stroke-width="0.6"/>
<path d="M290.00,70.90 L287.69,69.70 L289.25,68.41Z" fill="#444"/>
<line x1="257.00" y1="63.00" x2="271.80" y2="84.40" stroke="#444" stroke-width="0.6"/>
<path d="M271.80,84.40 L269.61,83.01 L271.27,81.85Z" fill="#444"/>
<line x1="311.30" y1="57.50" x2="299.50" y2="82.00" stroke="#444" stroke-width="0.6"/>
<path d="M299.50,82.00 L299.63,79.40 L301.45,80.28Z" fill="#444"/>
<line x1="317.80" y1="71.00" x2="310.00" y2="93.50" stroke="#444" stroke-width="0.6"/>
<path d="M310.00,93.50 L309.83,90.91 L311.74,91.57Z" fill="#444"/>
<line x1="341.70" y1="98.90" x2="332.40" y2="112.00" stroke="#444" stroke-width="0.6"/>
<path d="M332.40,112.00 L332.96,109.46 L334.61,110.63Z" fill="#444"/>
<line x1="224.50" y1="138.70" x2="241.50" y2="138.70" stroke="#a0a0a0" stroke-width="0.9"/>
<text x="243.90" y="141.60" font-size="7.55" fill="#333" stroke="#333" stroke-width="0.2" text-anchor="start" >measured</text>
<line x1="224.50" y1="148.20" x2="241.50" y2="148.20" stroke="#f29494" stroke-width="0.9"/>
<text x="243.90" y="151.10" font-size="7.55" fill="#333" stroke="#333" stroke-width="0.2" text-anchor="start" >composite spectrum</text>
<text x="221.70" y="167.40" font-size="8.7" fill="#555" stroke="#555" stroke-width="0.2" text-anchor="start"><tspan>1.0% W,V/ZnO/ZrO</tspan><tspan font-size="6.09" dy="2.2">2</tspan></text>
<text x="248.70" y="193.20" font-size="7.5" fill="#333" stroke="#333" stroke-width="0.2" text-anchor="start"><tspan>W4f</tspan><tspan font-size="5.25" dy="2.2">7/2</tspan><tspan dy="-2.2"> WO</tspan><tspan font-size="5.25" dy="2.2">3</tspan></text>
<text x="231.60" y="207.90" font-size="7.5" fill="#333" stroke="#333" stroke-width="0.2" text-anchor="start"><tspan>W4f</tspan><tspan font-size="5.25" dy="2.2">5/2</tspan><tspan dy="-2.2"> WO</tspan><tspan font-size="5.25" dy="2.2">3</tspan></text>
<text x="312.80" y="243.90" font-size="7.5" fill="#333" stroke="#333" stroke-width="0.2" text-anchor="start"><tspan>W4f</tspan><tspan font-size="5.25" dy="2.2">5/2</tspan><tspan dy="-2.2"> WO</tspan><tspan font-size="5.25" dy="2.2">2</tspan></text>
<text x="320.70" y="255.90" font-size="7.5" fill="#333" stroke="#333" stroke-width="0.2" text-anchor="start"><tspan>W4f</tspan><tspan font-size="5.25" dy="2.2">7/2</tspan><tspan dy="-2.2"> WO</tspan><tspan font-size="5.25" dy="2.2">2</tspan></text>
<text x="326.20" y="282.90" font-size="7.5" fill="#333" stroke="#333" stroke-width="0.2" text-anchor="start" >(F,Na)2s</text>
<text x="248.30" y="291.10" font-size="7.5" fill="#333" stroke="#333" stroke-width="0.2" text-anchor="start" >V3p</text>
<line x1="276.70" y1="202.40" x2="290.90" y2="223.90" stroke="#444" stroke-width="0.6"/>
<path d="M290.90,223.90 L288.74,222.46 L290.43,221.34Z" fill="#444"/>
<line x1="262.50" y1="212.80" x2="276.70" y2="236.00" stroke="#444" stroke-width="0.6"/>
<path d="M276.70,236.00 L274.59,234.49 L276.31,233.43Z" fill="#444"/>
<line x1="312.60" y1="248.20" x2="294.10" y2="283.50" stroke="#444" stroke-width="0.6"/>
<path d="M294.10,283.50 L294.31,280.91 L296.11,281.85Z" fill="#444"/>
<line x1="324.80" y1="260.40" x2="315.30" y2="282.10" stroke="#444" stroke-width="0.6"/>
<path d="M315.30,282.10 L315.33,279.50 L317.19,280.31Z" fill="#444"/>
<line x1="338.40" y1="286.20" x2="327.60" y2="301.10" stroke="#444" stroke-width="0.6"/>
<path d="M327.60,301.10 L328.19,298.57 L329.83,299.76Z" fill="#444"/>
<text x="221.10" y="329.00" font-size="8.7" fill="#555" stroke="#555" stroke-width="0.2" text-anchor="start"><tspan>1.0% W,V/ZnO/Al</tspan><tspan font-size="6.09" dy="2.2">2</tspan><tspan dy="-2.2">O</tspan><tspan font-size="6.09" dy="2.2">3</tspan></text>
<line x1="399.00" y1="9.60" x2="399.00" y2="171.50" stroke="#a0a0a0" stroke-width="1"/>
<line x1="542.40" y1="9.60" x2="542.40" y2="171.50" stroke="#a0a0a0" stroke-width="1"/>
<line x1="399.00" y1="9.60" x2="542.40" y2="9.60" stroke="#a0a0a0" stroke-width="1"/>
<line x1="399.00" y1="171.50" x2="542.40" y2="171.50" stroke="#808080" stroke-width="1"/>
<line x1="399.00" y1="171.50" x2="399.00" y2="333.50" stroke="#a0a0a0" stroke-width="1"/>
<line x1="542.40" y1="171.50" x2="542.40" y2="333.50" stroke="#a0a0a0" stroke-width="1"/>
<line x1="399.00" y1="333.50" x2="542.40" y2="333.50" stroke="#a0a0a0" stroke-width="1"/>
<line x1="396.00" y1="21.50" x2="399.00" y2="21.50" stroke="#555" stroke-width="0.8"/>
<text x="395.20" y="24.30" font-size="7.5" fill="#3a3a3a" stroke="#3a3a3a" stroke-width="0.2" text-anchor="end" >540</text>
<line x1="396.00" y1="55.83" x2="399.00" y2="55.83" stroke="#555" stroke-width="0.8"/>
<text x="395.20" y="58.62" font-size="7.5" fill="#3a3a3a" stroke="#3a3a3a" stroke-width="0.2" text-anchor="end" >510</text>
<line x1="396.00" y1="90.15" x2="399.00" y2="90.15" stroke="#555" stroke-width="0.8"/>
<text x="395.20" y="92.95" font-size="7.5" fill="#3a3a3a" stroke="#3a3a3a" stroke-width="0.2" text-anchor="end" >480</text>
<line x1="396.00" y1="124.48" x2="399.00" y2="124.48" stroke="#555" stroke-width="0.8"/>
<text x="395.20" y="127.28" font-size="7.5" fill="#3a3a3a" stroke="#3a3a3a" stroke-width="0.2" text-anchor="end" >450</text>
<line x1="396.00" y1="158.80" x2="399.00" y2="158.80" stroke="#555" stroke-width="0.8"/>
<text x="395.20" y="161.60" font-size="7.5" fill="#3a3a3a" stroke="#3a3a3a" stroke-width="0.2" text-anchor="end" >420</text>
<line x1="397.20" y1="38.66" x2="399.00" y2="38.66" stroke="#555" stroke-width="0.7"/>
<line x1="397.20" y1="72.99" x2="399.00" y2="72.99" stroke="#555" stroke-width="0.7"/>
<line x1="397.20" y1="107.31" x2="399.00" y2="107.31" stroke="#555" stroke-width="0.7"/>
<line x1="397.20" y1="141.64" x2="399.00" y2="141.64" stroke="#555" stroke-width="0.7"/>
<line x1="396.00" y1="189.50" x2="399.00" y2="189.50" stroke="#555" stroke-width="0.8"/>
<text x="395.20" y="192.30" font-size="7.5" fill="#3a3a3a" stroke="#3a3a3a" stroke-width="0.2" text-anchor="end" >500</text>
<line x1="396.00" y1="225.50" x2="399.00" y2="225.50" stroke="#555" stroke-width="0.8"/>
<text x="395.20" y="228.30" font-size="7.5" fill="#3a3a3a" stroke="#3a3a3a" stroke-width="0.2" text-anchor="end" >450</text>
<line x1="396.00" y1="261.50" x2="399.00" y2="261.50" stroke="#555" stroke-width="0.8"/>
<text x="395.20" y="264.30" font-size="7.5" fill="#3a3a3a" stroke="#3a3a3a" stroke-width="0.2" text-anchor="end" >400</text>
<line x1="396.00" y1="297.50" x2="399.00" y2="297.50" stroke="#555" stroke-width="0.8"/>
<text x="395.20" y="300.30" font-size="7.5" fill="#3a3a3a" stroke="#3a3a3a" stroke-width="0.2" text-anchor="end" >350</text>
<line x1="396.00" y1="333.50" x2="399.00" y2="333.50" stroke="#555" stroke-width="0.8"/>
<text x="395.20" y="336.30" font-size="7.5" fill="#3a3a3a" stroke="#3a3a3a" stroke-width="0.2" text-anchor="end" >300</text>
<line x1="397.20" y1="207.50" x2="399.00" y2="207.50" stroke="#555" stroke-width="0.7"/>
<line x1="397.20" y1="243.50" x2="399.00" y2="243.50" stroke="#555" stroke-width="0.7"/>
<line x1="397.20" y1="279.50" x2="399.00" y2="279.50" stroke="#555" stroke-width="0.7"/>
<line x1="397.20" y1="315.50" x2="399.00" y2="315.50" stroke="#555" stroke-width="0.7"/>
<line x1="405.30" y1="9.60" x2="405.30" y2="12.20" stroke="#555" stroke-width="0.8"/>
<line x1="442.20" y1="9.60" x2="442.20" y2="12.20" stroke="#555" stroke-width="0.8"/>
<line x1="479.10" y1="9.60" x2="479.10" y2="12.20" stroke="#555" stroke-width="0.8"/>
<line x1="516.00" y1="9.60" x2="516.00" y2="12.20" stroke="#555" stroke-width="0.8"/>
<line x1="423.75" y1="9.60" x2="423.75" y2="11.20" stroke="#555" stroke-width="0.7"/>
<line x1="460.65" y1="9.60" x2="460.65" y2="11.20" stroke="#555" stroke-width="0.7"/>
<line x1="497.55" y1="9.60" x2="497.55" y2="11.20" stroke="#555" stroke-width="0.7"/>
<line x1="534.45" y1="9.60" x2="534.45" y2="11.20" stroke="#555" stroke-width="0.7"/>
<line x1="405.30" y1="171.50" x2="405.30" y2="174.10" stroke="#555" stroke-width="0.8"/>
<line x1="442.20" y1="171.50" x2="442.20" y2="174.10" stroke="#555" stroke-width="0.8"/>
<line x1="479.10" y1="171.50" x2="479.10" y2="174.10" stroke="#555" stroke-width="0.8"/>
<line x1="516.00" y1="171.50" x2="516.00" y2="174.10" stroke="#555" stroke-width="0.8"/>
<line x1="423.75" y1="171.50" x2="423.75" y2="173.10" stroke="#555" stroke-width="0.7"/>
<line x1="460.65" y1="171.50" x2="460.65" y2="173.10" stroke="#555" stroke-width="0.7"/>
<line x1="497.55" y1="171.50" x2="497.55" y2="173.10" stroke="#555" stroke-width="0.7"/>
<line x1="534.45" y1="171.50" x2="534.45" y2="173.10" stroke="#555" stroke-width="0.7"/>
<line x1="405.30" y1="333.50" x2="405.30" y2="336.10" stroke="#555" stroke-width="0.8"/>
<text x="405.30" y="343.70" font-size="7.8" fill="#3a3a3a" stroke="#3a3a3a" stroke-width="0.2" text-anchor="middle" >270</text>
<line x1="442.20" y1="333.50" x2="442.20" y2="336.10" stroke="#555" stroke-width="0.8"/>
<text x="442.20" y="343.70" font-size="7.8" fill="#3a3a3a" stroke="#3a3a3a" stroke-width="0.2" text-anchor="middle" >260</text>
<line x1="479.10" y1="333.50" x2="479.10" y2="336.10" stroke="#555" stroke-width="0.8"/>
<text x="479.10" y="343.70" font-size="7.8" fill="#3a3a3a" stroke="#3a3a3a" stroke-width="0.2" text-anchor="middle" >250</text>
<line x1="516.00" y1="333.50" x2="516.00" y2="336.10" stroke="#555" stroke-width="0.8"/>
<text x="516.00" y="343.70" font-size="7.8" fill="#3a3a3a" stroke="#3a3a3a" stroke-width="0.2" text-anchor="middle" >240</text>
<line x1="423.75" y1="333.50" x2="423.75" y2="335.10" stroke="#555" stroke-width="0.7"/>
<line x1="460.65" y1="333.50" x2="460.65" y2="335.10" stroke="#555" stroke-width="0.7"/>
<line x1="497.55" y1="333.50" x2="497.55" y2="335.10" stroke="#555" stroke-width="0.7"/>
<line x1="534.45" y1="333.50" x2="534.45" y2="335.10" stroke="#555" stroke-width="0.7"/>
<path d="M410.3,69.7 410.5,69.8 410.8,70.0 411.0,70.1 411.2,70.2 411.5,70.4 411.7,70.5 411.9,70.6 412.2,70.8 412.4,70.9 412.6,71.1 412.9,71.2 413.1,71.3 413.3,71.5 413.6,71.6 413.8,71.8 414.0,71.9 414.3,72.1 414.5,72.2 414.7,72.4 415.0,72.5 415.2,72.7 415.4,72.8 415.7,73.0 415.9,73.1 416.1,73.3 416.4,73.5 416.6,73.6 416.8,73.8 417.1,73.9 417.3,74.1 417.5,74.3 417.8,74.4 418.0,74.6 418.3,74.8 418.5,74.9 418.7,75.1 419.0,75.3 419.2,75.4 419.4,75.6 419.7,75.8 419.9,75.9 420.1,76.1 420.4,76.3 420.6,76.5 420.8,76.6 421.1,76.8 421.3,77.0 421.5,77.2 421.8,77.4 422.0,77.5 422.2,77.7 422.5,77.9 422.7,78.1 422.9,78.3 423.2,78.5 423.4,78.7 423.6,78.9 423.9,79.1 424.1,79.3 424.3,79.5 424.6,79.7 424.8,79.9 425.0,80.1 425.3,80.3 425.5,80.5 425.7,80.7 426.0,80.9 426.2,81.1 426.4,81.3 426.7,81.6 426.9,81.8 427.1,82.0 427.4,82.2 427.6,82.5 427.8,82.7 428.1,82.9 428.3,83.2 428.5,83.4 428.8,83.6 429.0,83.9 429.2,84.1 429.5,84.4 429.7,84.6 429.9,84.8 430.2,85.1 430.4,85.3 430.6,85.6 430.9,85.8 431.1,86.1 431.3,86.3 431.6,86.6 431.8,86.8 432.0,87.0 432.3,87.3 432.5,87.5 432.8,87.8 433.0,88.0 433.2,88.3 433.5,88.5 433.7,88.8 433.9,89.0 434.2,89.3 434.4,89.6 434.6,89.8 434.9,90.1 435.1,90.3 435.3,90.6 435.6,90.9 435.8,91.1 436.0,91.4 436.3,91.6 436.5,91.9 436.7,92.1 437.0,92.4 437.2,92.7 437.4,92.9 437.7,93.2 437.9,93.4 438.1,93.7 438.4,93.9 438.6,94.2 438.8,94.4 439.1,94.7 439.3,94.9 439.5,95.2 439.8,95.4 440.0,95.6 440.2,95.9 440.5,96.1 440.7,96.4 440.9,96.6 441.2,96.8 441.4,97.1 441.6,97.3 441.9,97.5 442.1,97.8 442.3,98.0 442.6,98.2 442.8,98.5 443.0,98.7 443.3,98.9 443.5,99.2 443.7,99.4 444.0,99.6 444.2,99.9 444.4,100.1 444.7,100.3 444.9,100.5 445.1,100.8 445.4,101.0 445.6,101.2 445.8,101.4 446.1,101.7 446.3,101.9 446.5,102.1 446.8,102.3 447.0,102.6 447.3,102.8 447.5,103.0 447.7,103.2 448.0,103.5 448.2,103.7 448.4,103.9 448.7,104.1 448.9,104.4 449.1,104.6 449.4,104.8 449.6,105.0 449.8,105.2 450.1,105.4 450.3,105.7 450.5,105.9 450.8,106.1 451.0,106.3 451.2,106.5 451.5,106.7 451.7,106.9 451.9,107.1 452.2,107.3 452.4,107.4 452.6,107.6 452.9,107.8 453.1,108.0 453.3,108.2 453.6,108.3 453.8,108.5 454.0,108.7 454.3,108.9 454.5,109.0 454.7,109.2 455.0,109.4 455.2,109.5 455.4,109.7 455.7,109.8 455.9,110.0 456.1,110.1 456.4,110.3 456.6,110.4 456.8,110.6 457.1,110.7 457.3,110.9 457.5,111.0 457.8,111.2 458.0,111.3 458.2,111.4 458.5,111.6 458.7,111.7 458.9,111.8 459.2,112.0 459.4,112.1 459.6,112.2 459.9,112.3 460.1,112.4 460.3,112.6 460.6,112.7 460.8,112.8 461.0,112.9 461.3,113.0 461.5,113.1 461.8,113.2 462.0,113.3 462.2,113.5 462.5,113.6 462.7,113.7 462.9,113.8 463.2,113.9 463.4,114.0 463.6,114.1 463.9,114.2 464.1,114.3 464.3,114.4 464.6,114.6 464.8,114.7 465.0,114.8 465.3,114.9 465.5,115.0 465.7,115.1 466.0,115.3 466.2,115.4 466.4,115.5 466.7,115.6 466.9,115.8 467.1,115.9 467.4,116.0 467.6,116.1 467.8,116.3 468.1,116.4 468.3,116.5 468.5,116.7 468.8,116.8 469.0,116.9 469.2,117.1 469.5,117.2 469.7,117.4 469.9,117.5 470.2,117.6 470.4,117.8 470.6,117.9 470.9,118.1 471.1,118.2 471.3,118.4 471.6,118.5 471.8,118.7 472.0,118.8 472.3,119.0 472.5,119.1 472.7,119.3 473.0,119.4 473.2,119.6 473.4,119.7 473.7,119.9 473.9,120.0 474.1,120.2 474.4,120.3 474.6,120.5 474.8,120.7 475.1,120.8 475.3,121.0 475.5,121.1 475.8,121.3 476.0,121.5 476.3,121.6 476.5,121.8 476.7,122.0 477.0,122.2 477.2,122.3 477.4,122.5 477.7,122.7 477.9,122.9 478.1,123.1 478.4,123.3 478.6,123.5 478.8,123.7 479.1,123.9 479.3,124.1 479.5,124.3 479.8,124.5 480.0,124.8 480.2,125.0 480.5,125.3 480.7,125.5 480.9,125.8 481.2,126.1 481.4,126.3 481.6,126.6 481.9,126.9 482.1,127.2 482.3,127.5 482.6,127.8 482.8,128.1 483.0,128.4 483.3,128.7 483.5,129.0 483.7,129.3 484.0,129.6 484.2,129.9 484.4,130.1 484.7,130.4 484.9,130.7 485.1,131.0 485.4,131.3 485.6,131.6 485.8,131.8 486.1,132.1 486.3,132.3 486.5,132.6 486.8,132.9 487.0,133.1 487.2,133.4 487.5,133.7 487.7,133.9 487.9,134.2 488.2,134.5 488.4,134.7 488.6,135.0 488.9,135.2 489.1,135.5 489.3,135.8 489.6,136.0 489.8,136.3 490.0,136.5 490.3,136.7 490.5,137.0 490.8,137.2 491.0,137.4 491.2,137.6 491.5,137.9 491.7,138.1 491.9,138.3 492.2,138.5 492.4,138.6 492.6,138.8 492.9,139.0 493.1,139.2 493.3,139.4 493.6,139.5 493.8,139.7 494.0,139.9 494.3,140.0 494.5,140.2 494.7,140.3 495.0,140.5 495.2,140.7 495.4,140.8 495.7,141.0 495.9,141.1 496.1,141.2 496.4,141.4 496.6,141.5 496.8,141.7 497.1,141.8 497.3,141.9 497.5,142.0 497.8,142.2 498.0,142.3 498.2,142.4 498.5,142.5 498.7,142.7 498.9,142.8 499.2,142.9 499.4,143.0 499.6,143.1 499.9,143.2 500.1,143.4 500.3,143.5 500.6,143.6 500.8,143.7 501.0,143.8 501.3,143.9 501.5,144.0 501.7,144.1 502.0,144.2 502.2,144.3 502.4,144.4 502.7,144.5 502.9,144.6 503.1,144.7 503.4,144.8 503.6,144.9 503.8,145.0 504.1,145.1 504.3,145.2 504.5,145.3 504.8,145.4 505.0,145.4 505.3,145.5 505.5,145.6 505.7,145.7 506.0,145.8 506.2,145.9 506.4,146.0 506.7,146.1 506.9,146.2 507.1,146.3 507.4,146.3 507.6,146.4 507.8,146.5 508.1,146.6 508.3,146.7 508.5,146.8 508.8,146.8 509.0,146.9 509.2,147.0 509.5,147.0 509.7,147.1 509.9,147.2 510.2,147.2 510.4,147.3 510.6,147.4 510.9,147.4 511.1,147.5 511.3,147.5 511.6,147.6 511.8,147.6 512.0,147.7 512.3,147.7 512.5,147.8 512.7,147.8 513.0,147.9 513.2,147.9 513.4,148.0 513.7,148.0 513.9,148.1 514.1,148.1 514.4,148.2 514.6,148.2 514.8,148.3 515.1,148.3 515.3,148.3 515.5,148.4 515.8,148.4 516.0,148.5 516.2,148.5 516.5,148.6 516.7,148.6 516.9,148.6 517.2,148.7 517.4,148.7 517.6,148.8 517.9,148.8 518.1,148.9 518.3,148.9 518.6,148.9 518.8,149.0 519.0,149.0 519.3,149.1 519.5,149.1 519.8,149.2 520.0,149.2 520.2,149.2 520.5,149.3 520.7,149.3 520.9,149.4 521.2,149.4 521.4,149.4 521.6,149.5 521.9,149.5 522.1,149.6 522.3,149.6 522.6,149.6 522.8,149.7 523.0,149.7 523.3,149.7 523.5,149.8 523.7,149.8 524.0,149.9 524.2,149.9 524.4,149.9 524.7,150.0 524.9,150.0 525.1,150.0 525.4,150.1 525.6,150.1 525.8,150.1 526.1,150.2 526.3,150.2 526.5,150.2 526.8,150.3 527.0,150.3" fill="none" stroke="#8a6ee0" stroke-width="0.85" stroke-opacity="1.0" stroke-linejoin="round" />
<path d="M441.9,96.5 442.1,96.7 442.3,96.8 442.6,97.0 442.8,97.2 443.0,97.3 443.3,97.5 443.5,97.6 443.7,97.8 444.0,97.9 444.2,98.0 444.4,98.2 444.7,98.3 444.9,98.4 445.1,98.5 445.4,98.7 445.6,98.8 445.8,98.9 446.1,99.0 446.3,99.1 446.5,99.2 446.8,99.3 447.0,99.4 447.3,99.5 447.5,99.6 447.7,99.7 448.0,99.9 448.2,100.0 448.4,100.1 448.7,100.2 448.9,100.3 449.1,100.4 449.4,100.5 449.6,100.6 449.8,100.7 450.1,100.8 450.3,100.9 450.5,101.0 450.8,101.1 451.0,101.2 451.2,101.3 451.5,101.4 451.7,101.5 451.9,101.6 452.2,101.7 452.4,101.8 452.6,102.0 452.9,102.1 453.1,102.2 453.3,102.3 453.6,102.5 453.8,102.6 454.0,102.7 454.3,102.9 454.5,103.0 454.7,103.2 455.0,103.4 455.2,103.5 455.4,103.7 455.7,103.9 455.9,104.0 456.1,104.2 456.4,104.4 456.6,104.6 456.8,104.8 457.1,105.0 457.3,105.2 457.5,105.4 457.8,105.6 458.0,105.8 458.2,106.1 458.5,106.3 458.7,106.5 458.9,106.7 459.2,106.9 459.4,107.2 459.6,107.4 459.9,107.6 460.1,107.8 460.3,108.1 460.6,108.3 460.8,108.5 461.0,108.8 461.3,109.0 461.5,109.2 461.8,109.5 462.0,109.7 462.2,109.9 462.5,110.2 462.7,110.4 462.9,110.6 463.2,110.8 463.4,111.1 463.6,111.3 463.9,111.5 464.1,111.7 464.3,112.0 464.6,112.2 464.8,112.4 465.0,112.6 465.3,112.8 465.5,113.1 465.7,113.3 466.0,113.5 466.2,113.7 466.4,113.9 466.7,114.1 466.9,114.3 467.1,114.5 467.4,114.8 467.6,115.0 467.8,115.2 468.1,115.4" fill="none" stroke="#d59ad8" stroke-width="0.95" stroke-opacity="1.0" stroke-linejoin="round" />
<path d="M488.2,133.4 488.4,133.6 488.6,133.8 488.9,134.0 489.1,134.2 489.3,134.4 489.6,134.5 489.8,134.7 490.0,134.9 490.3,135.1 490.5,135.2 490.8,135.4 491.0,135.5 491.2,135.7 491.5,135.8 491.7,136.0 491.9,136.1 492.2,136.2 492.4,136.3 492.6,136.4 492.9,136.5 493.1,136.6 493.3,136.7 493.6,136.8 493.8,136.9 494.0,137.0 494.3,137.1 494.5,137.1 494.7,137.2 495.0,137.3 495.2,137.3 495.4,137.4 495.7,137.4 495.9,137.5 496.1,137.5 496.4,137.5 496.6,137.5 496.8,137.6 497.1,137.5 497.3,137.5 497.5,137.5 497.8,137.5 498.0,137.4 498.2,137.4 498.5,137.3 498.7,137.3 498.9,137.2 499.2,137.1 499.4,137.0 499.6,136.9 499.9,136.8 500.1,136.6 500.3,136.5 500.6,136.4 500.8,136.2 501.0,136.1 501.3,135.9 501.5,135.7 501.7,135.6 502.0,135.4 502.2,135.2 502.4,135.0 502.7,134.9 502.9,134.7 503.1,134.5 503.4,134.3 503.6,134.2 503.8,134.0 504.1,133.9 504.3,133.7 504.5,133.6 504.8,133.5 505.0,133.4 505.3,133.3 505.5,133.3 505.7,133.2 506.0,133.2 506.2,133.1 506.4,133.1 506.7,133.1 506.9,133.2 507.1,133.2 507.4,133.3 507.6,133.4 507.8,133.5 508.1,133.6 508.3,133.8 508.5,133.9 508.8,134.1 509.0,134.3 509.2,134.5 509.5,134.8 509.7,135.0 509.9,135.3 510.2,135.5 510.4,135.8 510.6,136.1 510.9,136.4 511.1,136.7 511.3,137.1 511.6,137.4 511.8,137.8 512.0,138.1 512.3,138.5 512.5,138.8 512.7,139.2 513.0,139.6 513.2,139.9 513.4,140.3 513.7,140.6 513.9,141.0 514.1,141.4 514.4,141.7 514.6,142.1 514.8,142.4 515.1,142.8 515.3,143.1 515.5,143.4 515.8,143.7 516.0,144.0 516.2,144.3 516.5,144.6 516.7,144.9 516.9,145.2 517.2,145.5 517.4,145.7 517.6,146.0 517.9,146.2 518.1,146.4 518.3,146.6 518.6,146.8 518.8,147.0 519.0,147.2 519.3,147.4 519.5,147.6 519.8,147.8 520.0,147.9 520.2,148.1 520.5,148.2 520.7,148.3" fill="none" stroke="#8a6ee0" stroke-width="0.95" stroke-opacity="1.0" stroke-linejoin="round" />
<path d="M410.3,67.5 410.5,67.6 410.8,67.7 411.0,67.8 411.2,67.9 411.5,68.0 411.7,68.1 411.9,68.2 412.2,68.3 412.4,68.4 412.6,68.5 412.9,68.5 413.1,68.6 413.3,68.7 413.6,68.8 413.8,68.9 414.0,69.0 414.3,69.0 414.5,69.1 414.7,69.2 415.0,69.3 415.2,69.3 415.4,69.4 415.7,69.4 415.9,69.5 416.1,69.6 416.4,69.6 416.6,69.7 416.8,69.7 417.1,69.7 417.3,69.8 417.5,69.8 417.8,69.8 418.0,69.8 418.3,69.8 418.5,69.8 418.7,69.8 419.0,69.8 419.2,69.8 419.4,69.7 419.7,69.7 419.9,69.6 420.1,69.6 420.4,69.5 420.6,69.4 420.8,69.3 421.1,69.2 421.3,69.1 421.5,69.0 421.8,68.9 422.0,68.7 422.2,68.6 422.5,68.4 422.7,68.2 422.9,68.0 423.2,67.8 423.4,67.6 423.6,67.3 423.9,67.1 424.1,66.8 424.3,66.5 424.6,66.2 424.8,65.9 425.0,65.6 425.3,65.2 425.5,64.8 425.7,64.4 426.0,64.0 426.2,63.6 426.4,63.2 426.7,62.7 426.9,62.2 427.1,61.7 427.4,61.2 427.6,60.7 427.8,60.2 428.1,59.6 428.3,59.0 428.5,58.4 428.8,57.8 429.0,57.2 429.2,56.5 429.5,55.9 429.7,55.2 429.9,54.5 430.2,53.8 430.4,53.0 430.6,52.3 430.9,51.6 431.1,50.8 431.3,50.0 431.6,49.2 431.8,48.4 432.0,47.6 432.3,46.8 432.5,46.0 432.8,45.1 433.0,44.3 433.2,43.5 433.5,42.7 433.7,41.8 433.9,41.0 434.2,40.2 434.4,39.4 434.6,38.6 434.9,37.8 435.1,37.0 435.3,36.2 435.6,35.4 435.8,34.7 436.0,34.0 436.3,33.3 436.5,32.6 436.7,32.0 437.0,31.3 437.2,30.7 437.4,30.2 437.7,29.6 437.9,29.1 438.1,28.7 438.4,28.2 438.6,27.8 438.8,27.5 439.1,27.2 439.3,27.0 439.5,26.8 439.8,26.6 440.0,26.5 440.2,26.5 440.5,26.5 440.7,26.5 440.9,26.7 441.2,26.8 441.4,27.1 441.6,27.4 441.9,27.7 442.1,28.2 442.3,28.7 442.6,29.2 442.8,29.8 443.0,30.5 443.3,31.3 443.5,32.1 443.7,32.9 444.0,33.8 444.2,34.8 444.4,35.8 444.7,36.8 444.9,37.9 445.1,39.0 445.4,40.1 445.6,41.3 445.8,42.6 446.1,43.8 446.3,45.1 446.5,46.4 446.8,47.7 447.0,49.0 447.3,50.4 447.5,51.7 447.7,53.1 448.0,54.5 448.2,55.9 448.4,57.3 448.7,58.7 448.9,60.0 449.1,61.4 449.4,62.8 449.6,64.2 449.8,65.5 450.1,66.9 450.3,68.2 450.5,69.6 450.8,70.9 451.0,72.2 451.2,73.4 451.5,74.7 451.7,75.9 451.9,77.2 452.2,78.4 452.4,79.5 452.6,80.7 452.9,81.8 453.1,82.9 453.3,84.0 453.6,85.0 453.8,86.1 454.0,87.1 454.3,88.0 454.5,89.0 454.7,89.9 455.0,90.8 455.2,91.7 455.4,92.6 455.7,93.4 455.9,94.2 456.1,95.0 456.4,95.8 456.6,96.5 456.8,97.2 457.1,97.9 457.3,98.6 457.5,99.2 457.8,99.8 458.0,100.4 458.2,101.0 458.5,101.6 458.7,102.1 458.9,102.6 459.2,103.1 459.4,103.6 459.6,104.1 459.9,104.5 460.1,104.9 460.3,105.4 460.6,105.8 460.8,106.1 461.0,106.5 461.3,106.9 461.5,107.2 461.8,107.5 462.0,107.9 462.2,108.2 462.5,108.5 462.7,108.8 462.9,109.0 463.2,109.3 463.4,109.6 463.6,109.8 463.9,110.1 464.1,110.3 464.3,110.6 464.6,110.8 464.8,111.0 465.0,111.2 465.3,111.4 465.5,111.7 465.7,111.9 466.0,112.1 466.2,112.3 466.4,112.5 466.7,112.7 466.9,112.9 467.1,113.1 467.4,113.3 467.6,113.5 467.8,113.7 468.1,113.9 468.3,114.0 468.5,114.2 468.8,114.4 469.0,114.6 469.2,114.8 469.5,115.0 469.7,115.2 469.9,115.3 470.2,115.5 470.4,115.7 470.6,115.9 470.9,116.1 471.1,116.2 471.3,116.4 471.6,116.6 471.8,116.8 472.0,117.0 472.3,117.1 472.5,117.3 472.7,117.5 473.0,117.7 473.2,117.9 473.4,118.0 473.7,118.2 473.9,118.4 474.1,118.6 474.4,118.7 474.6,118.9 474.8,119.1 475.1,119.3 475.3,119.5 475.5,119.6 475.8,119.8 476.0,120.0 476.3,120.2 476.5,120.4 476.7,120.6 477.0,120.8 477.2,121.0 477.4,121.2 477.7,121.4 477.9,121.6 478.1,121.8 478.4,122.0 478.6,122.2 478.8,122.4 479.1,122.6 479.3,122.8 479.5,123.1 479.8,123.3 480.0,123.6 480.2,123.8 480.5,124.1" fill="none" stroke="#6cc8d8" stroke-width="0.95" stroke-opacity="1.0" stroke-linejoin="round" />
<path d="M450.1,104.3 450.3,104.5 450.5,104.7 450.8,104.9 451.0,105.0 451.2,105.2 451.5,105.4 451.7,105.6 451.9,105.8 452.2,105.9 452.4,106.1 452.6,106.3 452.9,106.4 453.1,106.6 453.3,106.8 453.6,106.9 453.8,107.1 454.0,107.2 454.3,107.4 454.5,107.5 454.7,107.7 455.0,107.8 455.2,108.0 455.4,108.1 455.7,108.2 455.9,108.4 456.1,108.5 456.4,108.6 456.6,108.8 456.8,108.9 457.1,109.0 457.3,109.1 457.5,109.3 457.8,109.4 458.0,109.5 458.2,109.6 458.5,109.7 458.7,109.8 458.9,109.9 459.2,110.0 459.4,110.1 459.6,110.2 459.9,110.3 460.1,110.3 460.3,110.4 460.6,110.5 460.8,110.6 461.0,110.7 461.3,110.7 461.5,110.8 461.8,110.9 462.0,111.0 462.2,111.0 462.5,111.1 462.7,111.1 462.9,111.2 463.2,111.3 463.4,111.3 463.6,111.4 463.9,111.4 464.1,111.5 464.3,111.5 464.6,111.6 464.8,111.6 465.0,111.7 465.3,111.7 465.5,111.8 465.7,111.8 466.0,111.8 466.2,111.9 466.4,111.9 466.7,111.9 466.9,112.0 467.1,112.0 467.4,112.0 467.6,112.0 467.8,112.0 468.1,112.0 468.3,112.0 468.5,112.0 468.8,111.9 469.0,111.9 469.2,111.8 469.5,111.8 469.7,111.7 469.9,111.6 470.2,111.5 470.4,111.4 470.6,111.2 470.9,111.1 471.1,110.9 471.3,110.7 471.6,110.5 471.8,110.3 472.0,110.0 472.3,109.8 472.5,109.5 472.7,109.1 473.0,108.8 473.2,108.4 473.4,108.0 473.7,107.5 473.9,107.0 474.1,106.5 474.4,105.9 474.6,105.3 474.8,104.7 475.1,104.0 475.3,103.3 475.5,102.5 475.8,101.7 476.0,100.9 476.3,100.0 476.5,99.0 476.7,98.1 477.0,97.0 477.2,96.0 477.4,94.8 477.7,93.7 477.9,92.5 478.1,91.2 478.4,89.9 478.6,88.6 478.8,87.2 479.1,85.8 479.3,84.3 479.5,82.8 479.8,81.3 480.0,79.7 480.2,78.1 480.5,76.5 480.7,74.8 480.9,73.2 481.2,71.5 481.4,69.8 481.6,68.1 481.9,66.4 482.1,64.6 482.3,62.9 482.6,61.2 482.8,59.5 483.0,57.7 483.3,56.0 483.5,54.4 483.7,52.7 484.0,51.1 484.2,49.6 484.4,48.0 484.7,46.6 484.9,45.1 485.1,43.8 485.4,42.5 485.6,41.3 485.8,40.2 486.1,39.2 486.3,38.3 486.5,37.5 486.8,36.8 487.0,36.3 487.2,35.8 487.5,35.5 487.7,35.4 487.9,35.4 488.2,35.5 488.4,35.7 488.6,36.1 488.9,36.5 489.1,37.0 489.3,37.6 489.6,38.3 489.8,39.1 490.0,40.0 490.3,40.9 490.5,41.9 490.8,42.9 491.0,44.1 491.2,45.3 491.5,46.5 491.7,47.8 491.9,49.2 492.2,50.6 492.4,52.0 492.6,53.5 492.9,55.1 493.1,56.6 493.3,58.2 493.6,59.9 493.8,61.5 494.0,63.2 494.3,64.9 494.5,66.6 494.7,68.4 495.0,70.1 495.2,71.8 495.4,73.6 495.7,75.4 495.9,77.1 496.1,78.9 496.4,80.6 496.6,82.3 496.8,84.1 497.1,85.8 497.3,87.5 497.5,89.2 497.8,90.8 498.0,92.5 498.2,94.1 498.5,95.7 498.7,97.3 498.9,98.9 499.2,100.4 499.4,101.9 499.6,103.4 499.9,104.8 500.1,106.2 500.3,107.6 500.6,109.0 500.8,110.3 501.0,111.6 501.3,112.9 501.5,114.1 501.7,115.3 502.0,116.5 502.2,117.6 502.4,118.7 502.7,119.8 502.9,120.8 503.1,121.8 503.4,122.8 503.6,123.8 503.8,124.7 504.1,125.6 504.3,126.5 504.5,127.3 504.8,128.1 505.0,128.9 505.3,129.6 505.5,130.4 505.7,131.1 506.0,131.7 506.2,132.4 506.4,133.0 506.7,133.6 506.9,134.2 507.1,134.7 507.4,135.3 507.6,135.8 507.8,136.3 508.1,136.8 508.3,137.2 508.5,137.6 508.8,138.1 509.0,138.5 509.2,138.8 509.5,139.2 509.7,139.5 509.9,139.9 510.2,140.2 510.4,140.5 510.6,140.8 510.9,141.1 511.1,141.3 511.3,141.6 511.6,141.8 511.8,142.0 512.0,142.3 512.3,142.5 512.5,142.7 512.7,142.9 513.0,143.1 513.2,143.2 513.4,143.4 513.7,143.6 513.9,143.7 514.1,143.9 514.4,144.0 514.6,144.2 514.8,144.3 515.1,144.4 515.3,144.6 515.5,144.7 515.8,144.8 516.0,144.9 516.2,145.1 516.5,145.2 516.7,145.3 516.9,145.4 517.2,145.5 517.4,145.6 517.6,145.7 517.9,145.8 518.1,145.9 518.3,146.0 518.6,146.1 518.8,146.2 519.0,146.2 519.3,146.3 519.5,146.4 519.8,146.5 520.0,146.6 520.2,146.7 520.5,146.7 520.7,146.8 520.9,146.9 521.2,147.0 521.4,147.0 521.6,147.1 521.9,147.2 522.1,147.3 522.3,147.3 522.6,147.4 522.8,147.5 523.0,147.5 523.3,147.6 523.5,147.7 523.7,147.7 524.0,147.8 524.2,147.8 524.4,147.9 524.7,148.0 524.9,148.0 525.1,148.1 525.4,148.1 525.6,148.2 525.8,148.3 526.1,148.3 526.3,148.4 526.5,148.4 526.8,148.5 527.0,148.5" fill="none" stroke="#6cc8d8" stroke-width="0.95" stroke-opacity="1.0" stroke-linejoin="round" />
<path d="M410.3,68.5 410.5,68.7 410.8,68.8 411.0,69.0 411.2,69.2 411.5,69.3 411.7,69.5 411.9,69.6 412.2,69.8 412.4,70.0 412.6,70.1 412.9,70.3 413.1,70.4 413.3,70.6 413.6,70.7 413.8,70.9 414.0,71.0 414.3,71.2 414.5,71.3 414.7,71.5 415.0,71.7 415.2,71.9 415.4,72.1 415.7,72.2 415.9,72.4 416.1,72.6 416.4,72.7 416.6,72.9 416.8,73.0 417.1,73.2 417.3,73.3 417.5,73.4 417.8,73.4 418.0,73.5 418.3,73.5 418.5,73.5 418.7,73.5 419.0,73.4 419.2,73.4 419.4,73.4 419.7,73.3 419.9,73.2 420.1,73.1 420.4,73.0 420.6,72.9 420.8,72.8 421.1,72.7 421.3,72.6 421.5,72.5 421.8,72.4 422.0,72.2 422.2,72.1 422.5,71.9 422.7,71.6 422.9,71.4 423.2,71.0 423.4,70.7 423.6,70.3 423.9,70.0 424.1,69.6 424.3,69.1 424.6,68.7 424.8,68.2 425.0,67.8 425.3,67.3 425.5,66.8 425.7,66.4 426.0,65.9 426.2,65.4 426.4,65.0 426.7,64.6 426.9,64.1 427.1,63.7 427.4,63.2 427.6,62.8 427.8,62.3 428.1,61.8 428.3,61.4 428.5,60.9 428.8,60.4 429.0,59.9 429.2,59.4 429.5,58.9 429.7,58.4 429.9,57.8 430.2,57.3 430.4,56.8 430.6,56.2 430.9,55.7 431.1,55.2 431.3,54.6 431.6,54.1 431.8,53.5 432.0,52.9 432.3,52.4 432.5,51.8 432.8,51.2 433.0,50.6 433.2,49.9 433.5,49.3 433.7,48.7 433.9,48.1 434.2,47.5 434.4,46.8 434.6,46.2 434.9,45.6 435.1,44.9 435.3,44.3 435.6,43.7 435.8,43.1 436.0,42.4 436.3,41.8 436.5,41.1 436.7,40.5 437.0,39.8 437.2,39.1 437.4,38.4 437.7,37.8 437.9,37.1 438.1,36.5 438.4,35.9 438.6,35.3 438.8,34.8 439.1,34.4 439.3,33.9 439.5,33.4 439.8,32.9 440.0,32.5 440.2,32.0 440.5,31.7 440.7,31.4 440.9,31.1 441.2,31.0 441.4,31.0 441.6,31.1 441.9,31.2 442.1,31.3 442.3,31.5 442.6,31.8 442.8,32.1 443.0,32.4 443.3,32.7 443.5,33.0 443.7,33.5 444.0,34.1 444.2,34.9 444.4,35.8 444.7,36.9 444.9,38.0 445.1,39.2 445.4,40.5 445.6,41.7 445.8,43.0 446.1,44.2 446.3,45.3 446.5,46.4 446.8,47.4 447.0,48.3 447.3,49.3 447.5,50.2 447.7,51.2 448.0,52.1 448.2,53.0 448.4,54.0 448.7,54.9 448.9,55.8 449.1,56.7 449.4,57.7 449.6,58.6 449.8,59.5 450.1,60.4 450.3,61.4 450.5,62.3 450.8,63.2 451.0,64.2 451.2,65.1 451.5,66.1 451.7,67.0 451.9,67.9 452.2,68.9 452.4,69.8 452.6,70.7 452.9,71.7 453.1,72.6 453.3,73.5 453.6,74.5 453.8,75.4 454.0,76.3 454.3,77.3 454.5,78.2 454.7,79.2 455.0,80.1 455.2,81.1 455.4,82.0 455.7,83.0 455.9,83.9 456.1,84.9 456.4,85.8 456.6,86.6 456.8,87.5 457.1,88.3 457.3,89.1 457.5,89.9 457.8,90.7 458.0,91.4 458.2,92.2 458.5,93.0 458.7,93.7 458.9,94.4 459.2,95.1 459.4,95.8 459.6,96.4 459.9,97.0 460.1,97.6 460.3,98.2 460.6,98.7 460.8,99.2 461.0,99.7 461.3,100.2 461.5,100.7 461.8,101.1 462.0,101.6 462.2,102.0 462.5,102.5 462.7,102.9 462.9,103.2 463.2,103.6 463.4,103.9 463.6,104.1 463.9,104.4 464.1,104.6 464.3,104.8 464.6,104.9 464.8,105.1 465.0,105.3 465.3,105.4 465.5,105.6 465.7,105.7 466.0,105.9 466.2,106.0 466.4,106.1 466.7,106.2 466.9,106.2 467.1,106.3 467.4,106.3 467.6,106.3 467.8,106.3 468.1,106.2 468.3,106.1 468.5,106.0 468.8,105.9 469.0,105.8 469.2,105.6 469.5,105.4 469.7,105.2 469.9,105.0 470.2,104.8 470.4,104.6 470.6,104.4 470.9,104.1 471.1,103.7 471.3,103.3 471.6,102.8 471.8,102.3 472.0,101.7 472.3,101.2 472.5,100.6 472.7,100.0 473.0,99.3 473.2,98.7 473.4,98.1 473.7,97.6 473.9,97.0 474.1,96.4 474.4,95.7 474.6,95.1 474.8,94.5 475.1,93.8 475.3,93.1 475.5,92.4 475.8,91.7 476.0,90.9 476.3,90.1 476.5,89.2 476.7,88.3 477.0,87.4 477.2,86.3 477.4,85.1 477.7,83.9 477.9,82.6 478.1,81.2 478.4,79.9 478.6,78.5 478.8,77.0 479.1,75.6 479.3,74.2 479.5,72.9 479.8,71.5 480.0,70.0 480.2,68.6 480.5,67.1 480.7,65.6 480.9,64.1 481.2,62.6 481.4,61.1 481.6,59.6 481.9,58.1 482.1,56.7 482.3,55.3 482.6,54.0 482.8,52.8 483.0,51.5 483.3,50.2 483.5,49.0 483.7,47.7 484.0,46.5 484.2,45.4 484.4,44.2 484.7,43.2 484.9,42.2 485.1,41.2 485.4,40.4 485.6,39.7 485.8,38.9 486.1,38.2 486.3,37.4 486.5,36.7 486.8,36.0 487.0,35.4 487.2,34.8 487.5,34.3 487.7,33.9 487.9,33.6 488.2,33.4 488.4,33.3 488.6,33.3 488.9,33.4 489.1,33.6 489.3,33.8 489.6,34.1 489.8,34.4 490.0,34.8 490.3,35.1 490.5,35.6 490.8,36.0 491.0,36.5 491.2,37.1 491.5,37.9 491.7,38.9 491.9,40.1 492.2,41.4 492.4,42.9 492.6,44.3 492.9,45.8 493.1,47.3 493.3,48.8 493.6,50.3 493.8,51.9 494.0,53.6 494.3,55.4 494.5,57.2 494.7,59.0 495.0,60.9 495.2,62.7 495.4,64.5 495.7,66.3 495.9,68.0 496.1,69.7 496.4,71.4 496.6,73.1 496.8,74.8 497.1,76.5 497.3,78.2 497.5,79.8 497.8,81.4 498.0,82.9 498.2,84.3 498.5,85.7 498.7,87.0 498.9,88.2 499.2,89.4 499.4,90.6 499.6,91.8 499.9,92.9 500.1,93.9 500.3,95.0 500.6,96.0 500.8,96.9 501.0,97.9 501.3,98.8 501.5,99.7 501.7,100.5 502.0,101.4 502.2,102.2 502.4,103.0 502.7,103.8 502.9,104.5 503.1,105.3 503.4,106.0 503.6,106.8 503.8,107.5 504.1,108.2 504.3,108.9 504.5,109.5 504.8,110.2 505.0,110.8 505.3,111.5 505.5,112.1 505.7,112.7 506.0,113.3 506.2,113.8 506.4,114.4 506.7,115.0 506.9,115.5 507.1,116.1 507.4,116.6 507.6,117.2 507.8,117.7 508.1,118.3 508.3,118.8 508.5,119.4 508.8,120.0 509.0,120.5 509.2,121.1 509.5,121.7 509.7,122.3 509.9,122.9 510.2,123.5 510.4,124.1 510.6,124.8 510.9,125.4 511.1,126.0 511.3,126.7 511.6,127.3 511.8,127.9 512.0,128.5 512.3,129.1 512.5,129.7 512.7,130.3 513.0,130.9 513.2,131.4 513.4,132.0 513.7,132.5 513.9,133.0 514.1,133.5 514.4,133.9 514.6,134.4 514.8,134.8 515.1,135.3 515.3,135.7 515.5,136.1 515.8,136.5 516.0,136.9 516.2,137.3 516.5,137.7 516.7,138.1 516.9,138.4 517.2,138.8 517.4,139.2 517.6,139.5 517.9,139.9 518.1,140.2 518.3,140.6 518.6,140.9 518.8,141.2 519.0,141.6 519.3,141.9 519.5,142.2 519.8,142.5 520.0,142.9 520.2,143.2 520.5,143.5 520.7,143.8 520.9,144.1 521.2,144.4 521.4,144.7 521.6,145.1 521.9,145.4 522.1,145.7 522.3,146.0 522.6,146.2 522.8,146.5 523.0,146.8 523.3,147.1 523.5,147.4 523.7,147.7 524.0,147.9 524.2,148.2 524.4,148.5 524.7,148.8 524.9,149.0 525.1,149.3 525.4,149.5 525.6,149.8 525.8,150.0 526.1,150.3 526.3,150.5 526.5,150.7 526.8,151.0 527.0,151.2" fill="none" stroke="#e87474" stroke-width="0.9" stroke-opacity="1" stroke-linejoin="round" />
<path d="M410.3,73.6 410.8,67.4 411.2,69.2 411.7,70.7 412.1,67.4 412.6,70.1 413.0,70.4 413.5,65.4 413.9,74.0 414.4,73.0 414.8,69.7 415.3,71.4 415.7,73.8 416.2,71.8 416.6,72.2 417.1,68.8 417.5,75.0 418.0,73.8 418.4,74.3 418.9,68.9 419.3,78.3 419.8,73.7 420.2,71.9 420.7,79.0 421.1,72.6 421.6,68.1 422.0,71.0 422.5,65.0 422.9,74.5 423.4,69.5 423.8,67.8 424.3,72.5 424.7,63.4 425.2,69.1 425.6,60.4 426.1,63.7 426.5,61.2 427.0,68.4 427.4,68.4 427.9,61.3 428.3,63.8 428.8,59.8 429.2,61.1 429.7,56.2 430.1,52.3 430.6,51.0 431.0,56.5 431.5,61.1 431.9,54.0 432.4,50.5 432.8,56.7 433.3,50.5 433.7,48.9 434.2,48.1 434.6,45.8 435.1,44.0 435.5,39.4 436.0,44.0 436.4,41.0 436.9,43.6 437.3,37.6 437.8,31.7 438.2,35.9 438.7,40.3 439.1,33.1 439.6,30.6 440.0,28.8 440.5,28.5 440.9,30.2 441.4,27.5 441.8,35.7 442.3,30.7 442.7,32.3 443.2,36.9 443.6,37.8 444.1,33.9 444.5,37.3 445.0,40.7 445.4,40.3 445.9,37.9 446.3,47.4 446.8,50.1 447.2,50.5 447.7,48.3 448.1,52.3 448.6,52.9 449.0,55.6 449.5,62.1 450.0,64.6 450.4,63.8 450.9,65.3 451.3,67.4 451.8,67.2 452.2,68.8 452.7,68.8 453.1,72.5 453.6,81.2 454.0,78.8 454.5,77.0 454.9,78.4 455.4,79.1 455.8,84.7 456.3,86.5 456.7,82.7 457.2,90.1 457.6,88.4 458.1,95.9 458.5,93.5 459.0,99.6 459.4,94.4 459.9,96.1 460.3,99.0 460.8,102.2 461.2,101.7 461.7,97.3 462.1,102.4 462.6,102.7 463.0,102.1 463.5,102.0 463.9,109.7 464.4,103.6 464.8,102.6 465.3,107.4 465.7,106.1 466.2,105.7 466.6,108.5 467.1,107.7 467.5,107.4 468.0,109.1 468.4,106.9 468.9,104.0 469.3,104.4 469.8,103.6 470.2,105.4 470.7,101.1 471.1,98.2 471.6,103.1 472.0,97.8 472.5,94.8 472.9,100.6 473.4,96.2 473.8,98.7 474.3,94.4 474.7,91.4 475.2,89.8 475.6,90.6 476.1,89.8 476.5,86.6 477.0,86.4 477.4,80.4 477.9,82.6 478.3,74.6 478.8,76.7 479.2,76.6 479.7,75.2 480.1,74.3 480.6,61.6 481.0,65.6 481.5,64.1 481.9,60.6 482.4,52.2 482.8,53.8 483.3,55.7 483.7,43.2 484.2,46.8 484.6,46.6 485.1,39.3 485.5,41.6 486.0,35.2 486.4,34.5 486.9,33.2 487.3,35.1 487.8,33.5 488.3,36.2 488.7,30.5 489.2,33.2 489.6,37.0 490.1,36.4 490.5,31.6 491.0,38.4 491.4,36.3 491.9,40.9 492.3,43.3 492.8,48.9 493.2,48.4 493.7,45.4 494.1,50.1 494.6,59.9 495.0,60.5 495.5,68.1 495.9,68.9 496.4,69.1 496.8,77.9 497.3,75.5 497.7,74.9 498.2,90.1 498.6,80.7 499.1,90.8 499.5,94.0 500.0,93.7 500.4,90.2 500.9,100.2 501.3,94.6 501.8,96.6 502.2,101.1 502.7,106.1 503.1,106.1 503.6,109.1 504.0,106.7 504.5,108.8 504.9,107.2 505.4,110.8 505.8,114.7 506.3,113.1 506.7,116.6 507.2,114.5 507.6,115.5 508.1,118.5 508.5,118.8 509.0,122.3 509.4,122.2 509.9,128.0 510.3,123.3 510.8,124.5 511.2,123.3 511.7,127.7 512.1,130.8 512.6,127.7 513.0,130.9 513.5,134.2 513.9,132.7 514.4,132.4 514.8,137.7 515.3,135.9 515.7,137.6 516.2,140.7 516.6,141.4 517.1,137.6 517.5,137.8 518.0,140.9 518.4,140.3 518.9,135.6 519.3,145.8 519.8,142.7 520.2,145.4 520.7,140.3 521.1,148.3 521.6,143.3 522.0,145.3 522.5,142.0 522.9,146.2 523.4,146.6 523.8,147.3 524.3,149.7 524.7,149.0 525.2,152.3 525.6,148.4 526.1,147.3 526.5,150.7 527.0,153.1" fill="none" stroke="#222" stroke-width="0.75" stroke-opacity="1.0" stroke-linejoin="round" />
<path d="M410.3,262.7 410.7,264.9 411.2,259.0 411.6,260.3 412.1,258.6 412.5,268.1 413.0,266.9 413.4,267.9 413.9,265.1 414.3,265.5 414.8,261.1 415.2,267.3 415.7,261.2 416.1,262.1 416.6,262.6 417.0,261.7 417.5,265.0 417.9,262.7 418.4,263.0 418.8,262.6 419.3,265.6 419.7,261.5 420.2,262.0 420.6,262.8 421.1,258.2 421.5,260.0 422.0,261.6 422.4,262.4 422.9,259.9 423.3,257.7 423.8,261.4 424.2,257.5 424.7,257.4 425.1,257.0 425.6,255.9 426.0,254.2 426.5,255.5 426.9,251.4 427.4,251.9 427.8,251.1 428.3,248.9 428.7,249.8 429.2,248.2 429.6,246.0 430.1,243.3 430.5,242.3 431.0,242.3 431.4,238.8 431.9,228.6 432.3,235.3 432.8,227.4 433.2,225.8 433.7,227.8 434.1,223.1 434.6,227.2 435.0,223.8 435.5,219.1 435.9,215.7 436.4,217.8 436.8,217.9 437.3,213.9 437.7,215.9 438.2,211.7 438.6,211.0 439.1,207.7 439.5,208.1 440.0,205.8 440.4,201.6 440.9,209.6 441.3,203.8 441.8,204.0 442.2,206.5 442.7,204.3 443.1,204.8 443.6,205.7 444.0,203.1 444.5,209.0 444.9,207.9 445.4,208.0 445.8,213.5 446.3,215.1 446.7,214.9 447.2,219.6 447.6,222.0 448.1,225.4 448.5,228.3 449.0,231.7 449.4,230.4 449.9,235.3 450.3,235.9 450.8,241.1 451.2,239.7 451.7,240.3 452.1,246.1 452.6,254.4 453.0,253.9 453.5,254.1 453.9,261.1 454.4,258.0 454.8,260.1 455.3,264.2 455.7,265.0 456.2,266.2 456.6,267.4 457.1,270.0 457.5,274.0 458.0,270.9 458.4,273.6 458.9,278.8 459.3,282.2 459.8,274.4 460.2,279.8 460.7,283.1 461.1,280.1 461.6,280.1 462.0,284.4 462.5,281.3 462.9,281.5 463.4,282.2 463.8,281.0 464.3,279.4 464.7,286.7 465.2,287.9 465.6,284.9 466.1,283.9 466.5,285.2 467.0,283.7 467.4,280.3 467.9,281.2 468.3,284.2 468.8,282.2 469.2,279.5 469.7,279.4 470.1,283.7 470.6,278.2 471.0,283.0 471.5,281.1 471.9,277.4 472.4,277.9 472.8,278.0 473.3,277.4 473.7,276.2 474.2,277.5 474.6,275.3 475.1,271.0 475.5,270.2 476.0,267.1 476.4,266.2 476.9,265.5 477.3,258.7 477.8,261.3 478.2,258.3 478.7,254.9 479.1,249.8 479.6,248.4 480.0,245.4 480.5,244.3 480.9,236.9 481.4,238.2 481.8,236.4 482.3,229.7 482.7,225.1 483.2,224.0 483.6,223.5 484.1,215.7 484.5,212.2 485.0,207.4 485.4,205.5 485.9,202.2 486.3,196.9 486.8,197.8 487.2,197.4 487.7,192.8 488.1,184.5 488.6,192.0 489.0,195.6 489.5,194.1 489.9,199.0 490.4,197.8 490.8,196.3 491.3,194.6 491.7,200.0 492.2,203.4 492.6,205.0 493.1,208.4 493.5,214.4 494.0,215.7 494.4,219.8 494.9,217.6 495.3,223.7 495.8,229.6 496.2,228.8 496.7,238.0 497.1,235.2 497.6,240.1 498.0,248.0 498.5,244.0 498.9,253.3 499.4,252.4 499.8,255.8 500.3,261.2 500.7,264.0 501.2,268.1 501.6,269.3 502.1,271.4 502.5,271.7 503.0,276.6 503.4,273.0 503.9,281.0 504.3,281.9 504.8,285.8 505.2,287.4 505.7,283.3 506.1,288.8 506.6,287.4 507.0,289.4 507.5,293.4 507.9,294.1 508.4,295.4 508.8,295.5 509.3,297.2 509.7,295.7 510.2,297.6 510.6,301.0 511.1,298.3 511.5,300.1 512.0,303.6 512.4,302.7 512.9,301.8 513.3,304.7 513.8,307.3 514.2,303.3 514.7,302.8 515.1,306.7 515.6,305.2 516.0,306.8 516.5,306.9 516.9,306.7 517.4,308.9 517.8,309.8 518.3,307.7 518.7,312.3 519.2,313.4 519.6,310.8 520.1,311.9 520.5,315.0 521.0,309.8 521.4,310.7 521.9,312.5 522.3,313.6 522.8,315.3 523.2,315.0 523.7,311.2 524.1,317.5 524.6,318.2 525.0,314.2 525.5,317.7 525.9,315.7 526.4,316.6 526.8,316.4" fill="none" stroke="#222" stroke-width="0.65" stroke-opacity="1.0" stroke-linejoin="round" />
<path d="M410.3,262.5 410.5,262.6 410.8,262.7 411.0,262.8 411.2,262.9 411.5,263.0 411.7,263.1 411.9,263.1 412.2,263.2 412.4,263.3 412.6,263.3 412.9,263.4 413.1,263.4 413.3,263.5 413.6,263.5 413.8,263.5 414.0,263.5 414.3,263.5 414.5,263.5 414.7,263.5 415.0,263.5 415.2,263.5 415.4,263.5 415.7,263.4 415.9,263.4 416.1,263.4 416.4,263.4 416.6,263.4 416.8,263.3 417.1,263.3 417.3,263.3 417.5,263.3 417.8,263.2 418.0,263.2 418.2,263.2 418.5,263.1 418.7,263.1 418.9,263.0 419.2,263.0 419.4,262.9 419.6,262.8 419.9,262.6 420.1,262.5 420.3,262.2 420.6,262.0 420.8,261.8 421.0,261.5 421.3,261.3 421.5,261.0 421.7,260.8 422.0,260.5 422.2,260.3 422.4,260.1 422.7,259.8 422.9,259.6 423.1,259.3 423.4,259.0 423.6,258.7 423.8,258.4 424.1,258.1 424.3,257.8 424.5,257.5 424.8,257.2 425.0,256.8 425.2,256.5 425.5,256.2 425.7,255.8 425.9,255.5 426.2,255.1 426.4,254.7 426.6,254.3 426.9,253.9 427.1,253.4 427.3,253.0 427.6,252.5 427.8,252.0 428.0,251.4 428.3,250.8 428.5,250.2 428.7,249.6 429.0,248.8 429.2,247.9 429.4,246.8 429.7,245.7 429.9,244.5 430.1,243.3 430.4,242.1 430.6,240.8 430.8,239.6 431.1,238.5 431.3,237.4 431.5,236.4 431.8,235.4 432.0,234.4 432.2,233.4 432.5,232.5 432.7,231.5 432.9,230.5 433.2,229.6 433.4,228.7 433.6,227.8 433.9,226.8 434.1,225.9 434.3,225.0 434.6,224.1 434.8,223.2 435.0,222.4 435.3,221.5 435.5,220.6 435.7,219.7 436.0,218.8 436.2,217.9 436.4,216.9 436.7,216.0 436.9,215.1 437.1,214.2 437.4,213.4 437.6,212.5 437.8,211.7 438.1,211.0 438.3,210.3 438.5,209.6 438.8,209.0 439.0,208.5 439.2,207.9 439.5,207.4 439.7,206.9 440.0,206.4 440.2,205.9 440.4,205.4 440.7,205.0 440.9,204.6 441.1,204.3 441.4,204.1 441.6,203.9 441.8,203.8 442.1,203.8 442.3,203.9 442.5,203.9 442.8,204.1 443.0,204.2 443.2,204.4 443.5,204.7 443.7,204.9 443.9,205.2 444.2,205.5 444.4,205.8 444.6,206.2 444.9,206.9 445.1,207.8 445.3,208.8 445.6,210.1 445.8,211.4 446.0,212.8 446.3,214.2 446.5,215.5 446.7,216.7 447.0,218.0 447.2,219.4 447.4,220.7 447.7,222.1 447.9,223.6 448.1,225.0 448.4,226.4 448.6,227.9 448.8,229.3 449.1,230.7 449.3,232.0 449.5,233.3 449.8,234.6 450.0,235.9 450.2,237.1 450.5,238.4 450.7,239.6 450.9,240.8 451.2,242.0 451.4,243.2 451.6,244.4 451.9,245.6 452.1,246.8 452.3,248.0 452.6,249.2 452.8,250.4 453.0,251.6 453.3,252.8 453.5,254.0 453.7,255.2 454.0,256.3 454.2,257.5 454.4,258.6 454.7,259.7 454.9,260.8 455.1,261.8 455.4,262.8 455.6,263.8 455.8,264.8 456.1,265.9 456.3,266.9 456.5,267.9 456.8,268.9 457.0,269.8 457.2,270.8 457.5,271.7 457.7,272.6 457.9,273.4 458.2,274.2 458.4,274.9 458.6,275.5 458.9,276.1 459.1,276.6 459.3,277.2 459.6,277.7 459.8,278.1 460.0,278.6 460.3,279.1 460.5,279.5 460.7,279.9 461.0,280.3 461.2,280.7 461.4,281.0 461.7,281.4 461.9,281.7 462.1,282.0 462.4,282.3 462.6,282.6 462.8,282.8 463.1,283.1 463.3,283.3 463.5,283.5 463.8,283.7 464.0,283.9 464.2,284.1 464.5,284.3 464.7,284.4 464.9,284.5 465.2,284.5 465.4,284.5 465.6,284.5 465.9,284.4 466.1,284.3 466.3,284.3 466.6,284.2 466.8,284.1 467.0,284.0 467.3,283.9 467.5,283.8 467.7,283.7 468.0,283.6 468.2,283.4 468.4,283.3 468.7,283.1 468.9,282.9 469.1,282.7 469.4,282.5 469.6,282.3 469.8,282.1 470.1,281.9 470.3,281.6 470.5,281.4 470.8,281.1 471.0,280.8 471.2,280.4 471.5,280.1 471.7,279.7 471.9,279.3 472.2,278.9 472.4,278.5 472.6,278.0 472.9,277.6 473.1,277.1 473.3,276.6 473.6,276.1 473.8,275.5 474.0,275.0 474.3,274.4 474.5,273.8 474.7,273.1 475.0,272.4 475.2,271.6 475.4,270.9 475.7,270.1 475.9,269.2 476.1,268.3 476.4,267.4 476.6,266.5 476.8,265.5 477.1,264.5 477.3,263.4 477.5,262.3 477.8,261.1 478.0,259.7 478.2,258.3 478.5,256.7 478.7,255.2 478.9,253.6 479.2,252.1 479.4,250.6 479.6,249.2 479.9,247.8 480.1,246.5 480.3,245.2 480.6,243.9 480.8,242.5 481.0,241.1 481.3,239.6 481.5,237.9 481.7,236.1 482.0,234.2 482.2,232.0 482.4,229.8 482.7,227.4 482.9,225.1 483.1,222.8 483.4,220.5 483.6,218.3 483.8,216.3 484.1,214.4 484.3,212.5 484.5,210.7 484.8,208.8 485.0,207.0 485.2,205.2 485.5,203.5 485.7,202.0 485.9,200.6 486.2,199.4 486.4,198.3 486.6,197.5 486.9,196.7 487.1,195.9 487.3,195.1 487.6,194.5 487.8,193.9 488.0,193.5 488.3,193.3 488.5,193.3 488.7,193.4 489.0,193.6 489.2,193.8 489.4,194.1 489.7,194.5 489.9,194.9 490.1,195.3 490.4,195.8 490.6,196.2 490.8,196.9 491.1,197.7 491.3,198.7 491.5,199.8 491.8,201.0 492.0,202.3 492.2,203.6 492.5,205.0 492.7,206.4 492.9,207.7 493.2,209.0 493.4,210.4 493.6,211.9 493.9,213.5 494.1,215.0 494.3,216.7 494.6,218.3 494.8,220.0 495.0,221.7 495.3,223.4 495.5,225.1 495.7,226.9 496.0,228.6 496.2,230.5 496.4,232.4 496.7,234.3 496.9,236.2 497.1,238.1 497.4,240.0 497.6,241.9 497.9,243.7 498.1,245.6 498.3,247.3 498.6,249.1 498.8,250.8 499.0,252.5 499.3,254.2 499.5,255.9 499.7,257.5 500.0,259.1 500.2,260.6 500.4,262.2 500.7,263.7 500.9,265.2 501.1,266.7 501.4,268.2 501.6,269.5 501.8,270.8 502.1,272.0 502.3,273.1 502.5,274.2 502.8,275.2 503.0,276.2 503.2,277.2 503.5,278.2 503.7,279.1 503.9,280.0 504.2,280.9 504.4,281.8 504.6,282.6 504.9,283.4 505.1,284.3 505.3,285.0 505.6,285.8 505.8,286.6 506.0,287.3 506.3,288.1 506.5,288.9 506.7,289.6 507.0,290.3 507.2,291.1 507.4,291.8 507.7,292.5 507.9,293.2 508.1,293.8 508.4,294.5 508.6,295.1 508.8,295.8 509.1,296.4 509.3,296.9 509.5,297.5 509.8,298.0 510.0,298.6 510.2,299.1 510.5,299.5 510.7,300.0 510.9,300.4 511.2,300.8 511.4,301.2 511.6,301.6 511.9,302.0 512.1,302.4 512.3,302.7 512.6,303.1 512.8,303.4 513.0,303.7 513.3,304.1 513.5,304.4 513.7,304.7 514.0,305.0 514.2,305.3 514.4,305.6 514.7,305.9 514.9,306.2 515.1,306.5 515.4,306.7 515.6,307.0 515.8,307.3 516.1,307.6 516.3,307.8 516.5,308.1 516.8,308.4 517.0,308.6 517.2,308.9 517.5,309.1 517.7,309.4 517.9,309.6 518.2,309.9 518.4,310.1 518.6,310.3 518.9,310.6 519.1,310.8 519.3,311.0 519.6,311.2 519.8,311.4 520.0,311.7 520.3,311.9 520.5,312.1 520.7,312.3 521.0,312.5 521.2,312.7 521.4,313.0 521.7,313.2 521.9,313.4 522.1,313.6 522.4,313.8 522.6,314.1 522.8,314.3 523.1,314.5 523.3,314.7 523.5,315.0 523.8,315.2 524.0,315.4 524.2,315.6 524.5,315.8 524.7,316.1 524.9,316.3 525.2,316.5 525.4,316.7 525.6,316.9 525.9,317.1 526.1,317.4 526.3,317.6 526.6,317.8 526.8,318.0" fill="none" stroke="#e87474" stroke-width="0.9" stroke-opacity="1" stroke-linejoin="round" />
<path d="M410.3,262.1 410.5,262.2 410.8,262.3 411.0,262.5 411.2,262.6 411.5,262.7 411.7,262.8 411.9,262.9 412.2,263.0 412.4,263.2 412.6,263.3 412.9,263.4 413.1,263.5 413.3,263.6 413.6,263.7 413.8,263.9 414.0,264.0 414.3,264.1 414.5,264.2 414.7,264.3 415.0,264.4 415.2,264.6 415.4,264.7 415.7,264.8 415.9,264.9 416.1,265.0 416.4,265.1 416.6,265.3 416.8,265.4 417.1,265.5 417.3,265.6 417.5,265.7 417.8,265.8 418.0,266.0 418.2,266.1 418.5,266.2 418.7,266.3 418.9,266.4 419.2,266.5 419.4,266.7 419.6,266.8 419.9,266.9 420.1,267.0 420.3,267.1 420.6,267.2 420.8,267.4 421.0,267.5 421.3,267.6 421.5,267.7 421.7,267.8 422.0,267.9 422.2,268.1 422.4,268.2 422.7,268.3 422.9,268.4 423.1,268.5 423.4,268.6 423.6,268.7 423.8,268.9 424.1,269.0 424.3,269.1 424.5,269.2 424.8,269.3 425.0,269.4 425.2,269.5 425.5,269.7 425.7,269.8 425.9,269.9 426.2,270.0 426.4,270.1 426.6,270.2 426.9,270.3 427.1,270.5 427.3,270.6 427.6,270.7 427.8,270.8 428.0,270.9 428.3,271.0 428.5,271.1 428.7,271.3 429.0,271.4 429.2,271.5 429.4,271.6 429.7,271.7 429.9,271.9 430.1,272.0 430.4,272.1 430.6,272.2 430.8,272.3 431.1,272.5 431.3,272.6 431.5,272.7 431.8,272.9 432.0,273.0 432.2,273.1 432.5,273.2 432.7,273.4 432.9,273.5 433.2,273.6 433.4,273.8 433.6,273.9 433.9,274.0 434.1,274.2 434.3,274.3 434.6,274.4 434.8,274.6 435.0,274.7 435.3,274.8 435.5,275.0 435.7,275.1 436.0,275.2 436.2,275.4 436.4,275.5 436.7,275.7 436.9,275.8 437.1,276.0 437.4,276.1 437.6,276.2 437.8,276.4 438.1,276.5 438.3,276.7 438.5,276.8 438.8,277.0 439.0,277.1 439.2,277.3 439.5,277.5 439.7,277.6 440.0,277.8 440.2,277.9 440.4,278.1 440.7,278.2 440.9,278.4 441.1,278.6 441.4,278.8 441.6,278.9 441.8,279.1 442.1,279.3 442.3,279.5 442.5,279.7 442.8,279.9 443.0,280.1 443.2,280.3 443.5,280.5 443.7,280.7 443.9,280.9 444.2,281.1 444.4,281.3 444.6,281.5 444.9,281.7 445.1,281.9 445.3,282.1 445.6,282.3 445.8,282.4 446.0,282.6 446.3,282.8 446.5,283.0 446.7,283.2 447.0,283.4 447.2,283.6 447.4,283.8 447.7,283.9 447.9,284.1 448.1,284.3 448.4,284.4 448.6,284.6 448.8,284.8 449.1,284.9 449.3,285.1 449.5,285.2 449.8,285.3 450.0,285.5 450.2,285.6 450.5,285.8 450.7,285.9 450.9,286.0 451.2,286.2 451.4,286.3 451.6,286.4 451.9,286.6 452.1,286.7 452.3,286.8 452.6,287.0 452.8,287.1 453.0,287.2 453.3,287.3 453.5,287.5 453.7,287.6 454.0,287.7 454.2,287.8 454.4,287.9 454.7,288.1 454.9,288.2 455.1,288.3 455.4,288.4 455.6,288.5 455.8,288.6 456.1,288.7 456.3,288.8 456.5,288.9 456.8,289.0 457.0,289.1 457.2,289.2 457.5,289.3 457.7,289.4 457.9,289.5 458.2,289.6 458.4,289.6 458.6,289.7 458.9,289.8 459.1,289.9 459.3,290.0 459.6,290.0 459.8,290.1 460.0,290.2 460.3,290.2 460.5,290.3 460.7,290.4 461.0,290.4 461.2,290.5 461.4,290.6 461.7,290.6 461.9,290.7 462.1,290.7 462.4,290.8 462.6,290.9 462.8,290.9 463.1,291.0 463.3,291.0 463.5,291.1 463.8,291.2 464.0,291.2 464.2,291.3 464.5,291.4 464.7,291.4 464.9,291.5 465.2,291.6 465.4,291.6 465.6,291.7 465.9,291.8 466.1,291.9 466.3,291.9 466.6,292.0 466.8,292.1 467.0,292.2 467.3,292.3 467.5,292.4 467.7,292.5 468.0,292.6 468.2,292.7 468.4,292.8 468.7,292.9 468.9,293.0 469.1,293.1 469.4,293.2 469.6,293.3 469.8,293.4 470.1,293.5 470.3,293.6 470.5,293.7 470.8,293.9 471.0,294.0 471.2,294.1 471.5,294.2 471.7,294.3 471.9,294.5 472.2,294.6 472.4,294.7 472.6,294.8 472.9,295.0 473.1,295.1 473.3,295.2 473.6,295.3 473.8,295.5 474.0,295.6 474.3,295.7 474.5,295.8 474.7,296.0 475.0,296.1 475.2,296.2 475.4,296.4 475.7,296.5 475.9,296.6 476.1,296.7 476.4,296.9 476.6,297.0 476.8,297.1 477.1,297.3 477.3,297.4 477.5,297.5 477.8,297.7 478.0,297.8 478.2,297.9 478.5,298.1 478.7,298.2 478.9,298.3 479.2,298.5 479.4,298.6 479.6,298.7 479.9,298.9 480.1,299.0 480.3,299.2 480.6,299.3 480.8,299.4 481.0,299.6 481.3,299.7 481.5,299.9 481.7,300.0 482.0,300.2 482.2,300.3 482.4,300.5 482.7,300.6 482.9,300.8 483.1,300.9 483.4,301.1 483.6,301.2 483.8,301.4 484.1,301.5 484.3,301.7 484.5,301.8 484.8,302.0 485.0,302.1 485.2,302.3 485.5,302.5 485.7,302.6 485.9,302.8 486.2,303.0 486.4,303.1 486.6,303.3 486.9,303.5 487.1,303.7 487.3,303.8 487.6,304.0 487.8,304.2 488.0,304.4 488.3,304.5 488.5,304.7 488.7,304.9 489.0,305.1 489.2,305.3 489.4,305.4 489.7,305.6 489.9,305.8 490.1,306.0 490.4,306.2 490.6,306.3 490.8,306.5 491.1,306.7 491.3,306.9 491.5,307.0 491.8,307.2 492.0,307.4 492.2,307.5 492.5,307.7 492.7,307.9 492.9,308.0 493.2,308.2 493.4,308.4 493.6,308.6 493.9,308.7 494.1,308.9 494.3,309.1 494.6,309.2 494.8,309.4 495.0,309.6 495.3,309.7 495.5,309.9 495.7,310.1 496.0,310.2 496.2,310.4 496.4,310.5 496.7,310.7 496.9,310.8 497.1,311.0 497.4,311.1 497.6,311.3 497.9,311.4 498.1,311.5 498.3,311.7 498.6,311.8 498.8,311.9 499.0,312.1 499.3,312.2 499.5,312.3 499.7,312.4 500.0,312.6 500.2,312.7 500.4,312.8 500.7,312.9 500.9,313.1 501.1,313.2 501.4,313.3 501.6,313.4 501.8,313.5 502.1,313.6 502.3,313.7 502.5,313.8 502.8,313.9 503.0,314.0 503.2,314.1 503.5,314.2 503.7,314.3 503.9,314.4 504.2,314.4 504.4,314.5 504.6,314.6 504.9,314.6 505.1,314.7 505.3,314.8 505.6,314.8 505.8,314.9 506.0,314.9 506.3,315.0 506.5,315.1 506.7,315.1 507.0,315.2 507.2,315.2 507.4,315.3 507.7,315.3 507.9,315.4 508.1,315.4 508.4,315.5 508.6,315.5 508.8,315.6 509.1,315.6 509.3,315.7 509.5,315.7 509.8,315.8 510.0,315.8 510.2,315.9 510.5,315.9 510.7,316.0 510.9,316.0 511.2,316.0 511.4,316.1 511.6,316.1 511.9,316.2 512.1,316.2 512.3,316.2 512.6,316.3 512.8,316.3 513.0,316.4 513.3,316.4 513.5,316.4 513.7,316.5 514.0,316.5 514.2,316.5 514.4,316.6 514.7,316.6 514.9,316.6 515.1,316.7 515.4,316.7 515.6,316.7 515.8,316.8 516.1,316.8 516.3,316.8 516.5,316.9 516.8,316.9 517.0,316.9 517.2,317.0 517.5,317.0 517.7,317.0 517.9,317.1 518.2,317.1 518.4,317.1 518.6,317.2 518.9,317.2 519.1,317.2 519.3,317.2 519.6,317.3 519.8,317.3 520.0,317.3 520.3,317.4 520.5,317.4 520.7,317.4 521.0,317.4 521.2,317.5 521.4,317.5 521.7,317.5 521.9,317.6 522.1,317.6 522.4,317.6 522.6,317.6 522.8,317.7 523.1,317.7 523.3,317.7 523.5,317.7 523.8,317.7 524.0,317.8 524.2,317.8 524.5,317.8 524.7,317.8 524.9,317.9 525.2,317.9 525.4,317.9 525.6,317.9 525.9,317.9 526.1,317.9 526.3,318.0 526.6,318.0 526.8,318.0" fill="none" stroke="#7a62e0" stroke-width="0.85" stroke-opacity="1.0" stroke-linejoin="round" />
<path d="M447.0,282.3 447.2,282.5 447.4,282.6 447.7,282.7 447.9,282.8 448.1,282.9 448.4,282.9 448.6,283.0 448.8,283.1 449.1,283.2 449.3,283.2 449.5,283.3 449.8,283.3 450.0,283.4 450.2,283.4 450.5,283.5 450.7,283.5 450.9,283.6 451.2,283.6 451.4,283.6 451.6,283.7 451.9,283.7 452.1,283.7 452.3,283.8 452.6,283.8 452.8,283.8 453.0,283.9 453.3,283.9 453.5,283.9 453.7,284.0 454.0,284.0 454.2,284.0 454.4,284.1 454.7,284.1 454.9,284.2 455.1,284.2 455.4,284.2 455.6,284.3 455.8,284.3 456.1,284.4 456.3,284.5 456.5,284.5 456.8,284.6 457.0,284.7 457.2,284.7 457.5,284.8 457.7,284.9 457.9,285.0 458.2,285.1 458.4,285.2 458.6,285.2 458.9,285.3 459.1,285.4 459.3,285.5 459.6,285.7 459.8,285.8 460.0,285.9 460.3,286.0 460.5,286.1 460.7,286.2 461.0,286.4 461.2,286.5 461.4,286.6 461.7,286.8 461.9,286.9 462.1,287.1 462.4,287.2 462.6,287.4 462.8,287.5 463.1,287.7 463.3,287.8 463.5,288.0 463.8,288.1 464.0,288.3 464.2,288.4 464.5,288.6 464.7,288.8 464.9,288.9 465.2,289.1 465.4,289.3 465.6,289.4 465.9,289.6 466.1,289.8 466.3,290.0 466.6,290.1 466.8,290.3 467.0,290.5 467.3,290.6 467.5,290.8 467.7,291.0 468.0,291.2 468.2,291.3 468.4,291.5 468.7,291.7 468.9,291.9 469.1,292.0" fill="none" stroke="#d59ad8" stroke-width="0.95" stroke-opacity="1.0" stroke-linejoin="round" />
<path d="M489.0,304.0 489.2,304.2 489.4,304.3 489.7,304.4 489.9,304.5 490.1,304.6 490.4,304.7 490.6,304.8 490.8,304.9 491.1,305.0 491.3,305.1 491.5,305.2 491.8,305.3 492.0,305.4 492.2,305.4 492.5,305.5 492.7,305.6 492.9,305.7 493.2,305.8 493.4,305.9 493.6,305.9 493.9,306.0 494.1,306.1 494.3,306.2 494.6,306.3 494.8,306.3 495.0,306.4 495.3,306.5 495.5,306.6 495.7,306.6 496.0,306.7 496.2,306.8 496.4,306.8 496.7,306.9 496.9,306.9 497.1,306.9 497.4,307.0 497.6,307.0 497.9,307.0 498.1,307.0 498.3,307.0 498.6,307.0 498.8,307.0 499.0,307.0 499.3,307.0 499.5,307.0 499.7,307.0 500.0,307.0 500.2,307.0 500.4,307.0 500.7,307.0 500.9,306.9 501.1,306.9 501.4,306.9 501.6,306.9 501.8,306.9 502.1,306.9 502.3,306.8 502.5,306.8 502.8,306.8 503.0,306.8 503.2,306.8 503.5,306.8 503.7,306.8 503.9,306.8 504.2,306.8 504.4,306.9 504.6,306.9 504.9,306.9 505.1,307.0 505.3,307.0 505.6,307.1 505.8,307.2 506.0,307.3 506.3,307.4 506.5,307.5 506.7,307.6 507.0,307.7 507.2,307.9 507.4,308.0 507.7,308.2 507.9,308.4 508.1,308.6 508.4,308.8 508.6,309.0 508.8,309.2 509.1,309.4 509.3,309.6 509.5,309.8 509.8,310.0 510.0,310.3 510.2,310.5 510.5,310.7 510.7,311.0 510.9,311.2 511.2,311.4 511.4,311.7 511.6,311.9 511.9,312.1 512.1,312.4 512.3,312.6 512.6,312.8 512.8,313.0 513.0,313.3 513.3,313.5 513.5,313.7 513.7,313.9 514.0,314.1 514.2,314.3 514.4,314.4 514.7,314.6 514.9,314.8 515.1,314.9 515.4,315.1 515.6,315.3 515.8,315.4 516.1,315.5 516.3,315.7 516.5,315.8 516.8,315.9" fill="none" stroke="#8a6ee0" stroke-width="0.95" stroke-opacity="1.0" stroke-linejoin="round" />
<path d="M410.3,260.1 410.5,260.2 410.8,260.3 411.0,260.3 411.2,260.4 411.5,260.5 411.7,260.6 411.9,260.7 412.2,260.7 412.4,260.8 412.6,260.9 412.9,261.0 413.1,261.0 413.3,261.1 413.6,261.2 413.8,261.2 414.0,261.3 414.3,261.4 414.5,261.4 414.7,261.5 415.0,261.5 415.2,261.6 415.4,261.6 415.7,261.7 415.9,261.7 416.1,261.7 416.4,261.8 416.6,261.8 416.8,261.8 417.1,261.8 417.3,261.9 417.5,261.9 417.8,261.9 418.0,261.9 418.2,261.9 418.5,261.8 418.7,261.8 418.9,261.8 419.2,261.8 419.4,261.7 419.6,261.7 419.9,261.6 420.1,261.6 420.3,261.5 420.6,261.4 420.8,261.3 421.0,261.2 421.3,261.1 421.5,260.9 421.7,260.8 422.0,260.7 422.2,260.5 422.4,260.3 422.7,260.1 422.9,259.9 423.1,259.7 423.4,259.5 423.6,259.2 423.8,258.9 424.1,258.7 424.3,258.4 424.5,258.0 424.8,257.7 425.0,257.3 425.2,257.0 425.5,256.6 425.7,256.2 425.9,255.7 426.2,255.3 426.4,254.8 426.6,254.3 426.9,253.8 427.1,253.3 427.3,252.7 427.6,252.1 427.8,251.5 428.0,250.9 428.3,250.3 428.5,249.6 428.7,248.9 429.0,248.2 429.2,247.5 429.4,246.8 429.7,246.0 429.9,245.2 430.1,244.4 430.4,243.6 430.6,242.7 430.8,241.9 431.1,241.0 431.3,240.1 431.5,239.2 431.8,238.3 432.0,237.3 432.2,236.4 432.5,235.4 432.7,234.4 432.9,233.4 433.2,232.4 433.4,231.4 433.6,230.4 433.9,229.3 434.1,228.3 434.3,227.3 434.6,226.2 434.8,225.2 435.0,224.2 435.3,223.1 435.5,222.1 435.7,221.1 436.0,220.1 436.2,219.1 436.4,218.1 436.7,217.2 436.9,216.2 437.1,215.3 437.4,214.4 437.6,213.6 437.8,212.7 438.1,211.9 438.3,211.1 438.5,210.4 438.8,209.7 439.0,209.0 439.2,208.4 439.5,207.9 439.7,207.3 440.0,206.9 440.2,206.5 440.4,206.1 440.7,205.8 440.9,205.6 441.1,205.4 441.4,205.3 441.6,205.2 441.8,205.3 442.1,205.3 442.3,205.5 442.5,205.7 442.8,206.0 443.0,206.4 443.2,206.8 443.5,207.4 443.7,207.9 443.9,208.6 444.2,209.3 444.4,210.1 444.6,211.0 444.9,211.9 445.1,212.9 445.3,213.9 445.6,215.0 445.8,216.1 446.0,217.2 446.3,218.4 446.5,219.7 446.7,220.9 447.0,222.2 447.2,223.5 447.4,224.9 447.7,226.2 447.9,227.6 448.1,229.0 448.4,230.4 448.6,231.8 448.8,233.2 449.1,234.6 449.3,236.1 449.5,237.5 449.8,238.9 450.0,240.3 450.2,241.7 450.5,243.1 450.7,244.4 450.9,245.8 451.2,247.2 451.4,248.5 451.6,249.8 451.9,251.1 452.1,252.4 452.3,253.7 452.6,254.9 452.8,256.1 453.0,257.3 453.3,258.5 453.5,259.7 453.7,260.8 454.0,261.9 454.2,263.0 454.4,264.0 454.7,265.1 454.9,266.0 455.1,267.0 455.4,268.0 455.6,268.9 455.8,269.8 456.1,270.6 456.3,271.5 456.5,272.3 456.8,273.0 457.0,273.8 457.2,274.5 457.5,275.2 457.7,275.9 457.9,276.5 458.2,277.2 458.4,277.8 458.6,278.4 458.9,278.9 459.1,279.4 459.3,280.0 459.6,280.4 459.8,280.9 460.0,281.4 460.3,281.8 460.5,282.2 460.7,282.6 461.0,283.0 461.2,283.3 461.4,283.7 461.7,284.0 461.9,284.3 462.1,284.6 462.4,284.9 462.6,285.2 462.8,285.5 463.1,285.7 463.3,286.0 463.5,286.2 463.8,286.4 464.0,286.7 464.2,286.9 464.5,287.1 464.7,287.3 464.9,287.5 465.2,287.7 465.4,287.9 465.6,288.1 465.9,288.2 466.1,288.4 466.3,288.6 466.6,288.8 466.8,288.9 467.0,289.1 467.3,289.3 467.5,289.4 467.7,289.6 468.0,289.8 468.2,289.9 468.4,290.1 468.7,290.2 468.9,290.4 469.1,290.6 469.4,290.7 469.6,290.9 469.8,291.0 470.1,291.2 470.3,291.4 470.5,291.5 470.8,291.7 471.0,291.8 471.2,292.0 471.5,292.1 471.7,292.3 471.9,292.5 472.2,292.6 472.4,292.8 472.6,292.9 472.9,293.1 473.1,293.2 473.3,293.4 473.6,293.5 473.8,293.7 474.0,293.8 474.3,294.0 474.5,294.1 474.7,294.3 475.0,294.4 475.2,294.6 475.4,294.7 475.7,294.9 475.9,295.0 476.1,295.2 476.4,295.3 476.6,295.5 476.8,295.6 477.1,295.8 477.3,295.9 477.5,296.1 477.8,296.2 478.0,296.4 478.2,296.5 478.5,296.7 478.7,296.8 478.9,297.0 479.2,297.1 479.4,297.3 479.6,297.5 479.9,297.6 480.1,297.8 480.3,297.9 480.6,298.1 480.8,298.2 481.0,298.4 481.3,298.5 481.5,298.7" fill="none" stroke="#6cc8d8" stroke-width="0.95" stroke-opacity="1.0" stroke-linejoin="round" />
<path d="M449.8,284.2 450.0,284.3 450.2,284.4 450.5,284.6 450.7,284.7 450.9,284.8 451.2,284.9 451.4,285.0 451.6,285.2 451.9,285.3 452.1,285.4 452.3,285.5 452.6,285.6 452.8,285.7 453.0,285.8 453.3,285.9 453.5,286.1 453.7,286.2 454.0,286.3 454.2,286.4 454.4,286.5 454.7,286.5 454.9,286.6 455.1,286.7 455.4,286.8 455.6,286.9 455.8,287.0 456.1,287.1 456.3,287.2 456.5,287.2 456.8,287.3 457.0,287.4 457.2,287.4 457.5,287.5 457.7,287.6 457.9,287.6 458.2,287.7 458.4,287.8 458.6,287.8 458.9,287.9 459.1,287.9 459.3,288.0 459.6,288.0 459.8,288.0 460.0,288.1 460.3,288.1 460.5,288.1 460.7,288.2 461.0,288.2 461.2,288.2 461.4,288.2 461.7,288.3 461.9,288.3 462.1,288.3 462.4,288.3 462.6,288.3 462.8,288.4 463.1,288.4 463.3,288.4 463.5,288.4 463.8,288.4 464.0,288.4 464.2,288.4 464.5,288.4 464.7,288.4 464.9,288.4 465.2,288.4 465.4,288.4 465.6,288.4 465.9,288.4 466.1,288.4 466.3,288.4 466.6,288.4 466.8,288.4 467.0,288.4 467.3,288.4 467.5,288.4 467.7,288.3 468.0,288.3 468.2,288.3 468.4,288.2 468.7,288.2 468.9,288.1 469.1,288.0 469.4,288.0 469.6,287.9 469.8,287.8 470.1,287.7 470.3,287.6 470.5,287.4 470.8,287.3 471.0,287.1 471.2,286.9 471.5,286.7 471.7,286.5 471.9,286.2 472.2,285.9 472.4,285.6 472.6,285.3 472.9,284.9 473.1,284.5 473.3,284.1 473.6,283.7 473.8,283.2 474.0,282.7 474.3,282.1 474.5,281.5 474.7,280.8 475.0,280.1 475.2,279.4 475.4,278.6 475.7,277.8 475.9,276.9 476.1,276.0 476.4,275.0 476.6,274.0 476.8,272.9 477.1,271.8 477.3,270.6 477.5,269.3 477.8,268.0 478.0,266.7 478.2,265.2 478.5,263.8 478.7,262.3 478.9,260.7 479.2,259.1 479.4,257.4 479.6,255.7 479.9,253.9 480.1,252.1 480.3,250.2 480.6,248.3 480.8,246.4 481.0,244.4 481.3,242.4 481.5,240.4 481.7,238.3 482.0,236.3 482.2,234.2 482.4,232.1 482.7,230.0 482.9,227.9 483.1,225.9 483.4,223.8 483.6,221.8 483.8,219.8 484.1,217.8 484.3,215.9 484.5,214.1 484.8,212.3 485.0,210.5 485.2,208.9 485.5,207.4 485.7,205.9 485.9,204.6 486.2,203.3 486.4,202.2 486.6,201.3 486.9,200.4 487.1,199.7 487.3,199.2 487.6,198.8 487.8,198.5 488.0,198.5 488.3,198.6 488.5,198.8 488.7,199.1 489.0,199.5 489.2,200.0 489.4,200.6 489.7,201.4 489.9,202.2 490.1,203.1 490.4,204.0 490.6,205.1 490.8,206.2 491.1,207.5 491.3,208.8 491.5,210.1 491.8,211.6 492.0,213.0 492.2,214.6 492.5,216.2 492.7,217.8 492.9,219.5 493.2,221.3 493.4,223.0 493.6,224.8 493.9,226.7 494.1,228.5 494.3,230.4 494.6,232.3 494.8,234.2 495.0,236.1 495.3,238.1 495.5,240.0 495.7,241.9 496.0,243.8 496.2,245.8 496.4,247.7 496.7,249.6 496.9,251.4 497.1,253.3 497.4,255.2 497.6,257.0 497.9,258.8 498.1,260.5 498.3,262.3 498.6,264.0 498.8,265.7 499.0,267.4 499.3,269.0 499.5,270.6 499.7,272.2 500.0,273.7 500.2,275.2 500.4,276.7 500.7,278.1 500.9,279.5 501.1,280.9 501.4,282.2 501.6,283.5 501.8,284.8 502.1,286.0 502.3,287.2 502.5,288.3 502.8,289.4 503.0,290.5 503.2,291.5 503.5,292.5 503.7,293.5 503.9,294.4 504.2,295.3 504.4,296.1 504.6,296.9 504.9,297.7 505.1,298.5 505.3,299.2 505.6,299.9 505.8,300.5 506.0,301.2 506.3,301.8 506.5,302.4 506.7,303.0 507.0,303.5 507.2,304.0 507.4,304.5 507.7,305.0 507.9,305.4 508.1,305.9 508.4,306.3 508.6,306.7 508.8,307.1 509.1,307.4 509.3,307.8 509.5,308.1 509.8,308.4 510.0,308.7 510.2,309.0 510.5,309.3 510.7,309.5 510.9,309.8 511.2,310.0 511.4,310.2 511.6,310.5 511.9,310.7 512.1,310.9 512.3,311.1 512.6,311.2 512.8,311.4 513.0,311.6 513.3,311.7 513.5,311.9 513.7,312.1 514.0,312.2 514.2,312.3 514.4,312.5 514.7,312.6 514.9,312.7 515.1,312.8 515.4,313.0 515.6,313.1 515.8,313.2 516.1,313.3 516.3,313.4 516.5,313.5 516.8,313.6 517.0,313.7 517.2,313.8 517.5,313.8 517.7,313.9 517.9,314.0 518.2,314.1 518.4,314.2 518.6,314.3 518.9,314.3 519.1,314.4 519.3,314.5 519.6,314.5 519.8,314.6 520.0,314.7 520.3,314.8 520.5,314.8 520.7,314.9 521.0,314.9 521.2,315.0 521.4,315.1 521.7,315.1 521.9,315.2 522.1,315.2 522.4,315.3 522.6,315.4 522.8,315.4 523.1,315.5 523.3,315.5 523.5,315.6 523.8,315.6 524.0,315.7 524.2,315.7 524.5,315.8 524.7,315.8 524.9,315.8 525.2,315.9 525.4,315.9 525.6,316.0 525.9,316.0 526.1,316.1 526.3,316.1 526.6,316.1 526.8,316.2" fill="none" stroke="#6cc8d8" stroke-width="0.95" stroke-opacity="1.0" stroke-linejoin="round" />
<text x="403.30" y="34.50" font-size="7.5" fill="#333" stroke="#333" stroke-width="0.2" text-anchor="start"><tspan>W4d</tspan><tspan font-size="5.25" dy="2.2">3/2</tspan></text>
<text x="403.30" y="45.70" font-size="7.5" fill="#333" stroke="#333" stroke-width="0.2" text-anchor="start"><tspan>WO</tspan><tspan font-size="5.25" dy="2.2">3</tspan></text>
<text x="456.80" y="66.90" font-size="7.5" fill="#333" stroke="#333" stroke-width="0.2" text-anchor="start"><tspan>W4d</tspan><tspan font-size="5.25" dy="2.2">3/2</tspan></text>
<text x="456.80" y="78.10" font-size="7.5" fill="#333" stroke="#333" stroke-width="0.2" text-anchor="start"><tspan>WO</tspan><tspan font-size="5.25" dy="2.2">2</tspan></text>
<text x="509.00" y="36.30" font-size="7.5" fill="#333" stroke="#333" stroke-width="0.2" text-anchor="start"><tspan>W4d</tspan><tspan font-size="5.25" dy="2.2">5/2</tspan></text>
<text x="509.00" y="47.50" font-size="7.5" fill="#333" stroke="#333" stroke-width="0.2" text-anchor="start"><tspan>WO</tspan><tspan font-size="5.25" dy="2.2">3</tspan></text>
<text x="515.80" y="103.00" font-size="7.5" fill="#333" stroke="#333" stroke-width="0.2" text-anchor="start"><tspan>W4d</tspan><tspan font-size="5.25" dy="2.2">5/2</tspan></text>
<text x="515.80" y="114.20" font-size="7.5" fill="#333" stroke="#333" stroke-width="0.2" text-anchor="start"><tspan>WO</tspan><tspan font-size="5.25" dy="2.2">2</tspan></text>
<line x1="416.10" y1="47.70" x2="428.30" y2="57.50" stroke="#444" stroke-width="0.6"/>
<path d="M428.30,57.50 L425.80,56.79 L427.07,55.21Z" fill="#444"/>
<line x1="524.00" y1="117.70" x2="512.50" y2="129.00" stroke="#888" stroke-width="0.5"/>
<line x1="509.10" y1="49.10" x2="496.60" y2="66.00" stroke="#444" stroke-width="0.6"/>
<path d="M496.60,66.00 L497.21,63.47 L498.84,64.68Z" fill="#444"/>
<line x1="465.80" y1="82.10" x2="461.70" y2="103.80" stroke="#666" stroke-width="0.5"/>
<line x1="402.80" y1="138.20" x2="419.00" y2="138.20" stroke="#555" stroke-width="0.9"/>
<text x="421.50" y="141.20" font-size="7.55" fill="#333" stroke="#333" stroke-width="0.2" text-anchor="start" >measured</text>
<line x1="402.80" y1="146.80" x2="419.00" y2="146.80" stroke="#f29494" stroke-width="0.9"/>
<text x="421.50" y="149.50" font-size="7.55" fill="#333" stroke="#333" stroke-width="0.2" text-anchor="start" >composite spectrum</text>
<text x="401.80" y="166.60" font-size="8.7" fill="#555" stroke="#555" stroke-width="0.2" text-anchor="start"><tspan>1.0% W,V/ZnO/ZrO</tspan><tspan font-size="6.09" dy="2.2">2</tspan></text>
<text x="406.30" y="203.90" font-size="7.5" fill="#333" stroke="#333" stroke-width="0.2" text-anchor="start"><tspan>W4d</tspan><tspan font-size="5.25" dy="2.2">3/2</tspan></text>
<text x="406.30" y="215.10" font-size="7.5" fill="#333" stroke="#333" stroke-width="0.2" text-anchor="start"><tspan>WO</tspan><tspan font-size="5.25" dy="2.2">3</tspan></text>
<text x="455.40" y="233.40" font-size="7.5" fill="#333" stroke="#333" stroke-width="0.2" text-anchor="start"><tspan>W4d</tspan><tspan font-size="5.25" dy="2.2">3/2</tspan></text>
<text x="455.40" y="244.60" font-size="7.5" fill="#333" stroke="#333" stroke-width="0.2" text-anchor="start"><tspan>WO</tspan><tspan font-size="5.25" dy="2.2">2</tspan></text>
<text x="503.50" y="216.80" font-size="7.5" fill="#333" stroke="#333" stroke-width="0.2" text-anchor="start"><tspan>W4d</tspan><tspan font-size="5.25" dy="2.2">5/2</tspan></text>
<text x="503.50" y="228.00" font-size="7.5" fill="#333" stroke="#333" stroke-width="0.2" text-anchor="start"><tspan>WO</tspan><tspan font-size="5.25" dy="2.2">3</tspan></text>
<text x="511.90" y="274.40" font-size="7.5" fill="#333" stroke="#333" stroke-width="0.2" text-anchor="start"><tspan>W4d</tspan><tspan font-size="5.25" dy="2.2">5/2</tspan></text>
<text x="511.90" y="285.60" font-size="7.5" fill="#333" stroke="#333" stroke-width="0.2" text-anchor="start"><tspan>WO</tspan><tspan font-size="5.25" dy="2.2">2</tspan></text>
<line x1="510.30" y1="232.30" x2="503.50" y2="249.30" stroke="#444" stroke-width="0.6"/>
<path d="M503.50,249.30 L503.45,246.70 L505.33,247.45Z" fill="#444"/>
<line x1="415.50" y1="217.70" x2="429.70" y2="238.90" stroke="#444" stroke-width="0.6"/>
<path d="M429.70,238.90 L427.53,237.47 L429.21,236.35Z" fill="#444"/>
<line x1="466.90" y1="252.00" x2="463.30" y2="282.90" stroke="#999" stroke-width="0.5"/>
<line x1="517.50" y1="289.70" x2="511.50" y2="303.10" stroke="#666" stroke-width="0.5"/>
<text x="401.80" y="328.60" font-size="8.7" fill="#555" stroke="#555" stroke-width="0.2" text-anchor="start"><tspan>1.0% W,V/ZnO/Al</tspan><tspan font-size="6.09" dy="2.2">2</tspan><tspan dy="-2.2">O</tspan><tspan font-size="6.09" dy="2.2">3</tspan></text>
<text x="42.00" y="22.20" font-size="12.9" fill="#2222bb" stroke="#2222bb" stroke-width="0.2" text-anchor="start" >(a) O1s, V2p</text>
<text x="220.60" y="22.10" font-size="13.1" fill="#2222bb" stroke="#2222bb" stroke-width="0.2" text-anchor="start" >(b) W4f</text>
<text x="400.00" y="22.10" font-size="13.2" fill="#2222bb" stroke="#2222bb" stroke-width="0.2" text-anchor="start" >(c) W4d</text>
<text x="0" y="0" font-size="13.6" fill="#222" stroke="#222" stroke-width="0.2" text-anchor="middle" transform="translate(16.6,28.3) rotate(-90)">CPS</text>
<text x="112.75" y="356.80" font-size="8.8" fill="#333" stroke="#333" stroke-width="0.2" text-anchor="middle" >Binding energy [eV]</text>
<text x="290.60" y="356.80" font-size="8.8" fill="#333" stroke="#333" stroke-width="0.2" text-anchor="middle" >Binding energy [eV]</text>
<text x="470.70" y="356.80" font-size="8.8" fill="#333" stroke="#333" stroke-width="0.2" text-anchor="middle" >Binding energy [eV]</text>
</g>
</svg>
</body></html>
